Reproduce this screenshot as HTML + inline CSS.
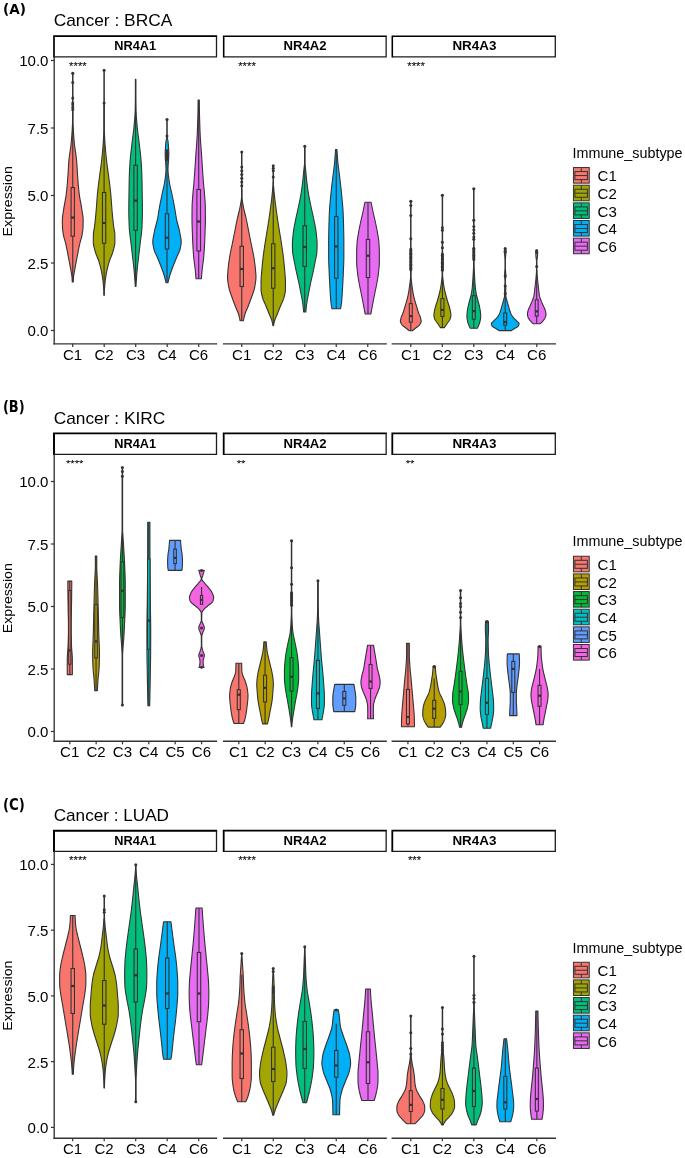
<!DOCTYPE html>
<html lang="en"><head><meta charset="utf-8"><title>NR4A expression by immune subtype</title>
<style>
html,body{margin:0;padding:0;background:#fff}
body{width:685px;height:1158px;overflow:hidden}
svg text{font-family:"Liberation Sans",sans-serif;fill:#000}
svg text.tag{font-family:"DejaVu Sans","Liberation Sans",sans-serif;font-weight:bold;font-size:13.6px}
.title{font-size:16.2px}
.strip{font-weight:bold;font-size:12.9px}
.ax{font-size:14.4px}
.legt{font-size:14.2px}
.ylab{font-size:13.7px}
.star{font-size:10.8px;fill:#000;stroke:#000;stroke-width:0.1px}
</style></head><body>
<svg width="685" height="1158" viewBox="0 0 685 1158" style="display:block">
<rect width="685" height="1158" fill="#fff"/>
<defs><clipPath id="cb"><rect x="0" y="450" width="685" height="13.25"/></clipPath></defs>
<g id="violins">
<path d="M72.95 73.30L72.95 74.30L72.95 75.30L72.95 76.30L72.95 77.30L72.95 78.30L72.95 79.30L72.95 80.30L72.95 81.30L72.95 82.30L72.95 83.30L72.95 84.30L72.95 85.30L72.95 86.30L72.95 87.30L72.95 88.30L72.95 89.30L72.95 90.30L72.95 91.30L72.95 92.30L72.95 93.30L72.95 94.30L72.95 95.30L72.95 96.30L72.95 97.30L72.95 98.30L72.95 99.30L72.95 100.30L72.95 101.30L72.95 102.30L72.95 103.30L72.95 104.30L72.95 105.30L72.95 106.30L72.95 107.30L72.95 108.30L72.95 109.30L72.95 110.30L72.95 111.30L72.95 112.30L72.95 113.30L72.95 114.30L72.95 115.30L72.95 116.30L72.95 117.30L72.95 118.30L72.95 119.30L72.95 120.30L72.95 121.30L72.95 122.30L72.99 123.30L73.04 124.30L73.09 125.30L73.13 126.30L73.18 127.30L73.23 128.30L73.28 129.30L73.34 130.30L73.40 131.30L73.46 132.30L73.53 133.30L73.60 134.30L73.67 135.30L73.75 136.30L73.83 137.30L73.91 138.30L73.99 139.30L74.08 140.30L74.17 141.30L74.26 142.30L74.35 143.30L74.45 144.30L74.56 145.30L74.69 146.30L74.82 147.30L74.96 148.30L75.11 149.30L75.26 150.30L75.41 151.30L75.56 152.30L75.71 153.30L75.86 154.30L76.00 155.30L76.14 156.30L76.26 157.30L76.38 158.30L76.48 159.30L76.58 160.30L76.66 161.30L76.74 162.30L76.81 163.30L76.88 164.30L76.94 165.30L77.00 166.30L77.06 167.30L77.12 168.30L77.18 169.30L77.24 170.30L77.29 171.30L77.35 172.30L77.42 173.30L77.48 174.30L77.55 175.30L77.62 176.30L77.70 177.30L77.77 178.30L77.85 179.30L77.93 180.30L78.01 181.30L78.09 182.30L78.17 183.30L78.25 184.30L78.34 185.30L78.43 186.30L78.52 187.30L78.62 188.30L78.72 189.30L78.82 190.30L78.92 191.30L79.03 192.30L79.15 193.30L79.27 194.30L79.41 195.30L79.56 196.30L79.73 197.30L79.90 198.30L80.07 199.30L80.26 200.30L80.44 201.30L80.63 202.30L80.82 203.30L81.00 204.30L81.19 205.30L81.36 206.30L81.54 207.30L81.70 208.30L81.85 209.30L81.99 210.30L82.14 211.30L82.30 212.30L82.46 213.30L82.62 214.30L82.77 215.30L82.90 216.30L83.01 217.30L83.09 218.30L83.14 219.30L83.15 220.30L83.15 221.30L83.14 222.30L83.12 223.30L83.10 224.30L83.08 225.30L83.06 226.30L83.03 227.30L82.97 228.30L82.88 229.30L82.77 230.30L82.63 231.30L82.49 232.30L82.33 233.30L82.17 234.30L82.00 235.30L81.79 236.30L81.54 237.30L81.27 238.30L80.97 239.30L80.67 240.30L80.38 241.30L80.10 242.30L79.85 243.30L79.62 244.30L79.40 245.30L79.19 246.30L78.98 247.30L78.78 248.30L78.58 249.30L78.38 250.30L78.19 251.30L78.00 252.30L77.81 253.30L77.62 254.30L77.43 255.30L77.24 256.30L77.04 257.30L76.85 258.30L76.65 259.30L76.46 260.30L76.26 261.30L76.07 262.30L75.88 263.30L75.69 264.30L75.50 265.30L75.32 266.30L75.14 267.30L74.96 268.30L74.78 269.30L74.61 270.30L74.43 271.30L74.24 272.30L74.06 273.30L73.89 274.30L73.74 275.30L73.62 276.30L73.52 277.30L73.44 278.30L73.37 279.30L73.31 280.30L73.27 281.30L73.25 282.00L72.25 282.00L72.23 281.30L72.19 280.30L72.13 279.30L72.06 278.30L71.98 277.30L71.88 276.30L71.76 275.30L71.61 274.30L71.44 273.30L71.26 272.30L71.07 271.30L70.89 270.30L70.72 269.30L70.54 268.30L70.36 267.30L70.18 266.30L70.00 265.30L69.81 264.30L69.62 263.30L69.43 262.30L69.24 261.30L69.04 260.30L68.85 259.30L68.65 258.30L68.46 257.30L68.26 256.30L68.07 255.30L67.88 254.30L67.69 253.30L67.50 252.30L67.31 251.30L67.12 250.30L66.92 249.30L66.72 248.30L66.52 247.30L66.31 246.30L66.10 245.30L65.88 244.30L65.65 243.30L65.40 242.30L65.12 241.30L64.83 240.30L64.53 239.30L64.23 238.30L63.96 237.30L63.71 236.30L63.50 235.30L63.33 234.30L63.17 233.30L63.01 232.30L62.87 231.30L62.73 230.30L62.62 229.30L62.53 228.30L62.47 227.30L62.44 226.30L62.42 225.30L62.40 224.30L62.38 223.30L62.36 222.30L62.35 221.30L62.35 220.30L62.36 219.30L62.41 218.30L62.49 217.30L62.60 216.30L62.73 215.30L62.88 214.30L63.04 213.30L63.20 212.30L63.36 211.30L63.51 210.30L63.65 209.30L63.80 208.30L63.96 207.30L64.14 206.30L64.31 205.30L64.50 204.30L64.68 203.30L64.87 202.30L65.06 201.30L65.24 200.30L65.43 199.30L65.60 198.30L65.77 197.30L65.94 196.30L66.09 195.30L66.23 194.30L66.35 193.30L66.47 192.30L66.58 191.30L66.68 190.30L66.78 189.30L66.88 188.30L66.98 187.30L67.07 186.30L67.16 185.30L67.25 184.30L67.33 183.30L67.41 182.30L67.49 181.30L67.57 180.30L67.65 179.30L67.73 178.30L67.80 177.30L67.88 176.30L67.95 175.30L68.02 174.30L68.08 173.30L68.15 172.30L68.21 171.30L68.26 170.30L68.32 169.30L68.38 168.30L68.44 167.30L68.50 166.30L68.56 165.30L68.62 164.30L68.69 163.30L68.76 162.30L68.84 161.30L68.92 160.30L69.02 159.30L69.12 158.30L69.24 157.30L69.36 156.30L69.50 155.30L69.64 154.30L69.79 153.30L69.94 152.30L70.09 151.30L70.24 150.30L70.39 149.30L70.54 148.30L70.68 147.30L70.81 146.30L70.94 145.30L71.05 144.30L71.15 143.30L71.24 142.30L71.33 141.30L71.42 140.30L71.51 139.30L71.59 138.30L71.67 137.30L71.75 136.30L71.83 135.30L71.90 134.30L71.97 133.30L72.04 132.30L72.10 131.30L72.16 130.30L72.22 129.30L72.27 128.30L72.32 127.30L72.37 126.30L72.41 125.30L72.46 124.30L72.51 123.30L72.55 122.30L72.55 121.30L72.55 120.30L72.55 119.30L72.55 118.30L72.55 117.30L72.55 116.30L72.55 115.30L72.55 114.30L72.55 113.30L72.55 112.30L72.55 111.30L72.55 110.30L72.55 109.30L72.55 108.30L72.55 107.30L72.55 106.30L72.55 105.30L72.55 104.30L72.55 103.30L72.55 102.30L72.55 101.30L72.55 100.30L72.55 99.30L72.55 98.30L72.55 97.30L72.55 96.30L72.55 95.30L72.55 94.30L72.55 93.30L72.55 92.30L72.55 91.30L72.55 90.30L72.55 89.30L72.55 88.30L72.55 87.30L72.55 86.30L72.55 85.30L72.55 84.30L72.55 83.30L72.55 82.30L72.55 81.30L72.55 80.30L72.55 79.30L72.55 78.30L72.55 77.30L72.55 76.30L72.55 75.30L72.55 74.30L72.55 73.30Z" fill="#F8766D" stroke="#333333" stroke-width="1.1" stroke-linejoin="round"/>
<path d="M104.30 70.30L104.30 71.30L104.30 72.30L104.30 73.30L104.30 74.30L104.30 75.30L104.30 76.30L104.30 77.30L104.30 78.30L104.30 79.30L104.30 80.30L104.30 81.30L104.30 82.30L104.30 83.30L104.30 84.30L104.30 85.30L104.30 86.30L104.30 87.30L104.30 88.30L104.30 89.30L104.30 90.30L104.30 91.30L104.30 92.30L104.30 93.30L104.30 94.30L104.30 95.30L104.30 96.30L104.30 97.30L104.30 98.30L104.30 99.30L104.30 100.30L104.30 101.30L104.30 102.30L104.30 103.30L104.30 104.30L104.30 105.30L104.30 106.30L104.30 107.30L104.30 108.30L104.30 109.30L104.30 110.30L104.30 111.30L104.30 112.30L104.30 113.30L104.30 114.30L104.30 115.30L104.30 116.30L104.30 117.30L104.30 118.30L104.30 119.30L104.30 120.30L104.30 121.30L104.30 122.30L104.30 123.30L104.30 124.30L104.30 125.30L104.30 126.30L104.30 127.30L104.30 128.30L104.30 129.30L104.30 130.30L104.34 131.30L104.38 132.30L104.43 133.30L104.47 134.30L104.53 135.30L104.58 136.30L104.64 137.30L104.69 138.30L104.75 139.30L104.81 140.30L104.88 141.30L104.94 142.30L105.00 143.30L105.06 144.30L105.13 145.30L105.21 146.30L105.28 147.30L105.36 148.30L105.45 149.30L105.54 150.30L105.63 151.30L105.72 152.30L105.81 153.30L105.91 154.30L106.01 155.30L106.11 156.30L106.22 157.30L106.32 158.30L106.43 159.30L106.53 160.30L106.64 161.30L106.76 162.30L106.88 163.30L107.01 164.30L107.14 165.30L107.28 166.30L107.41 167.30L107.55 168.30L107.69 169.30L107.83 170.30L107.97 171.30L108.11 172.30L108.25 173.30L108.39 174.30L108.52 175.30L108.65 176.30L108.78 177.30L108.90 178.30L109.03 179.30L109.16 180.30L109.29 181.30L109.42 182.30L109.55 183.30L109.68 184.30L109.80 185.30L109.93 186.30L110.05 187.30L110.17 188.30L110.28 189.30L110.39 190.30L110.50 191.30L110.60 192.30L110.70 193.30L110.79 194.30L110.88 195.30L110.96 196.30L111.04 197.30L111.12 198.30L111.19 199.30L111.27 200.30L111.34 201.30L111.41 202.30L111.48 203.30L111.55 204.30L111.62 205.30L111.70 206.30L111.78 207.30L111.86 208.30L111.94 209.30L112.03 210.30L112.12 211.30L112.20 212.30L112.30 213.30L112.39 214.30L112.48 215.30L112.57 216.30L112.67 217.30L112.77 218.30L112.87 219.30L112.97 220.30L113.08 221.30L113.19 222.30L113.30 223.30L113.41 224.30L113.53 225.30L113.65 226.30L113.78 227.30L113.95 228.30L114.14 229.30L114.33 230.30L114.51 231.30L114.66 232.30L114.77 233.30L114.81 234.30L114.83 235.30L114.85 236.30L114.86 237.30L114.88 238.30L114.89 239.30L114.90 240.30L114.90 241.30L114.90 242.30L114.84 243.30L114.73 244.30L114.56 245.30L114.35 246.30L114.11 247.30L113.84 248.30L113.56 249.30L113.28 250.30L112.99 251.30L112.72 252.30L112.41 253.30L112.06 254.30L111.68 255.30L111.28 256.30L110.86 257.30L110.45 258.30L110.05 259.30L109.67 260.30L109.32 261.30L109.01 262.30L108.72 263.30L108.43 264.30L108.16 265.30L107.89 266.30L107.64 267.30L107.39 268.30L107.16 269.30L106.94 270.30L106.73 271.30L106.54 272.30L106.36 273.30L106.18 274.30L106.01 275.30L105.85 276.30L105.70 277.30L105.55 278.30L105.42 279.30L105.29 280.30L105.17 281.30L105.07 282.30L104.97 283.30L104.87 284.30L104.78 285.30L104.68 286.30L104.60 287.30L104.51 288.30L104.43 289.30L104.36 290.30L104.30 291.30L104.30 292.30L104.30 293.30L104.30 294.30L104.30 295.25L103.90 295.25L103.90 294.30L103.90 293.30L103.90 292.30L103.90 291.30L103.84 290.30L103.77 289.30L103.69 288.30L103.60 287.30L103.52 286.30L103.42 285.30L103.33 284.30L103.23 283.30L103.13 282.30L103.03 281.30L102.91 280.30L102.78 279.30L102.65 278.30L102.50 277.30L102.35 276.30L102.19 275.30L102.02 274.30L101.84 273.30L101.66 272.30L101.47 271.30L101.26 270.30L101.04 269.30L100.81 268.30L100.56 267.30L100.31 266.30L100.04 265.30L99.77 264.30L99.48 263.30L99.19 262.30L98.88 261.30L98.53 260.30L98.15 259.30L97.75 258.30L97.34 257.30L96.92 256.30L96.52 255.30L96.14 254.30L95.79 253.30L95.48 252.30L95.21 251.30L94.92 250.30L94.64 249.30L94.36 248.30L94.09 247.30L93.85 246.30L93.64 245.30L93.47 244.30L93.36 243.30L93.30 242.30L93.30 241.30L93.30 240.30L93.31 239.30L93.32 238.30L93.34 237.30L93.35 236.30L93.37 235.30L93.39 234.30L93.43 233.30L93.54 232.30L93.69 231.30L93.87 230.30L94.06 229.30L94.25 228.30L94.42 227.30L94.55 226.30L94.67 225.30L94.79 224.30L94.90 223.30L95.01 222.30L95.12 221.30L95.23 220.30L95.33 219.30L95.43 218.30L95.53 217.30L95.63 216.30L95.72 215.30L95.81 214.30L95.90 213.30L96.00 212.30L96.08 211.30L96.17 210.30L96.26 209.30L96.34 208.30L96.42 207.30L96.50 206.30L96.58 205.30L96.65 204.30L96.72 203.30L96.79 202.30L96.86 201.30L96.93 200.30L97.01 199.30L97.08 198.30L97.16 197.30L97.24 196.30L97.32 195.30L97.41 194.30L97.50 193.30L97.60 192.30L97.70 191.30L97.81 190.30L97.92 189.30L98.03 188.30L98.15 187.30L98.27 186.30L98.40 185.30L98.52 184.30L98.65 183.30L98.78 182.30L98.91 181.30L99.04 180.30L99.17 179.30L99.30 178.30L99.42 177.30L99.55 176.30L99.68 175.30L99.81 174.30L99.95 173.30L100.09 172.30L100.23 171.30L100.37 170.30L100.51 169.30L100.65 168.30L100.79 167.30L100.92 166.30L101.06 165.30L101.19 164.30L101.32 163.30L101.44 162.30L101.56 161.30L101.67 160.30L101.77 159.30L101.88 158.30L101.98 157.30L102.09 156.30L102.19 155.30L102.29 154.30L102.39 153.30L102.48 152.30L102.57 151.30L102.66 150.30L102.75 149.30L102.84 148.30L102.92 147.30L102.99 146.30L103.07 145.30L103.14 144.30L103.20 143.30L103.26 142.30L103.32 141.30L103.39 140.30L103.45 139.30L103.51 138.30L103.56 137.30L103.62 136.30L103.67 135.30L103.73 134.30L103.77 133.30L103.82 132.30L103.86 131.30L103.90 130.30L103.90 129.30L103.90 128.30L103.90 127.30L103.90 126.30L103.90 125.30L103.90 124.30L103.90 123.30L103.90 122.30L103.90 121.30L103.90 120.30L103.90 119.30L103.90 118.30L103.90 117.30L103.90 116.30L103.90 115.30L103.90 114.30L103.90 113.30L103.90 112.30L103.90 111.30L103.90 110.30L103.90 109.30L103.90 108.30L103.90 107.30L103.90 106.30L103.90 105.30L103.90 104.30L103.90 103.30L103.90 102.30L103.90 101.30L103.90 100.30L103.90 99.30L103.90 98.30L103.90 97.30L103.90 96.30L103.90 95.30L103.90 94.30L103.90 93.30L103.90 92.30L103.90 91.30L103.90 90.30L103.90 89.30L103.90 88.30L103.90 87.30L103.90 86.30L103.90 85.30L103.90 84.30L103.90 83.30L103.90 82.30L103.90 81.30L103.90 80.30L103.90 79.30L103.90 78.30L103.90 77.30L103.90 76.30L103.90 75.30L103.90 74.30L103.90 73.30L103.90 72.30L103.90 71.30L103.90 70.30Z" fill="#A3A500" stroke="#333333" stroke-width="1.1" stroke-linejoin="round"/>
<path d="M135.80 79.30L135.80 80.30L135.80 81.30L135.80 82.30L135.80 83.30L135.80 84.30L135.80 85.30L135.80 86.30L135.80 87.30L135.80 88.30L135.80 89.30L135.80 90.30L135.80 91.30L135.80 92.30L135.80 93.30L135.80 94.30L135.80 95.30L135.81 96.30L135.82 97.30L135.83 98.30L135.84 99.30L135.85 100.30L135.86 101.30L135.87 102.30L135.88 103.30L135.90 104.30L135.91 105.30L135.93 106.30L135.95 107.30L135.96 108.30L135.98 109.30L136.01 110.30L136.04 111.30L136.08 112.30L136.12 113.30L136.18 114.30L136.24 115.30L136.30 116.30L136.38 117.30L136.45 118.30L136.54 119.30L136.62 120.30L136.71 121.30L136.80 122.30L136.89 123.30L136.98 124.30L137.07 125.30L137.16 126.30L137.26 127.30L137.35 128.30L137.46 129.30L137.57 130.30L137.69 131.30L137.81 132.30L137.93 133.30L138.06 134.30L138.19 135.30L138.32 136.30L138.45 137.30L138.58 138.30L138.71 139.30L138.84 140.30L138.96 141.30L139.08 142.30L139.20 143.30L139.32 144.30L139.43 145.30L139.55 146.30L139.67 147.30L139.79 148.30L139.91 149.30L140.03 150.30L140.15 151.30L140.26 152.30L140.37 153.30L140.48 154.30L140.59 155.30L140.69 156.30L140.78 157.30L140.87 158.30L140.95 159.30L141.02 160.30L141.09 161.30L141.16 162.30L141.23 163.30L141.30 164.30L141.36 165.30L141.42 166.30L141.48 167.30L141.54 168.30L141.60 169.30L141.65 170.30L141.70 171.30L141.74 172.30L141.78 173.30L141.82 174.30L141.86 175.30L141.89 176.30L141.92 177.30L141.94 178.30L141.96 179.30L141.99 180.30L142.01 181.30L142.03 182.30L142.05 183.30L142.06 184.30L142.08 185.30L142.10 186.30L142.11 187.30L142.13 188.30L142.14 189.30L142.16 190.30L142.17 191.30L142.19 192.30L142.20 193.30L142.21 194.30L142.23 195.30L142.25 196.30L142.26 197.30L142.28 198.30L142.29 199.30L142.31 200.30L142.33 201.30L142.34 202.30L142.35 203.30L142.36 204.30L142.38 205.30L142.38 206.30L142.39 207.30L142.40 208.30L142.40 209.30L142.40 210.30L142.40 211.30L142.39 212.30L142.38 213.30L142.37 214.30L142.35 215.30L142.33 216.30L142.31 217.30L142.28 218.30L142.26 219.30L142.23 220.30L142.20 221.30L142.16 222.30L142.13 223.30L142.09 224.30L142.05 225.30L142.02 226.30L141.97 227.30L141.92 228.30L141.85 229.30L141.76 230.30L141.67 231.30L141.57 232.30L141.46 233.30L141.34 234.30L141.21 235.30L141.09 236.30L140.96 237.30L140.83 238.30L140.69 239.30L140.56 240.30L140.44 241.30L140.32 242.30L140.20 243.30L140.09 244.30L139.97 245.30L139.86 246.30L139.74 247.30L139.62 248.30L139.50 249.30L139.39 250.30L139.27 251.30L139.15 252.30L139.03 253.30L138.91 254.30L138.80 255.30L138.68 256.30L138.57 257.30L138.45 258.30L138.33 259.30L138.21 260.30L138.10 261.30L137.98 262.30L137.86 263.30L137.75 264.30L137.63 265.30L137.52 266.30L137.42 267.30L137.32 268.30L137.22 269.30L137.13 270.30L137.04 271.30L136.95 272.30L136.86 273.30L136.78 274.30L136.70 275.30L136.62 276.30L136.55 277.30L136.47 278.30L136.40 279.30L136.32 280.30L136.25 281.30L136.18 282.30L136.11 283.30L136.04 284.30L135.98 285.30L135.91 286.30L135.90 286.50L135.30 286.50L135.29 286.30L135.22 285.30L135.16 284.30L135.09 283.30L135.02 282.30L134.95 281.30L134.88 280.30L134.80 279.30L134.73 278.30L134.65 277.30L134.58 276.30L134.50 275.30L134.42 274.30L134.34 273.30L134.25 272.30L134.16 271.30L134.07 270.30L133.98 269.30L133.88 268.30L133.78 267.30L133.68 266.30L133.57 265.30L133.45 264.30L133.34 263.30L133.22 262.30L133.10 261.30L132.99 260.30L132.87 259.30L132.75 258.30L132.63 257.30L132.52 256.30L132.40 255.30L132.29 254.30L132.17 253.30L132.05 252.30L131.93 251.30L131.81 250.30L131.70 249.30L131.58 248.30L131.46 247.30L131.34 246.30L131.23 245.30L131.11 244.30L131.00 243.30L130.88 242.30L130.76 241.30L130.64 240.30L130.51 239.30L130.37 238.30L130.24 237.30L130.11 236.30L129.99 235.30L129.86 234.30L129.74 233.30L129.63 232.30L129.53 231.30L129.44 230.30L129.35 229.30L129.28 228.30L129.23 227.30L129.18 226.30L129.15 225.30L129.11 224.30L129.07 223.30L129.04 222.30L129.00 221.30L128.97 220.30L128.94 219.30L128.92 218.30L128.89 217.30L128.87 216.30L128.85 215.30L128.83 214.30L128.82 213.30L128.81 212.30L128.80 211.30L128.80 210.30L128.80 209.30L128.80 208.30L128.81 207.30L128.82 206.30L128.82 205.30L128.84 204.30L128.85 203.30L128.86 202.30L128.87 201.30L128.89 200.30L128.91 199.30L128.92 198.30L128.94 197.30L128.95 196.30L128.97 195.30L128.99 194.30L129.00 193.30L129.01 192.30L129.03 191.30L129.04 190.30L129.06 189.30L129.07 188.30L129.09 187.30L129.10 186.30L129.12 185.30L129.14 184.30L129.15 183.30L129.17 182.30L129.19 181.30L129.21 180.30L129.24 179.30L129.26 178.30L129.28 177.30L129.31 176.30L129.34 175.30L129.38 174.30L129.42 173.30L129.46 172.30L129.50 171.30L129.55 170.30L129.60 169.30L129.66 168.30L129.72 167.30L129.78 166.30L129.84 165.30L129.90 164.30L129.97 163.30L130.04 162.30L130.11 161.30L130.18 160.30L130.25 159.30L130.33 158.30L130.42 157.30L130.51 156.30L130.61 155.30L130.72 154.30L130.83 153.30L130.94 152.30L131.05 151.30L131.17 150.30L131.29 149.30L131.41 148.30L131.53 147.30L131.65 146.30L131.77 145.30L131.88 144.30L132.00 143.30L132.12 142.30L132.24 141.30L132.36 140.30L132.49 139.30L132.62 138.30L132.75 137.30L132.88 136.30L133.01 135.30L133.14 134.30L133.27 133.30L133.39 132.30L133.51 131.30L133.63 130.30L133.74 129.30L133.85 128.30L133.94 127.30L134.04 126.30L134.13 125.30L134.22 124.30L134.31 123.30L134.40 122.30L134.49 121.30L134.58 120.30L134.66 119.30L134.75 118.30L134.82 117.30L134.90 116.30L134.96 115.30L135.02 114.30L135.08 113.30L135.12 112.30L135.16 111.30L135.19 110.30L135.22 109.30L135.24 108.30L135.25 107.30L135.27 106.30L135.29 105.30L135.30 104.30L135.32 103.30L135.33 102.30L135.34 101.30L135.35 100.30L135.36 99.30L135.37 98.30L135.38 97.30L135.39 96.30L135.40 95.30L135.40 94.30L135.40 93.30L135.40 92.30L135.40 91.30L135.40 90.30L135.40 89.30L135.40 88.30L135.40 87.30L135.40 86.30L135.40 85.30L135.40 84.30L135.40 83.30L135.40 82.30L135.40 81.30L135.40 80.30L135.40 79.30Z" fill="#00BF7D" stroke="#333333" stroke-width="1.1" stroke-linejoin="round"/>
<path d="M167.20 119.50L167.20 120.50L167.20 121.50L167.20 122.50L167.20 123.50L167.20 124.50L167.20 125.50L167.20 126.50L167.20 127.50L167.20 128.50L167.20 129.50L167.20 130.50L167.20 131.50L167.20 132.50L167.20 133.50L167.20 134.50L167.20 135.50L167.23 136.50L167.35 137.50L167.52 138.50L167.71 139.50L167.90 140.50L168.05 141.50L168.14 142.50L168.23 143.50L168.31 144.50L168.39 145.50L168.47 146.50L168.54 147.50L168.60 148.50L168.66 149.50L168.71 150.50L168.75 151.50L168.78 152.50L168.79 153.50L168.80 154.50L168.79 155.50L168.76 156.50L168.72 157.50L168.66 158.50L168.59 159.50L168.52 160.50L168.44 161.50L168.36 162.50L168.28 163.50L168.21 164.50L168.14 165.50L168.08 166.50L168.04 167.50L168.01 168.50L168.00 169.50L168.01 170.50L168.05 171.50L168.12 172.50L168.20 173.50L168.30 174.50L168.42 175.50L168.55 176.50L168.69 177.50L168.83 178.50L168.98 179.50L169.13 180.50L169.28 181.50L169.42 182.50L169.59 183.50L169.77 184.50L169.97 185.50L170.18 186.50L170.41 187.50L170.63 188.50L170.87 189.50L171.10 190.50L171.34 191.50L171.57 192.50L171.79 193.50L172.00 194.50L172.21 195.50L172.41 196.50L172.62 197.50L172.83 198.50L173.03 199.50L173.24 200.50L173.44 201.50L173.64 202.50L173.84 203.50L174.03 204.50L174.22 205.50L174.41 206.50L174.59 207.50L174.76 208.50L174.93 209.50L175.09 210.50L175.25 211.50L175.41 212.50L175.56 213.50L175.72 214.50L175.88 215.50L176.05 216.50L176.22 217.50L176.41 218.50L176.60 219.50L176.81 220.50L177.05 221.50L177.30 222.50L177.56 223.50L177.83 224.50L178.10 225.50L178.38 226.50L178.65 227.50L178.91 228.50L179.16 229.50L179.39 230.50L179.60 231.50L179.79 232.50L179.99 233.50L180.19 234.50L180.40 235.50L180.59 236.50L180.77 237.50L180.92 238.50L181.05 239.50L181.14 240.50L181.19 241.50L181.19 242.50L181.13 243.50L181.02 244.50L180.86 245.50L180.67 246.50L180.46 247.50L180.23 248.50L180.00 249.50L179.72 250.50L179.35 251.50L178.92 252.50L178.45 253.50L177.96 254.50L177.47 255.50L177.01 256.50L176.59 257.50L176.18 258.50L175.77 259.50L175.36 260.50L174.95 261.50L174.54 262.50L174.14 263.50L173.74 264.50L173.35 265.50L172.97 266.50L172.59 267.50L172.21 268.50L171.85 269.50L171.49 270.50L171.13 271.50L170.78 272.50L170.43 273.50L170.10 274.50L169.79 275.50L169.49 276.50L169.21 277.50L168.95 278.50L168.71 279.50L168.47 280.50L168.25 281.50L168.05 282.50L168.00 282.75L166.00 282.75L165.95 282.50L165.75 281.50L165.53 280.50L165.29 279.50L165.05 278.50L164.79 277.50L164.51 276.50L164.21 275.50L163.90 274.50L163.57 273.50L163.22 272.50L162.87 271.50L162.51 270.50L162.15 269.50L161.79 268.50L161.41 267.50L161.03 266.50L160.65 265.50L160.26 264.50L159.86 263.50L159.46 262.50L159.05 261.50L158.64 260.50L158.23 259.50L157.82 258.50L157.41 257.50L156.99 256.50L156.53 255.50L156.04 254.50L155.55 253.50L155.08 252.50L154.65 251.50L154.28 250.50L154.00 249.50L153.77 248.50L153.54 247.50L153.33 246.50L153.14 245.50L152.98 244.50L152.87 243.50L152.81 242.50L152.81 241.50L152.86 240.50L152.95 239.50L153.08 238.50L153.23 237.50L153.41 236.50L153.60 235.50L153.81 234.50L154.01 233.50L154.21 232.50L154.40 231.50L154.61 230.50L154.84 229.50L155.09 228.50L155.35 227.50L155.62 226.50L155.90 225.50L156.17 224.50L156.44 223.50L156.70 222.50L156.95 221.50L157.19 220.50L157.40 219.50L157.59 218.50L157.78 217.50L157.95 216.50L158.12 215.50L158.28 214.50L158.44 213.50L158.59 212.50L158.75 211.50L158.91 210.50L159.07 209.50L159.24 208.50L159.41 207.50L159.59 206.50L159.78 205.50L159.97 204.50L160.16 203.50L160.36 202.50L160.56 201.50L160.76 200.50L160.97 199.50L161.17 198.50L161.38 197.50L161.59 196.50L161.79 195.50L162.00 194.50L162.21 193.50L162.43 192.50L162.66 191.50L162.90 190.50L163.13 189.50L163.37 188.50L163.59 187.50L163.82 186.50L164.03 185.50L164.23 184.50L164.41 183.50L164.58 182.50L164.72 181.50L164.87 180.50L165.02 179.50L165.17 178.50L165.31 177.50L165.45 176.50L165.58 175.50L165.70 174.50L165.80 173.50L165.88 172.50L165.95 171.50L165.99 170.50L166.00 169.50L165.99 168.50L165.96 167.50L165.92 166.50L165.86 165.50L165.79 164.50L165.72 163.50L165.64 162.50L165.56 161.50L165.48 160.50L165.41 159.50L165.34 158.50L165.28 157.50L165.24 156.50L165.21 155.50L165.20 154.50L165.21 153.50L165.22 152.50L165.25 151.50L165.29 150.50L165.34 149.50L165.40 148.50L165.46 147.50L165.53 146.50L165.61 145.50L165.69 144.50L165.77 143.50L165.86 142.50L165.95 141.50L166.10 140.50L166.29 139.50L166.48 138.50L166.65 137.50L166.77 136.50L166.80 135.50L166.80 134.50L166.80 133.50L166.80 132.50L166.80 131.50L166.80 130.50L166.80 129.50L166.80 128.50L166.80 127.50L166.80 126.50L166.80 125.50L166.80 124.50L166.80 123.50L166.80 122.50L166.80 121.50L166.80 120.50L166.80 119.50Z" fill="#00B0F6" stroke="#333333" stroke-width="1.1" stroke-linejoin="round"/>
<path d="M199.30 100.00L199.30 101.00L199.30 102.00L199.31 103.00L199.32 104.00L199.33 105.00L199.34 106.00L199.35 107.00L199.36 108.00L199.38 109.00L199.40 110.00L199.42 111.00L199.44 112.00L199.46 113.00L199.48 114.00L199.51 115.00L199.53 116.00L199.56 117.00L199.59 118.00L199.62 119.00L199.65 120.00L199.68 121.00L199.71 122.00L199.74 123.00L199.77 124.00L199.81 125.00L199.84 126.00L199.88 127.00L199.91 128.00L199.94 129.00L199.98 130.00L200.01 131.00L200.05 132.00L200.09 133.00L200.13 134.00L200.18 135.00L200.23 136.00L200.28 137.00L200.34 138.00L200.40 139.00L200.46 140.00L200.53 141.00L200.60 142.00L200.67 143.00L200.74 144.00L200.81 145.00L200.89 146.00L200.96 147.00L201.04 148.00L201.11 149.00L201.19 150.00L201.27 151.00L201.34 152.00L201.42 153.00L201.49 154.00L201.56 155.00L201.63 156.00L201.70 157.00L201.77 158.00L201.83 159.00L201.90 160.00L201.96 161.00L202.03 162.00L202.09 163.00L202.16 164.00L202.22 165.00L202.28 166.00L202.35 167.00L202.41 168.00L202.48 169.00L202.54 170.00L202.61 171.00L202.68 172.00L202.74 173.00L202.81 174.00L202.88 175.00L202.95 176.00L203.02 177.00L203.09 178.00L203.17 179.00L203.24 180.00L203.32 181.00L203.40 182.00L203.48 183.00L203.57 184.00L203.66 185.00L203.76 186.00L203.86 187.00L203.96 188.00L204.06 189.00L204.16 190.00L204.25 191.00L204.35 192.00L204.43 193.00L204.51 194.00L204.59 195.00L204.66 196.00L204.74 197.00L204.82 198.00L204.89 199.00L204.96 200.00L205.03 201.00L205.10 202.00L205.16 203.00L205.21 204.00L205.25 205.00L205.28 206.00L205.30 207.00L205.31 208.00L205.33 209.00L205.34 210.00L205.35 211.00L205.36 212.00L205.37 213.00L205.38 214.00L205.39 215.00L205.39 216.00L205.40 217.00L205.40 218.00L205.40 219.00L205.40 220.00L205.39 221.00L205.38 222.00L205.36 223.00L205.33 224.00L205.30 225.00L205.27 226.00L205.23 227.00L205.20 228.00L205.16 229.00L205.12 230.00L205.08 231.00L205.05 232.00L205.02 233.00L204.98 234.00L204.95 235.00L204.91 236.00L204.88 237.00L204.84 238.00L204.80 239.00L204.76 240.00L204.71 241.00L204.67 242.00L204.62 243.00L204.57 244.00L204.52 245.00L204.47 246.00L204.42 247.00L204.36 248.00L204.30 249.00L204.23 250.00L204.16 251.00L204.10 252.00L204.02 253.00L203.95 254.00L203.87 255.00L203.79 256.00L203.70 257.00L203.61 258.00L203.50 259.00L203.39 260.00L203.26 261.00L203.14 262.00L203.00 263.00L202.87 264.00L202.74 265.00L202.61 266.00L202.48 267.00L202.36 268.00L202.25 269.00L202.15 270.00L202.05 271.00L201.96 272.00L201.87 273.00L201.78 274.00L201.69 275.00L201.61 276.00L201.53 277.00L201.46 278.00L201.40 278.75L196.00 278.75L195.94 278.00L195.87 277.00L195.79 276.00L195.71 275.00L195.62 274.00L195.53 273.00L195.44 272.00L195.35 271.00L195.25 270.00L195.15 269.00L195.04 268.00L194.92 267.00L194.79 266.00L194.66 265.00L194.53 264.00L194.40 263.00L194.26 262.00L194.14 261.00L194.01 260.00L193.90 259.00L193.79 258.00L193.70 257.00L193.61 256.00L193.53 255.00L193.45 254.00L193.38 253.00L193.30 252.00L193.24 251.00L193.17 250.00L193.10 249.00L193.04 248.00L192.98 247.00L192.93 246.00L192.88 245.00L192.83 244.00L192.78 243.00L192.73 242.00L192.69 241.00L192.64 240.00L192.60 239.00L192.56 238.00L192.52 237.00L192.49 236.00L192.45 235.00L192.42 234.00L192.38 233.00L192.35 232.00L192.32 231.00L192.28 230.00L192.24 229.00L192.20 228.00L192.17 227.00L192.13 226.00L192.10 225.00L192.07 224.00L192.04 223.00L192.02 222.00L192.01 221.00L192.00 220.00L192.00 219.00L192.00 218.00L192.00 217.00L192.01 216.00L192.01 215.00L192.02 214.00L192.03 213.00L192.04 212.00L192.05 211.00L192.06 210.00L192.07 209.00L192.09 208.00L192.10 207.00L192.12 206.00L192.15 205.00L192.19 204.00L192.24 203.00L192.30 202.00L192.37 201.00L192.44 200.00L192.51 199.00L192.58 198.00L192.66 197.00L192.74 196.00L192.81 195.00L192.89 194.00L192.97 193.00L193.05 192.00L193.15 191.00L193.24 190.00L193.34 189.00L193.44 188.00L193.54 187.00L193.64 186.00L193.74 185.00L193.83 184.00L193.92 183.00L194.00 182.00L194.08 181.00L194.16 180.00L194.23 179.00L194.31 178.00L194.38 177.00L194.45 176.00L194.52 175.00L194.59 174.00L194.66 173.00L194.72 172.00L194.79 171.00L194.86 170.00L194.92 169.00L194.99 168.00L195.05 167.00L195.12 166.00L195.18 165.00L195.24 164.00L195.31 163.00L195.37 162.00L195.44 161.00L195.50 160.00L195.57 159.00L195.63 158.00L195.70 157.00L195.77 156.00L195.84 155.00L195.91 154.00L195.98 153.00L196.06 152.00L196.13 151.00L196.21 150.00L196.29 149.00L196.36 148.00L196.44 147.00L196.51 146.00L196.59 145.00L196.66 144.00L196.73 143.00L196.80 142.00L196.87 141.00L196.94 140.00L197.00 139.00L197.06 138.00L197.12 137.00L197.17 136.00L197.22 135.00L197.27 134.00L197.31 133.00L197.35 132.00L197.39 131.00L197.42 130.00L197.46 129.00L197.49 128.00L197.52 127.00L197.56 126.00L197.59 125.00L197.63 124.00L197.66 123.00L197.69 122.00L197.72 121.00L197.75 120.00L197.78 119.00L197.81 118.00L197.84 117.00L197.87 116.00L197.89 115.00L197.92 114.00L197.94 113.00L197.96 112.00L197.98 111.00L198.00 110.00L198.02 109.00L198.04 108.00L198.05 107.00L198.06 106.00L198.07 105.00L198.08 104.00L198.09 103.00L198.10 102.00L198.10 101.00L198.10 100.00Z" fill="#E76BF3" stroke="#333333" stroke-width="1.1" stroke-linejoin="round"/>
<path d="M241.95 152.00L241.95 153.00L241.95 154.00L241.95 155.00L241.95 156.00L241.95 157.00L241.95 158.00L241.95 159.00L241.95 160.00L241.95 161.00L241.95 162.00L241.95 163.00L241.95 164.00L241.95 165.00L241.95 166.00L241.95 167.00L241.95 168.00L241.95 169.00L241.95 170.00L241.95 171.00L241.95 172.00L241.95 173.00L241.95 174.00L241.95 175.00L241.95 176.00L241.95 177.00L241.95 178.00L241.95 179.00L241.95 180.00L241.95 181.00L241.95 182.00L241.95 183.00L241.95 184.00L241.95 185.00L241.95 186.00L241.95 187.00L241.95 188.00L241.95 189.00L241.95 190.00L241.95 191.00L241.95 192.00L241.95 193.00L241.95 194.00L241.95 195.00L241.95 196.00L241.95 197.00L242.01 198.00L242.10 199.00L242.22 200.00L242.37 201.00L242.53 202.00L242.70 203.00L242.89 204.00L243.08 205.00L243.27 206.00L243.45 207.00L243.64 208.00L243.85 209.00L244.07 210.00L244.30 211.00L244.54 212.00L244.78 213.00L245.03 214.00L245.28 215.00L245.53 216.00L245.78 217.00L246.01 218.00L246.24 219.00L246.46 220.00L246.67 221.00L246.87 222.00L247.08 223.00L247.28 224.00L247.48 225.00L247.67 226.00L247.87 227.00L248.06 228.00L248.26 229.00L248.45 230.00L248.65 231.00L248.85 232.00L249.05 233.00L249.25 234.00L249.45 235.00L249.65 236.00L249.85 237.00L250.05 238.00L250.25 239.00L250.45 240.00L250.65 241.00L250.85 242.00L251.05 243.00L251.25 244.00L251.45 245.00L251.66 246.00L251.87 247.00L252.08 248.00L252.30 249.00L252.51 250.00L252.72 251.00L252.93 252.00L253.13 253.00L253.33 254.00L253.51 255.00L253.69 256.00L253.85 257.00L254.00 258.00L254.16 259.00L254.31 260.00L254.45 261.00L254.59 262.00L254.73 263.00L254.86 264.00L254.98 265.00L255.10 266.00L255.21 267.00L255.31 268.00L255.41 269.00L255.49 270.00L255.58 271.00L255.67 272.00L255.76 273.00L255.84 274.00L255.90 275.00L255.94 276.00L255.95 277.00L255.93 278.00L255.88 279.00L255.80 280.00L255.69 281.00L255.57 282.00L255.42 283.00L255.26 284.00L255.10 285.00L254.92 286.00L254.75 287.00L254.55 288.00L254.31 289.00L254.03 290.00L253.72 291.00L253.39 292.00L253.04 293.00L252.67 294.00L252.31 295.00L251.95 296.00L251.60 297.00L251.25 298.00L250.90 299.00L250.53 300.00L250.16 301.00L249.78 302.00L249.40 303.00L249.01 304.00L248.63 305.00L248.24 306.00L247.85 307.00L247.45 308.00L247.02 309.00L246.58 310.00L246.15 311.00L245.73 312.00L245.34 313.00L245.00 314.00L244.71 315.00L244.44 316.00L244.19 317.00L243.96 318.00L243.75 319.00L243.57 320.00L243.45 320.75L240.05 320.75L239.93 320.00L239.75 319.00L239.54 318.00L239.31 317.00L239.06 316.00L238.79 315.00L238.50 314.00L238.16 313.00L237.77 312.00L237.35 311.00L236.92 310.00L236.48 309.00L236.05 308.00L235.65 307.00L235.26 306.00L234.87 305.00L234.49 304.00L234.10 303.00L233.72 302.00L233.34 301.00L232.97 300.00L232.60 299.00L232.25 298.00L231.90 297.00L231.55 296.00L231.19 295.00L230.83 294.00L230.46 293.00L230.11 292.00L229.78 291.00L229.47 290.00L229.19 289.00L228.95 288.00L228.75 287.00L228.58 286.00L228.40 285.00L228.24 284.00L228.08 283.00L227.93 282.00L227.81 281.00L227.70 280.00L227.62 279.00L227.57 278.00L227.55 277.00L227.56 276.00L227.60 275.00L227.66 274.00L227.74 273.00L227.83 272.00L227.92 271.00L228.01 270.00L228.09 269.00L228.19 268.00L228.29 267.00L228.40 266.00L228.52 265.00L228.64 264.00L228.77 263.00L228.91 262.00L229.05 261.00L229.19 260.00L229.34 259.00L229.50 258.00L229.65 257.00L229.81 256.00L229.99 255.00L230.17 254.00L230.37 253.00L230.57 252.00L230.78 251.00L230.99 250.00L231.20 249.00L231.42 248.00L231.63 247.00L231.84 246.00L232.05 245.00L232.25 244.00L232.45 243.00L232.65 242.00L232.85 241.00L233.05 240.00L233.25 239.00L233.45 238.00L233.65 237.00L233.85 236.00L234.05 235.00L234.25 234.00L234.45 233.00L234.65 232.00L234.85 231.00L235.05 230.00L235.24 229.00L235.44 228.00L235.63 227.00L235.83 226.00L236.02 225.00L236.22 224.00L236.42 223.00L236.63 222.00L236.83 221.00L237.04 220.00L237.26 219.00L237.49 218.00L237.72 217.00L237.97 216.00L238.22 215.00L238.47 214.00L238.72 213.00L238.96 212.00L239.20 211.00L239.43 210.00L239.65 209.00L239.86 208.00L240.05 207.00L240.23 206.00L240.42 205.00L240.61 204.00L240.80 203.00L240.97 202.00L241.13 201.00L241.28 200.00L241.40 199.00L241.49 198.00L241.55 197.00L241.55 196.00L241.55 195.00L241.55 194.00L241.55 193.00L241.55 192.00L241.55 191.00L241.55 190.00L241.55 189.00L241.55 188.00L241.55 187.00L241.55 186.00L241.55 185.00L241.55 184.00L241.55 183.00L241.55 182.00L241.55 181.00L241.55 180.00L241.55 179.00L241.55 178.00L241.55 177.00L241.55 176.00L241.55 175.00L241.55 174.00L241.55 173.00L241.55 172.00L241.55 171.00L241.55 170.00L241.55 169.00L241.55 168.00L241.55 167.00L241.55 166.00L241.55 165.00L241.55 164.00L241.55 163.00L241.55 162.00L241.55 161.00L241.55 160.00L241.55 159.00L241.55 158.00L241.55 157.00L241.55 156.00L241.55 155.00L241.55 154.00L241.55 153.00L241.55 152.00Z" fill="#F8766D" stroke="#333333" stroke-width="1.1" stroke-linejoin="round"/>
<path d="M273.45 165.75L273.45 166.75L273.45 167.75L273.45 168.75L273.45 169.75L273.45 170.75L273.45 171.75L273.45 172.75L273.45 173.75L273.45 174.75L273.45 175.75L273.45 176.75L273.45 177.75L273.45 178.75L273.45 179.75L273.45 180.75L273.45 181.75L273.45 182.75L273.45 183.75L273.45 184.75L273.53 185.75L273.63 186.75L273.71 187.75L273.80 188.75L273.89 189.75L273.98 190.75L274.07 191.75L274.17 192.75L274.27 193.75L274.37 194.75L274.47 195.75L274.57 196.75L274.68 197.75L274.80 198.75L274.92 199.75L275.04 200.75L275.16 201.75L275.29 202.75L275.42 203.75L275.55 204.75L275.68 205.75L275.82 206.75L275.95 207.75L276.08 208.75L276.22 209.75L276.35 210.75L276.49 211.75L276.63 212.75L276.77 213.75L276.91 214.75L277.05 215.75L277.20 216.75L277.34 217.75L277.49 218.75L277.64 219.75L277.79 220.75L277.94 221.75L278.10 222.75L278.26 223.75L278.42 224.75L278.58 225.75L278.75 226.75L278.91 227.75L279.07 228.75L279.24 229.75L279.40 230.75L279.56 231.75L279.72 232.75L279.88 233.75L280.05 234.75L280.21 235.75L280.37 236.75L280.54 237.75L280.70 238.75L280.86 239.75L281.02 240.75L281.18 241.75L281.33 242.75L281.49 243.75L281.64 244.75L281.79 245.75L281.94 246.75L282.09 247.75L282.23 248.75L282.38 249.75L282.53 250.75L282.67 251.75L282.81 252.75L282.94 253.75L283.07 254.75L283.20 255.75L283.32 256.75L283.44 257.75L283.55 258.75L283.66 259.75L283.77 260.75L283.88 261.75L283.98 262.75L284.08 263.75L284.18 264.75L284.27 265.75L284.36 266.75L284.45 267.75L284.54 268.75L284.62 269.75L284.71 270.75L284.80 271.75L284.89 272.75L284.98 273.75L285.07 274.75L285.15 275.75L285.23 276.75L285.30 277.75L285.36 278.75L285.40 279.75L285.44 280.75L285.45 281.75L285.45 282.75L285.45 283.75L285.45 284.75L285.45 285.75L285.45 286.75L285.45 287.75L285.45 288.75L285.45 289.75L285.39 290.75L285.27 291.75L285.10 292.75L284.90 293.75L284.66 294.75L284.41 295.75L284.16 296.75L283.90 297.75L283.59 298.75L283.23 299.75L282.83 300.75L282.40 301.75L281.96 302.75L281.51 303.75L281.06 304.75L280.62 305.75L280.20 306.75L279.80 307.75L279.40 308.75L279.00 309.75L278.60 310.75L278.20 311.75L277.80 312.75L277.40 313.75L277.00 314.75L276.57 315.75L276.13 316.75L275.70 317.75L275.28 318.75L274.91 319.75L274.60 320.75L274.34 321.75L274.09 322.75L273.88 323.75L273.70 324.75L273.55 325.75L272.95 325.75L272.80 324.75L272.62 323.75L272.41 322.75L272.16 321.75L271.90 320.75L271.59 319.75L271.22 318.75L270.80 317.75L270.37 316.75L269.93 315.75L269.50 314.75L269.10 313.75L268.70 312.75L268.30 311.75L267.90 310.75L267.50 309.75L267.10 308.75L266.70 307.75L266.30 306.75L265.88 305.75L265.44 304.75L264.99 303.75L264.54 302.75L264.10 301.75L263.67 300.75L263.27 299.75L262.91 298.75L262.60 297.75L262.34 296.75L262.09 295.75L261.84 294.75L261.60 293.75L261.40 292.75L261.23 291.75L261.11 290.75L261.05 289.75L261.05 288.75L261.05 287.75L261.05 286.75L261.05 285.75L261.05 284.75L261.05 283.75L261.05 282.75L261.05 281.75L261.06 280.75L261.10 279.75L261.14 278.75L261.20 277.75L261.27 276.75L261.35 275.75L261.43 274.75L261.52 273.75L261.61 272.75L261.70 271.75L261.79 270.75L261.88 269.75L261.96 268.75L262.05 267.75L262.14 266.75L262.23 265.75L262.32 264.75L262.42 263.75L262.52 262.75L262.62 261.75L262.73 260.75L262.84 259.75L262.95 258.75L263.06 257.75L263.18 256.75L263.30 255.75L263.43 254.75L263.56 253.75L263.69 252.75L263.83 251.75L263.97 250.75L264.12 249.75L264.27 248.75L264.41 247.75L264.56 246.75L264.71 245.75L264.86 244.75L265.01 243.75L265.17 242.75L265.32 241.75L265.48 240.75L265.64 239.75L265.80 238.75L265.96 237.75L266.13 236.75L266.29 235.75L266.45 234.75L266.62 233.75L266.78 232.75L266.94 231.75L267.10 230.75L267.26 229.75L267.43 228.75L267.59 227.75L267.75 226.75L267.92 225.75L268.08 224.75L268.24 223.75L268.40 222.75L268.56 221.75L268.71 220.75L268.86 219.75L269.01 218.75L269.16 217.75L269.30 216.75L269.45 215.75L269.59 214.75L269.73 213.75L269.87 212.75L270.01 211.75L270.15 210.75L270.28 209.75L270.42 208.75L270.55 207.75L270.68 206.75L270.82 205.75L270.95 204.75L271.08 203.75L271.21 202.75L271.34 201.75L271.46 200.75L271.58 199.75L271.70 198.75L271.82 197.75L271.93 196.75L272.03 195.75L272.13 194.75L272.23 193.75L272.33 192.75L272.43 191.75L272.52 190.75L272.61 189.75L272.70 188.75L272.79 187.75L272.87 186.75L272.97 185.75L273.05 184.75L273.05 183.75L273.05 182.75L273.05 181.75L273.05 180.75L273.05 179.75L273.05 178.75L273.05 177.75L273.05 176.75L273.05 175.75L273.05 174.75L273.05 173.75L273.05 172.75L273.05 171.75L273.05 170.75L273.05 169.75L273.05 168.75L273.05 167.75L273.05 166.75L273.05 165.75Z" fill="#A3A500" stroke="#333333" stroke-width="1.1" stroke-linejoin="round"/>
<path d="M304.95 146.25L304.95 147.25L304.95 148.25L304.95 149.25L304.95 150.25L304.95 151.25L304.95 152.25L304.95 153.25L304.95 154.25L304.95 155.25L304.95 156.25L304.95 157.25L304.95 158.25L304.95 159.25L304.95 160.25L304.95 161.25L304.95 162.25L304.95 163.25L304.99 164.25L305.10 165.25L305.21 166.25L305.34 167.25L305.46 168.25L305.57 169.25L305.67 170.25L305.77 171.25L305.87 172.25L305.96 173.25L306.06 174.25L306.15 175.25L306.25 176.25L306.34 177.25L306.44 178.25L306.55 179.25L306.65 180.25L306.76 181.25L306.88 182.25L307.00 183.25L307.12 184.25L307.25 185.25L307.38 186.25L307.51 187.25L307.65 188.25L307.79 189.25L307.94 190.25L308.09 191.25L308.24 192.25L308.40 193.25L308.56 194.25L308.73 195.25L308.90 196.25L309.09 197.25L309.28 198.25L309.47 199.25L309.68 200.25L309.88 201.25L310.09 202.25L310.30 203.25L310.52 204.25L310.73 205.25L310.94 206.25L311.15 207.25L311.37 208.25L311.59 209.25L311.81 210.25L312.04 211.25L312.26 212.25L312.49 213.25L312.72 214.25L312.95 215.25L313.17 216.25L313.38 217.25L313.60 218.25L313.80 219.25L314.00 220.25L314.20 221.25L314.41 222.25L314.61 223.25L314.82 224.25L315.01 225.25L315.21 226.25L315.39 227.25L315.57 228.25L315.73 229.25L315.88 230.25L316.01 231.25L316.13 232.25L316.24 233.25L316.35 234.25L316.46 235.25L316.57 236.25L316.68 237.25L316.77 238.25L316.86 239.25L316.94 240.25L317.00 241.25L317.05 242.25L317.08 243.25L317.10 244.25L317.10 245.25L317.08 246.25L317.06 247.25L317.03 248.25L316.99 249.25L316.94 250.25L316.89 251.25L316.84 252.25L316.75 253.25L316.62 254.25L316.47 255.25L316.29 256.25L316.09 257.25L315.88 258.25L315.66 259.25L315.45 260.25L315.25 261.25L315.05 262.25L314.86 263.25L314.67 264.25L314.48 265.25L314.28 266.25L314.08 267.25L313.88 268.25L313.67 269.25L313.47 270.25L313.26 271.25L313.05 272.25L312.83 273.25L312.61 274.25L312.38 275.25L312.15 276.25L311.92 277.25L311.69 278.25L311.46 279.25L311.23 280.25L311.01 281.25L310.80 282.25L310.59 283.25L310.38 284.25L310.17 285.25L309.96 286.25L309.76 287.25L309.56 288.25L309.36 289.25L309.16 290.25L308.97 291.25L308.78 292.25L308.58 293.25L308.40 294.25L308.21 295.25L308.02 296.25L307.83 297.25L307.63 298.25L307.45 299.25L307.26 300.25L307.09 301.25L306.92 302.25L306.77 303.25L306.63 304.25L306.51 305.25L306.39 306.25L306.28 307.25L306.17 308.25L306.07 309.25L305.98 310.25L305.90 311.25L305.85 312.00L303.65 312.00L303.60 311.25L303.52 310.25L303.43 309.25L303.33 308.25L303.22 307.25L303.11 306.25L302.99 305.25L302.87 304.25L302.73 303.25L302.58 302.25L302.41 301.25L302.24 300.25L302.05 299.25L301.87 298.25L301.67 297.25L301.48 296.25L301.29 295.25L301.10 294.25L300.92 293.25L300.72 292.25L300.53 291.25L300.34 290.25L300.14 289.25L299.94 288.25L299.74 287.25L299.54 286.25L299.33 285.25L299.12 284.25L298.91 283.25L298.70 282.25L298.49 281.25L298.27 280.25L298.04 279.25L297.81 278.25L297.58 277.25L297.35 276.25L297.12 275.25L296.89 274.25L296.67 273.25L296.45 272.25L296.24 271.25L296.03 270.25L295.83 269.25L295.62 268.25L295.42 267.25L295.22 266.25L295.02 265.25L294.83 264.25L294.64 263.25L294.45 262.25L294.25 261.25L294.05 260.25L293.84 259.25L293.62 258.25L293.41 257.25L293.21 256.25L293.03 255.25L292.88 254.25L292.75 253.25L292.66 252.25L292.61 251.25L292.56 250.25L292.51 249.25L292.47 248.25L292.44 247.25L292.42 246.25L292.40 245.25L292.40 244.25L292.42 243.25L292.45 242.25L292.50 241.25L292.56 240.25L292.64 239.25L292.73 238.25L292.82 237.25L292.93 236.25L293.04 235.25L293.15 234.25L293.26 233.25L293.37 232.25L293.49 231.25L293.62 230.25L293.77 229.25L293.93 228.25L294.11 227.25L294.29 226.25L294.49 225.25L294.68 224.25L294.89 223.25L295.09 222.25L295.30 221.25L295.50 220.25L295.70 219.25L295.90 218.25L296.12 217.25L296.33 216.25L296.55 215.25L296.78 214.25L297.01 213.25L297.24 212.25L297.46 211.25L297.69 210.25L297.91 209.25L298.13 208.25L298.35 207.25L298.56 206.25L298.77 205.25L298.98 204.25L299.20 203.25L299.41 202.25L299.62 201.25L299.82 200.25L300.03 199.25L300.22 198.25L300.41 197.25L300.60 196.25L300.77 195.25L300.94 194.25L301.10 193.25L301.26 192.25L301.41 191.25L301.56 190.25L301.71 189.25L301.85 188.25L301.99 187.25L302.12 186.25L302.25 185.25L302.38 184.25L302.50 183.25L302.62 182.25L302.74 181.25L302.85 180.25L302.95 179.25L303.06 178.25L303.16 177.25L303.25 176.25L303.35 175.25L303.44 174.25L303.54 173.25L303.63 172.25L303.73 171.25L303.83 170.25L303.93 169.25L304.04 168.25L304.16 167.25L304.29 166.25L304.40 165.25L304.51 164.25L304.55 163.25L304.55 162.25L304.55 161.25L304.55 160.25L304.55 159.25L304.55 158.25L304.55 157.25L304.55 156.25L304.55 155.25L304.55 154.25L304.55 153.25L304.55 152.25L304.55 151.25L304.55 150.25L304.55 149.25L304.55 148.25L304.55 147.25L304.55 146.25Z" fill="#00BF7D" stroke="#333333" stroke-width="1.1" stroke-linejoin="round"/>
<path d="M336.95 149.50L337.00 150.50L337.06 151.50L337.11 152.50L337.18 153.50L337.25 154.50L337.32 155.50L337.39 156.50L337.47 157.50L337.55 158.50L337.63 159.50L337.72 160.50L337.81 161.50L337.90 162.50L338.00 163.50L338.10 164.50L338.22 165.50L338.33 166.50L338.46 167.50L338.59 168.50L338.71 169.50L338.84 170.50L338.97 171.50L339.10 172.50L339.23 173.50L339.35 174.50L339.47 175.50L339.59 176.50L339.72 177.50L339.84 178.50L339.96 179.50L340.09 180.50L340.21 181.50L340.33 182.50L340.45 183.50L340.57 184.50L340.68 185.50L340.80 186.50L340.90 187.50L341.01 188.50L341.12 189.50L341.22 190.50L341.33 191.50L341.43 192.50L341.53 193.50L341.63 194.50L341.73 195.50L341.82 196.50L341.92 197.50L342.01 198.50L342.10 199.50L342.19 200.50L342.28 201.50L342.37 202.50L342.46 203.50L342.55 204.50L342.64 205.50L342.73 206.50L342.81 207.50L342.88 208.50L342.96 209.50L343.02 210.50L343.08 211.50L343.12 212.50L343.17 213.50L343.21 214.50L343.25 215.50L343.29 216.50L343.33 217.50L343.36 218.50L343.40 219.50L343.43 220.50L343.46 221.50L343.49 222.50L343.52 223.50L343.54 224.50L343.57 225.50L343.59 226.50L343.61 227.50L343.63 228.50L343.66 229.50L343.68 230.50L343.70 231.50L343.73 232.50L343.75 233.50L343.77 234.50L343.79 235.50L343.80 236.50L343.82 237.50L343.83 238.50L343.84 239.50L343.85 240.50L343.85 241.50L343.85 242.50L343.85 243.50L343.85 244.50L343.85 245.50L343.85 246.50L343.85 247.50L343.85 248.50L343.85 249.50L343.85 250.50L343.85 251.50L343.85 252.50L343.85 253.50L343.85 254.50L343.85 255.50L343.85 256.50L343.85 257.50L343.84 258.50L343.83 259.50L343.81 260.50L343.78 261.50L343.75 262.50L343.71 263.50L343.68 264.50L343.63 265.50L343.59 266.50L343.55 267.50L343.50 268.50L343.46 269.50L343.41 270.50L343.37 271.50L343.33 272.50L343.29 273.50L343.24 274.50L343.20 275.50L343.15 276.50L343.11 277.50L343.06 278.50L343.01 279.50L342.96 280.50L342.90 281.50L342.85 282.50L342.80 283.50L342.74 284.50L342.69 285.50L342.63 286.50L342.57 287.50L342.52 288.50L342.46 289.50L342.40 290.50L342.35 291.50L342.29 292.50L342.23 293.50L342.17 294.50L342.11 295.50L342.04 296.50L341.97 297.50L341.90 298.50L341.82 299.50L341.74 300.50L341.65 301.50L341.55 302.50L341.43 303.50L341.30 304.50L341.15 305.50L340.98 306.50L340.82 307.50L340.64 308.50L340.60 308.75L331.90 308.75L331.86 308.50L331.68 307.50L331.52 306.50L331.35 305.50L331.20 304.50L331.07 303.50L330.95 302.50L330.85 301.50L330.76 300.50L330.68 299.50L330.60 298.50L330.53 297.50L330.46 296.50L330.39 295.50L330.33 294.50L330.27 293.50L330.21 292.50L330.15 291.50L330.10 290.50L330.04 289.50L329.98 288.50L329.93 287.50L329.87 286.50L329.81 285.50L329.76 284.50L329.70 283.50L329.65 282.50L329.60 281.50L329.54 280.50L329.49 279.50L329.44 278.50L329.39 277.50L329.35 276.50L329.30 275.50L329.26 274.50L329.21 273.50L329.17 272.50L329.13 271.50L329.09 270.50L329.04 269.50L329.00 268.50L328.95 267.50L328.91 266.50L328.87 265.50L328.82 264.50L328.79 263.50L328.75 262.50L328.72 261.50L328.69 260.50L328.67 259.50L328.66 258.50L328.65 257.50L328.65 256.50L328.65 255.50L328.65 254.50L328.65 253.50L328.65 252.50L328.65 251.50L328.65 250.50L328.65 249.50L328.65 248.50L328.65 247.50L328.65 246.50L328.65 245.50L328.65 244.50L328.65 243.50L328.65 242.50L328.65 241.50L328.65 240.50L328.66 239.50L328.67 238.50L328.68 237.50L328.70 236.50L328.71 235.50L328.73 234.50L328.75 233.50L328.77 232.50L328.80 231.50L328.82 230.50L328.84 229.50L328.87 228.50L328.89 227.50L328.91 226.50L328.93 225.50L328.96 224.50L328.98 223.50L329.01 222.50L329.04 221.50L329.07 220.50L329.10 219.50L329.14 218.50L329.17 217.50L329.21 216.50L329.25 215.50L329.29 214.50L329.33 213.50L329.38 212.50L329.42 211.50L329.48 210.50L329.54 209.50L329.62 208.50L329.69 207.50L329.77 206.50L329.86 205.50L329.95 204.50L330.04 203.50L330.13 202.50L330.22 201.50L330.31 200.50L330.40 199.50L330.49 198.50L330.58 197.50L330.68 196.50L330.77 195.50L330.87 194.50L330.97 193.50L331.07 192.50L331.17 191.50L331.28 190.50L331.38 189.50L331.49 188.50L331.60 187.50L331.70 186.50L331.82 185.50L331.93 184.50L332.05 183.50L332.17 182.50L332.29 181.50L332.41 180.50L332.54 179.50L332.66 178.50L332.78 177.50L332.91 176.50L333.03 175.50L333.15 174.50L333.27 173.50L333.40 172.50L333.53 171.50L333.66 170.50L333.79 169.50L333.91 168.50L334.04 167.50L334.17 166.50L334.28 165.50L334.40 164.50L334.50 163.50L334.60 162.50L334.69 161.50L334.78 160.50L334.87 159.50L334.95 158.50L335.03 157.50L335.11 156.50L335.18 155.50L335.25 154.50L335.32 153.50L335.39 152.50L335.44 151.50L335.50 150.50L335.55 149.50Z" fill="#00B0F6" stroke="#333333" stroke-width="1.1" stroke-linejoin="round"/>
<path d="M371.10 202.25L371.30 203.25L371.49 204.25L371.70 205.25L371.90 206.25L372.10 207.25L372.31 208.25L372.52 209.25L372.73 210.25L372.94 211.25L373.15 212.25L373.37 213.25L373.60 214.25L373.83 215.25L374.06 216.25L374.29 217.25L374.52 218.25L374.74 219.25L374.97 220.25L375.19 221.25L375.40 222.25L375.62 223.25L375.83 224.25L376.04 225.25L376.25 226.25L376.45 227.25L376.65 228.25L376.85 229.25L377.04 230.25L377.22 231.25L377.39 232.25L377.57 233.25L377.75 234.25L377.92 235.25L378.10 236.25L378.26 237.25L378.42 238.25L378.56 239.25L378.68 240.25L378.79 241.25L378.87 242.25L378.94 243.25L379.02 244.25L379.09 245.25L379.15 246.25L379.21 247.25L379.26 248.25L379.30 249.25L379.33 250.25L379.35 251.25L379.35 252.25L379.35 253.25L379.35 254.25L379.35 255.25L379.35 256.25L379.35 257.25L379.35 258.25L379.35 259.25L379.35 260.25L379.35 261.25L379.35 262.25L379.33 263.25L379.29 264.25L379.24 265.25L379.16 266.25L379.08 267.25L378.98 268.25L378.88 269.25L378.78 270.25L378.68 271.25L378.57 272.25L378.46 273.25L378.34 274.25L378.20 275.25L378.06 276.25L377.90 277.25L377.74 278.25L377.57 279.25L377.40 280.25L377.23 281.25L377.06 282.25L376.88 283.25L376.69 284.25L376.49 285.25L376.29 286.25L376.08 287.25L375.88 288.25L375.67 289.25L375.46 290.25L375.25 291.25L375.05 292.25L374.85 293.25L374.65 294.25L374.45 295.25L374.24 296.25L374.04 297.25L373.84 298.25L373.64 299.25L373.44 300.25L373.25 301.25L373.05 302.25L372.86 303.25L372.67 304.25L372.48 305.25L372.29 306.25L372.10 307.25L371.91 308.25L371.72 309.25L371.54 310.25L371.35 311.25L371.17 312.25L370.99 313.25L370.85 314.00L365.15 314.00L365.01 313.25L364.83 312.25L364.65 311.25L364.46 310.25L364.28 309.25L364.09 308.25L363.90 307.25L363.71 306.25L363.52 305.25L363.33 304.25L363.14 303.25L362.95 302.25L362.75 301.25L362.56 300.25L362.36 299.25L362.16 298.25L361.96 297.25L361.76 296.25L361.55 295.25L361.35 294.25L361.15 293.25L360.95 292.25L360.75 291.25L360.54 290.25L360.33 289.25L360.12 288.25L359.92 287.25L359.71 286.25L359.51 285.25L359.31 284.25L359.12 283.25L358.94 282.25L358.77 281.25L358.60 280.25L358.43 279.25L358.26 278.25L358.10 277.25L357.94 276.25L357.80 275.25L357.66 274.25L357.54 273.25L357.43 272.25L357.32 271.25L357.22 270.25L357.12 269.25L357.02 268.25L356.92 267.25L356.84 266.25L356.76 265.25L356.71 264.25L356.67 263.25L356.65 262.25L356.65 261.25L356.65 260.25L356.65 259.25L356.65 258.25L356.65 257.25L356.65 256.25L356.65 255.25L356.65 254.25L356.65 253.25L356.65 252.25L356.65 251.25L356.67 250.25L356.70 249.25L356.74 248.25L356.79 247.25L356.85 246.25L356.91 245.25L356.98 244.25L357.06 243.25L357.13 242.25L357.21 241.25L357.32 240.25L357.44 239.25L357.58 238.25L357.74 237.25L357.90 236.25L358.08 235.25L358.25 234.25L358.43 233.25L358.61 232.25L358.78 231.25L358.96 230.25L359.15 229.25L359.35 228.25L359.55 227.25L359.75 226.25L359.96 225.25L360.17 224.25L360.38 223.25L360.60 222.25L360.81 221.25L361.03 220.25L361.26 219.25L361.48 218.25L361.71 217.25L361.94 216.25L362.17 215.25L362.40 214.25L362.63 213.25L362.85 212.25L363.06 211.25L363.27 210.25L363.48 209.25L363.69 208.25L363.90 207.25L364.10 206.25L364.30 205.25L364.51 204.25L364.70 203.25L364.90 202.25Z" fill="#E76BF3" stroke="#333333" stroke-width="1.1" stroke-linejoin="round"/>
<path d="M411.00 201.30L411.00 202.30L411.00 203.30L411.00 204.30L411.00 205.30L411.00 206.30L411.00 207.30L411.00 208.30L411.00 209.30L411.00 210.30L411.00 211.30L411.00 212.30L411.00 213.30L411.00 214.30L411.00 215.30L411.00 216.30L411.00 217.30L411.00 218.30L411.00 219.30L411.00 220.30L411.00 221.30L411.00 222.30L411.00 223.30L411.00 224.30L411.00 225.30L411.00 226.30L411.00 227.30L411.00 228.30L411.00 229.30L411.00 230.30L411.00 231.30L411.00 232.30L411.00 233.30L411.00 234.30L411.00 235.30L411.00 236.30L411.00 237.30L411.00 238.30L411.00 239.30L411.00 240.30L411.00 241.30L411.00 242.30L411.00 243.30L411.00 244.30L411.00 245.30L411.00 246.30L411.00 247.30L411.00 248.30L411.00 249.30L411.00 250.30L411.00 251.30L411.00 252.30L411.00 253.30L411.00 254.30L411.00 255.30L411.00 256.30L411.00 257.30L411.00 258.30L411.00 259.30L411.00 260.30L411.00 261.30L411.00 262.30L411.00 263.30L411.00 264.30L411.00 265.30L411.00 266.30L411.00 267.30L411.00 268.30L411.00 269.30L411.00 270.30L411.00 271.30L411.00 272.30L411.00 273.30L411.00 274.30L411.00 275.30L411.00 276.30L411.00 277.30L411.07 278.30L411.17 279.30L411.27 280.30L411.39 281.30L411.52 282.30L411.66 283.30L411.80 284.30L411.94 285.30L412.08 286.30L412.22 287.30L412.35 288.30L412.49 289.30L412.64 290.30L412.79 291.30L412.96 292.30L413.13 293.30L413.32 294.30L413.52 295.30L413.75 296.30L413.99 297.30L414.24 298.30L414.51 299.30L414.77 300.30L415.05 301.30L415.34 302.30L415.65 303.30L415.96 304.30L416.27 305.30L416.58 306.30L416.88 307.30L417.17 308.30L417.46 309.30L417.75 310.30L418.05 311.30L418.36 312.30L418.71 313.30L419.12 314.30L419.57 315.30L420.01 316.30L420.39 317.30L420.68 318.30L420.93 319.30L421.13 320.30L421.20 321.30L421.00 322.30L420.55 323.30L420.00 324.30L419.19 325.30L418.02 326.30L416.71 327.30L415.46 328.30L414.23 329.30L412.95 330.30L412.30 330.80L409.30 330.80L408.65 330.30L407.37 329.30L406.14 328.30L404.89 327.30L403.58 326.30L402.41 325.30L401.60 324.30L401.05 323.30L400.60 322.30L400.40 321.30L400.47 320.30L400.67 319.30L400.92 318.30L401.21 317.30L401.59 316.30L402.03 315.30L402.48 314.30L402.89 313.30L403.24 312.30L403.55 311.30L403.85 310.30L404.14 309.30L404.43 308.30L404.72 307.30L405.02 306.30L405.33 305.30L405.64 304.30L405.95 303.30L406.26 302.30L406.55 301.30L406.83 300.30L407.09 299.30L407.36 298.30L407.61 297.30L407.85 296.30L408.08 295.30L408.28 294.30L408.47 293.30L408.64 292.30L408.81 291.30L408.96 290.30L409.11 289.30L409.25 288.30L409.38 287.30L409.52 286.30L409.66 285.30L409.80 284.30L409.94 283.30L410.08 282.30L410.21 281.30L410.33 280.30L410.43 279.30L410.53 278.30L410.60 277.30L410.60 276.30L410.60 275.30L410.60 274.30L410.60 273.30L410.60 272.30L410.60 271.30L410.60 270.30L410.60 269.30L410.60 268.30L410.60 267.30L410.60 266.30L410.60 265.30L410.60 264.30L410.60 263.30L410.60 262.30L410.60 261.30L410.60 260.30L410.60 259.30L410.60 258.30L410.60 257.30L410.60 256.30L410.60 255.30L410.60 254.30L410.60 253.30L410.60 252.30L410.60 251.30L410.60 250.30L410.60 249.30L410.60 248.30L410.60 247.30L410.60 246.30L410.60 245.30L410.60 244.30L410.60 243.30L410.60 242.30L410.60 241.30L410.60 240.30L410.60 239.30L410.60 238.30L410.60 237.30L410.60 236.30L410.60 235.30L410.60 234.30L410.60 233.30L410.60 232.30L410.60 231.30L410.60 230.30L410.60 229.30L410.60 228.30L410.60 227.30L410.60 226.30L410.60 225.30L410.60 224.30L410.60 223.30L410.60 222.30L410.60 221.30L410.60 220.30L410.60 219.30L410.60 218.30L410.60 217.30L410.60 216.30L410.60 215.30L410.60 214.30L410.60 213.30L410.60 212.30L410.60 211.30L410.60 210.30L410.60 209.30L410.60 208.30L410.60 207.30L410.60 206.30L410.60 205.30L410.60 204.30L410.60 203.30L410.60 202.30L410.60 201.30Z" fill="#F8766D" stroke="#333333" stroke-width="1.1" stroke-linejoin="round"/>
<path d="M442.60 195.25L442.60 196.25L442.60 197.25L442.60 198.25L442.60 199.25L442.60 200.25L442.60 201.25L442.60 202.25L442.60 203.25L442.60 204.25L442.60 205.25L442.60 206.25L442.60 207.25L442.60 208.25L442.60 209.25L442.60 210.25L442.60 211.25L442.60 212.25L442.60 213.25L442.60 214.25L442.60 215.25L442.60 216.25L442.60 217.25L442.60 218.25L442.60 219.25L442.60 220.25L442.60 221.25L442.60 222.25L442.60 223.25L442.60 224.25L442.60 225.25L442.60 226.25L442.60 227.25L442.60 228.25L442.60 229.25L442.60 230.25L442.60 231.25L442.60 232.25L442.60 233.25L442.60 234.25L442.60 235.25L442.60 236.25L442.60 237.25L442.60 238.25L442.60 239.25L442.60 240.25L442.60 241.25L442.60 242.25L442.60 243.25L442.60 244.25L442.60 245.25L442.60 246.25L442.60 247.25L442.60 248.25L442.60 249.25L442.60 250.25L442.60 251.25L442.60 252.25L442.60 253.25L442.60 254.25L442.60 255.25L442.60 256.25L442.60 257.25L442.60 258.25L442.60 259.25L442.60 260.25L442.60 261.25L442.60 262.25L442.60 263.25L442.60 264.25L442.60 265.25L442.60 266.25L442.60 267.25L442.60 268.25L442.60 269.25L442.60 270.25L442.60 271.25L442.60 272.25L442.60 273.25L442.60 274.25L442.60 275.25L442.66 276.25L442.75 277.25L442.85 278.25L442.96 279.25L443.08 280.25L443.21 281.25L443.33 282.25L443.46 283.25L443.61 284.25L443.76 285.25L443.92 286.25L444.09 287.25L444.26 288.25L444.46 289.25L444.67 290.25L444.89 291.25L445.13 292.25L445.37 293.25L445.61 294.25L445.86 295.25L446.13 296.25L446.40 297.25L446.68 298.25L446.96 299.25L447.26 300.25L447.56 301.25L447.89 302.25L448.22 303.25L448.56 304.25L448.88 305.25L449.18 306.25L449.45 307.25L449.71 308.25L449.97 309.25L450.21 310.25L450.43 311.25L450.60 312.25L450.73 313.25L450.83 314.25L450.90 315.25L450.85 316.25L450.66 317.25L450.36 318.25L450.02 319.25L449.53 320.25L448.83 321.25L448.05 322.25L447.33 323.25L446.64 324.25L445.94 325.25L445.27 326.25L444.62 327.25L444.40 327.60L440.40 327.60L440.18 327.25L439.53 326.25L438.86 325.25L438.16 324.25L437.47 323.25L436.75 322.25L435.97 321.25L435.27 320.25L434.78 319.25L434.44 318.25L434.14 317.25L433.95 316.25L433.90 315.25L433.97 314.25L434.07 313.25L434.20 312.25L434.37 311.25L434.59 310.25L434.83 309.25L435.09 308.25L435.35 307.25L435.62 306.25L435.92 305.25L436.24 304.25L436.58 303.25L436.91 302.25L437.24 301.25L437.54 300.25L437.84 299.25L438.12 298.25L438.40 297.25L438.67 296.25L438.94 295.25L439.19 294.25L439.43 293.25L439.67 292.25L439.91 291.25L440.13 290.25L440.34 289.25L440.54 288.25L440.71 287.25L440.88 286.25L441.04 285.25L441.19 284.25L441.34 283.25L441.47 282.25L441.59 281.25L441.72 280.25L441.84 279.25L441.95 278.25L442.05 277.25L442.14 276.25L442.20 275.25L442.20 274.25L442.20 273.25L442.20 272.25L442.20 271.25L442.20 270.25L442.20 269.25L442.20 268.25L442.20 267.25L442.20 266.25L442.20 265.25L442.20 264.25L442.20 263.25L442.20 262.25L442.20 261.25L442.20 260.25L442.20 259.25L442.20 258.25L442.20 257.25L442.20 256.25L442.20 255.25L442.20 254.25L442.20 253.25L442.20 252.25L442.20 251.25L442.20 250.25L442.20 249.25L442.20 248.25L442.20 247.25L442.20 246.25L442.20 245.25L442.20 244.25L442.20 243.25L442.20 242.25L442.20 241.25L442.20 240.25L442.20 239.25L442.20 238.25L442.20 237.25L442.20 236.25L442.20 235.25L442.20 234.25L442.20 233.25L442.20 232.25L442.20 231.25L442.20 230.25L442.20 229.25L442.20 228.25L442.20 227.25L442.20 226.25L442.20 225.25L442.20 224.25L442.20 223.25L442.20 222.25L442.20 221.25L442.20 220.25L442.20 219.25L442.20 218.25L442.20 217.25L442.20 216.25L442.20 215.25L442.20 214.25L442.20 213.25L442.20 212.25L442.20 211.25L442.20 210.25L442.20 209.25L442.20 208.25L442.20 207.25L442.20 206.25L442.20 205.25L442.20 204.25L442.20 203.25L442.20 202.25L442.20 201.25L442.20 200.25L442.20 199.25L442.20 198.25L442.20 197.25L442.20 196.25L442.20 195.25Z" fill="#A3A500" stroke="#333333" stroke-width="1.1" stroke-linejoin="round"/>
<path d="M474.00 188.75L474.00 189.75L474.00 190.75L474.00 191.75L474.00 192.75L474.00 193.75L474.00 194.75L474.00 195.75L474.00 196.75L474.00 197.75L474.00 198.75L474.00 199.75L474.00 200.75L474.00 201.75L474.00 202.75L474.00 203.75L474.00 204.75L474.00 205.75L474.00 206.75L474.00 207.75L474.00 208.75L474.00 209.75L474.00 210.75L474.00 211.75L474.00 212.75L474.00 213.75L474.00 214.75L474.00 215.75L474.00 216.75L474.00 217.75L474.00 218.75L474.00 219.75L474.00 220.75L474.00 221.75L474.00 222.75L474.00 223.75L474.00 224.75L474.00 225.75L474.00 226.75L474.00 227.75L474.00 228.75L474.00 229.75L474.00 230.75L474.00 231.75L474.00 232.75L474.00 233.75L474.00 234.75L474.00 235.75L474.00 236.75L474.00 237.75L474.00 238.75L474.00 239.75L474.00 240.75L474.00 241.75L474.00 242.75L474.00 243.75L474.00 244.75L474.00 245.75L474.00 246.75L474.00 247.75L474.00 248.75L474.00 249.75L474.00 250.75L474.00 251.75L474.00 252.75L474.00 253.75L474.00 254.75L474.00 255.75L474.00 256.75L474.00 257.75L474.00 258.75L474.00 259.75L474.00 260.75L474.00 261.75L474.00 262.75L474.00 263.75L474.00 264.75L474.00 265.75L474.03 266.75L474.07 267.75L474.12 268.75L474.18 269.75L474.23 270.75L474.29 271.75L474.35 272.75L474.41 273.75L474.47 274.75L474.53 275.75L474.58 276.75L474.64 277.75L474.70 278.75L474.76 279.75L474.83 280.75L474.89 281.75L474.96 282.75L475.04 283.75L475.11 284.75L475.20 285.75L475.29 286.75L475.38 287.75L475.49 288.75L475.62 289.75L475.76 290.75L475.92 291.75L476.09 292.75L476.27 293.75L476.46 294.75L476.68 295.75L476.93 296.75L477.20 297.75L477.47 298.75L477.73 299.75L477.99 300.75L478.25 301.75L478.53 302.75L478.80 303.75L479.06 304.75L479.30 305.75L479.51 306.75L479.71 307.75L479.90 308.75L480.08 309.75L480.24 310.75L480.38 311.75L480.48 312.75L480.56 313.75L480.63 314.75L480.68 315.75L480.70 316.75L480.66 317.75L480.53 318.75L480.35 319.75L480.14 320.75L479.91 321.75L479.64 322.75L479.30 323.75L478.90 324.75L478.50 325.75L478.06 326.75L477.58 327.75L477.30 328.30L470.30 328.30L470.02 327.75L469.54 326.75L469.10 325.75L468.70 324.75L468.30 323.75L467.96 322.75L467.69 321.75L467.46 320.75L467.25 319.75L467.07 318.75L466.94 317.75L466.90 316.75L466.92 315.75L466.97 314.75L467.04 313.75L467.12 312.75L467.22 311.75L467.36 310.75L467.52 309.75L467.70 308.75L467.89 307.75L468.09 306.75L468.30 305.75L468.54 304.75L468.80 303.75L469.07 302.75L469.35 301.75L469.61 300.75L469.87 299.75L470.13 298.75L470.40 297.75L470.67 296.75L470.92 295.75L471.14 294.75L471.33 293.75L471.51 292.75L471.68 291.75L471.84 290.75L471.98 289.75L472.11 288.75L472.22 287.75L472.31 286.75L472.40 285.75L472.49 284.75L472.56 283.75L472.64 282.75L472.71 281.75L472.77 280.75L472.84 279.75L472.90 278.75L472.96 277.75L473.02 276.75L473.07 275.75L473.13 274.75L473.19 273.75L473.25 272.75L473.31 271.75L473.37 270.75L473.42 269.75L473.48 268.75L473.53 267.75L473.57 266.75L473.60 265.75L473.60 264.75L473.60 263.75L473.60 262.75L473.60 261.75L473.60 260.75L473.60 259.75L473.60 258.75L473.60 257.75L473.60 256.75L473.60 255.75L473.60 254.75L473.60 253.75L473.60 252.75L473.60 251.75L473.60 250.75L473.60 249.75L473.60 248.75L473.60 247.75L473.60 246.75L473.60 245.75L473.60 244.75L473.60 243.75L473.60 242.75L473.60 241.75L473.60 240.75L473.60 239.75L473.60 238.75L473.60 237.75L473.60 236.75L473.60 235.75L473.60 234.75L473.60 233.75L473.60 232.75L473.60 231.75L473.60 230.75L473.60 229.75L473.60 228.75L473.60 227.75L473.60 226.75L473.60 225.75L473.60 224.75L473.60 223.75L473.60 222.75L473.60 221.75L473.60 220.75L473.60 219.75L473.60 218.75L473.60 217.75L473.60 216.75L473.60 215.75L473.60 214.75L473.60 213.75L473.60 212.75L473.60 211.75L473.60 210.75L473.60 209.75L473.60 208.75L473.60 207.75L473.60 206.75L473.60 205.75L473.60 204.75L473.60 203.75L473.60 202.75L473.60 201.75L473.60 200.75L473.60 199.75L473.60 198.75L473.60 197.75L473.60 196.75L473.60 195.75L473.60 194.75L473.60 193.75L473.60 192.75L473.60 191.75L473.60 190.75L473.60 189.75L473.60 188.75Z" fill="#00BF7D" stroke="#333333" stroke-width="1.1" stroke-linejoin="round"/>
<path d="M505.60 248.30L505.84 249.30L506.01 250.30L506.10 251.30L506.07 252.30L505.97 253.30L505.84 254.30L505.71 255.30L505.61 256.30L505.56 257.30L505.51 258.30L505.46 259.30L505.42 260.30L505.40 261.30L505.40 262.30L505.40 263.30L505.40 264.30L505.40 265.30L505.40 266.30L505.40 267.30L505.40 268.30L505.46 269.30L505.54 270.30L505.61 271.30L505.67 272.30L505.73 273.30L505.78 274.30L505.80 275.30L505.79 276.30L505.73 277.30L505.64 278.30L505.53 279.30L505.45 280.30L505.40 281.30L505.41 282.30L505.45 283.30L505.50 284.30L505.57 285.30L505.63 286.30L505.68 287.30L505.71 288.30L505.72 289.30L505.73 290.30L505.74 291.30L505.75 292.30L505.76 293.30L505.78 294.30L505.80 295.30L505.88 296.30L506.06 297.30L506.32 298.30L506.60 299.30L506.87 300.30L507.13 301.30L507.40 302.30L507.69 303.30L507.99 304.30L508.28 305.30L508.58 306.30L508.87 307.30L509.14 308.30L509.41 309.30L509.69 310.30L509.99 311.30L510.33 312.30L510.73 313.30L511.21 314.30L511.79 315.30L512.45 316.30L513.19 317.30L514.11 318.30L515.13 319.30L516.12 320.30L517.15 321.30L518.27 322.30L519.02 323.30L519.03 324.30L518.68 325.30L518.13 326.30L516.82 327.30L514.97 328.30L513.38 329.30L511.85 330.30L511.40 330.60L499.00 330.60L498.55 330.30L497.02 329.30L495.43 328.30L493.58 327.30L492.27 326.30L491.72 325.30L491.37 324.30L491.38 323.30L492.13 322.30L493.25 321.30L494.28 320.30L495.27 319.30L496.29 318.30L497.21 317.30L497.95 316.30L498.61 315.30L499.19 314.30L499.67 313.30L500.07 312.30L500.41 311.30L500.71 310.30L500.99 309.30L501.26 308.30L501.53 307.30L501.82 306.30L502.12 305.30L502.41 304.30L502.71 303.30L503.00 302.30L503.27 301.30L503.53 300.30L503.80 299.30L504.08 298.30L504.34 297.30L504.52 296.30L504.60 295.30L504.62 294.30L504.64 293.30L504.65 292.30L504.66 291.30L504.67 290.30L504.68 289.30L504.69 288.30L504.72 287.30L504.77 286.30L504.83 285.30L504.90 284.30L504.95 283.30L504.99 282.30L505.00 281.30L504.95 280.30L504.87 279.30L504.76 278.30L504.67 277.30L504.61 276.30L504.60 275.30L504.62 274.30L504.67 273.30L504.73 272.30L504.79 271.30L504.86 270.30L504.94 269.30L505.00 268.30L505.00 267.30L505.00 266.30L505.00 265.30L505.00 264.30L505.00 263.30L505.00 262.30L505.00 261.30L504.98 260.30L504.94 259.30L504.89 258.30L504.84 257.30L504.79 256.30L504.69 255.30L504.56 254.30L504.43 253.30L504.33 252.30L504.30 251.30L504.39 250.30L504.56 249.30L504.80 248.30Z" fill="#00B0F6" stroke="#333333" stroke-width="1.1" stroke-linejoin="round"/>
<path d="M537.50 250.20L537.52 251.20L537.54 252.20L537.55 253.20L537.55 254.20L537.55 255.20L537.51 256.20L537.40 257.20L537.25 258.20L537.10 259.20L536.97 260.20L536.90 261.20L536.90 262.20L536.90 263.20L536.90 264.20L536.90 265.20L536.90 266.20L536.90 267.20L536.90 268.20L536.90 269.20L536.90 270.20L536.91 271.20L536.95 272.20L537.01 273.20L537.09 274.20L537.17 275.20L537.26 276.20L537.35 277.20L537.43 278.20L537.52 279.20L537.62 280.20L537.73 281.20L537.84 282.20L537.95 283.20L538.07 284.20L538.18 285.20L538.30 286.20L538.42 287.20L538.53 288.20L538.64 289.20L538.74 290.20L538.84 291.20L538.95 292.20L539.07 293.20L539.20 294.20L539.36 295.20L539.57 296.20L539.85 297.20L540.19 298.20L540.55 299.20L540.93 300.20L541.31 301.20L541.73 302.20L542.18 303.20L542.63 304.20L543.07 305.20L543.51 306.20L543.98 307.20L544.45 308.20L544.87 309.20L545.22 310.20L545.48 311.20L545.73 312.20L545.92 313.20L546.00 314.20L545.90 315.20L545.65 316.20L545.31 317.20L544.92 318.20L544.35 319.20L543.61 320.20L542.80 321.20L541.92 322.20L540.93 323.20L540.40 323.70L533.00 323.70L532.47 323.20L531.48 322.20L530.60 321.20L529.79 320.20L529.05 319.20L528.48 318.20L528.09 317.20L527.75 316.20L527.50 315.20L527.40 314.20L527.48 313.20L527.67 312.20L527.92 311.20L528.18 310.20L528.53 309.20L528.95 308.20L529.42 307.20L529.89 306.20L530.33 305.20L530.77 304.20L531.22 303.20L531.67 302.20L532.09 301.20L532.47 300.20L532.85 299.20L533.21 298.20L533.55 297.20L533.83 296.20L534.04 295.20L534.20 294.20L534.33 293.20L534.45 292.20L534.56 291.20L534.66 290.20L534.76 289.20L534.87 288.20L534.98 287.20L535.10 286.20L535.22 285.20L535.33 284.20L535.45 283.20L535.56 282.20L535.67 281.20L535.78 280.20L535.88 279.20L535.97 278.20L536.05 277.20L536.14 276.20L536.23 275.20L536.31 274.20L536.39 273.20L536.45 272.20L536.49 271.20L536.50 270.20L536.50 269.20L536.50 268.20L536.50 267.20L536.50 266.20L536.50 265.20L536.50 264.20L536.50 263.20L536.50 262.20L536.50 261.20L536.43 260.20L536.30 259.20L536.15 258.20L536.00 257.20L535.89 256.20L535.85 255.20L535.85 254.20L535.85 253.20L535.86 252.20L535.88 251.20L535.90 250.20Z" fill="#E76BF3" stroke="#333333" stroke-width="1.1" stroke-linejoin="round"/>
<path d="M71.80 581.10L71.79 582.10L71.78 583.10L71.77 584.10L71.76 585.10L71.75 586.10L71.74 587.10L71.73 588.10L71.72 589.10L71.71 590.10L71.70 591.10L71.69 592.10L71.68 593.10L71.67 594.10L71.66 595.10L71.65 596.10L71.64 597.10L71.62 598.10L71.61 599.10L71.60 600.10L71.59 601.10L71.57 602.10L71.55 603.10L71.54 604.10L71.52 605.10L71.50 606.10L71.48 607.10L71.46 608.10L71.44 609.10L71.42 610.10L71.40 611.10L71.38 612.10L71.36 613.10L71.34 614.10L71.32 615.10L71.30 616.10L71.28 617.10L71.26 618.10L71.24 619.10L71.23 620.10L71.21 621.10L71.20 622.10L71.19 623.10L71.18 624.10L71.17 625.10L71.16 626.10L71.15 627.10L71.15 628.10L71.15 629.10L71.15 630.10L71.16 631.10L71.17 632.10L71.18 633.10L71.20 634.10L71.22 635.10L71.24 636.10L71.26 637.10L71.29 638.10L71.32 639.10L71.35 640.10L71.38 641.10L71.41 642.10L71.44 643.10L71.47 644.10L71.50 645.10L71.54 646.10L71.59 647.10L71.65 648.10L71.72 649.10L71.79 650.10L71.86 651.10L71.94 652.10L72.02 653.10L72.09 654.10L72.15 655.10L72.22 656.10L72.27 657.10L72.31 658.10L72.34 659.10L72.35 660.10L72.35 661.10L72.35 662.10L72.35 663.10L72.35 664.10L72.35 665.10L72.35 666.10L72.35 667.10L72.35 668.10L72.35 669.10L72.35 670.10L72.35 671.10L72.35 672.10L72.35 673.10L72.35 674.10L72.35 674.60L67.25 674.60L67.25 674.10L67.25 673.10L67.25 672.10L67.25 671.10L67.25 670.10L67.25 669.10L67.25 668.10L67.25 667.10L67.25 666.10L67.25 665.10L67.25 664.10L67.25 663.10L67.25 662.10L67.25 661.10L67.25 660.10L67.26 659.10L67.29 658.10L67.33 657.10L67.38 656.10L67.45 655.10L67.51 654.10L67.58 653.10L67.66 652.10L67.74 651.10L67.81 650.10L67.88 649.10L67.95 648.10L68.01 647.10L68.06 646.10L68.10 645.10L68.13 644.10L68.16 643.10L68.19 642.10L68.22 641.10L68.25 640.10L68.28 639.10L68.31 638.10L68.34 637.10L68.36 636.10L68.38 635.10L68.40 634.10L68.42 633.10L68.43 632.10L68.44 631.10L68.45 630.10L68.45 629.10L68.45 628.10L68.45 627.10L68.44 626.10L68.43 625.10L68.42 624.10L68.41 623.10L68.40 622.10L68.39 621.10L68.37 620.10L68.36 619.10L68.34 618.10L68.32 617.10L68.30 616.10L68.28 615.10L68.26 614.10L68.24 613.10L68.22 612.10L68.20 611.10L68.18 610.10L68.16 609.10L68.14 608.10L68.12 607.10L68.10 606.10L68.08 605.10L68.06 604.10L68.05 603.10L68.03 602.10L68.01 601.10L68.00 600.10L67.99 599.10L67.98 598.10L67.96 597.10L67.95 596.10L67.94 595.10L67.93 594.10L67.92 593.10L67.91 592.10L67.90 591.10L67.89 590.10L67.88 589.10L67.87 588.10L67.86 587.10L67.85 586.10L67.84 585.10L67.83 584.10L67.82 583.10L67.81 582.10L67.80 581.10Z" fill="#F8766D" stroke="#333333" stroke-width="1.1" stroke-linejoin="round"/>
<path d="M96.75 556.10L96.75 557.10L96.75 558.10L96.75 559.10L96.75 560.10L96.75 561.10L96.75 562.10L96.75 563.10L96.75 564.10L96.75 565.10L96.76 566.10L96.77 567.10L96.79 568.10L96.81 569.10L96.85 570.10L96.88 571.10L96.93 572.10L96.97 573.10L97.02 574.10L97.07 575.10L97.12 576.10L97.17 577.10L97.23 578.10L97.28 579.10L97.33 580.10L97.38 581.10L97.43 582.10L97.47 583.10L97.51 584.10L97.55 585.10L97.58 586.10L97.61 587.10L97.65 588.10L97.68 589.10L97.71 590.10L97.74 591.10L97.77 592.10L97.80 593.10L97.82 594.10L97.85 595.10L97.88 596.10L97.91 597.10L97.93 598.10L97.96 599.10L97.99 600.10L98.01 601.10L98.04 602.10L98.07 603.10L98.09 604.10L98.12 605.10L98.14 606.10L98.17 607.10L98.20 608.10L98.22 609.10L98.25 610.10L98.27 611.10L98.30 612.10L98.32 613.10L98.35 614.10L98.37 615.10L98.39 616.10L98.42 617.10L98.44 618.10L98.46 619.10L98.48 620.10L98.51 621.10L98.53 622.10L98.55 623.10L98.58 624.10L98.60 625.10L98.62 626.10L98.64 627.10L98.67 628.10L98.69 629.10L98.72 630.10L98.74 631.10L98.77 632.10L98.79 633.10L98.82 634.10L98.84 635.10L98.87 636.10L98.91 637.10L98.94 638.10L98.98 639.10L99.02 640.10L99.06 641.10L99.10 642.10L99.15 643.10L99.19 644.10L99.23 645.10L99.27 646.10L99.31 647.10L99.34 648.10L99.37 649.10L99.40 650.10L99.42 651.10L99.44 652.10L99.45 653.10L99.45 654.10L99.45 655.10L99.44 656.10L99.43 657.10L99.41 658.10L99.39 659.10L99.37 660.10L99.34 661.10L99.31 662.10L99.28 663.10L99.24 664.10L99.21 665.10L99.17 666.10L99.13 667.10L99.08 668.10L99.01 669.10L98.93 670.10L98.84 671.10L98.75 672.10L98.64 673.10L98.54 674.10L98.43 675.10L98.33 676.10L98.24 677.10L98.15 678.10L98.06 679.10L97.99 680.10L97.92 681.10L97.85 682.10L97.79 683.10L97.72 684.10L97.66 685.10L97.60 686.10L97.54 687.10L97.48 688.10L97.43 689.10L97.38 690.10L97.35 690.60L94.75 690.60L94.72 690.10L94.67 689.10L94.62 688.10L94.56 687.10L94.50 686.10L94.44 685.10L94.38 684.10L94.31 683.10L94.25 682.10L94.18 681.10L94.11 680.10L94.04 679.10L93.95 678.10L93.86 677.10L93.77 676.10L93.67 675.10L93.56 674.10L93.46 673.10L93.35 672.10L93.26 671.10L93.17 670.10L93.09 669.10L93.02 668.10L92.97 667.10L92.93 666.10L92.89 665.10L92.86 664.10L92.82 663.10L92.79 662.10L92.76 661.10L92.73 660.10L92.71 659.10L92.69 658.10L92.67 657.10L92.66 656.10L92.65 655.10L92.65 654.10L92.65 653.10L92.66 652.10L92.68 651.10L92.70 650.10L92.73 649.10L92.76 648.10L92.79 647.10L92.83 646.10L92.87 645.10L92.91 644.10L92.95 643.10L93.00 642.10L93.04 641.10L93.08 640.10L93.12 639.10L93.16 638.10L93.19 637.10L93.23 636.10L93.26 635.10L93.28 634.10L93.31 633.10L93.33 632.10L93.36 631.10L93.38 630.10L93.41 629.10L93.43 628.10L93.46 627.10L93.48 626.10L93.50 625.10L93.52 624.10L93.55 623.10L93.57 622.10L93.59 621.10L93.62 620.10L93.64 619.10L93.66 618.10L93.68 617.10L93.71 616.10L93.73 615.10L93.75 614.10L93.78 613.10L93.80 612.10L93.83 611.10L93.85 610.10L93.88 609.10L93.90 608.10L93.93 607.10L93.96 606.10L93.98 605.10L94.01 604.10L94.03 603.10L94.06 602.10L94.09 601.10L94.11 600.10L94.14 599.10L94.17 598.10L94.19 597.10L94.22 596.10L94.25 595.10L94.28 594.10L94.30 593.10L94.33 592.10L94.36 591.10L94.39 590.10L94.42 589.10L94.45 588.10L94.49 587.10L94.52 586.10L94.55 585.10L94.59 584.10L94.63 583.10L94.67 582.10L94.72 581.10L94.77 580.10L94.82 579.10L94.87 578.10L94.93 577.10L94.98 576.10L95.03 575.10L95.08 574.10L95.13 573.10L95.17 572.10L95.22 571.10L95.25 570.10L95.29 569.10L95.31 568.10L95.33 567.10L95.34 566.10L95.35 565.10L95.35 564.10L95.35 563.10L95.35 562.10L95.35 561.10L95.35 560.10L95.35 559.10L95.35 558.10L95.35 557.10L95.35 556.10Z" fill="#B79F00" stroke="#333333" stroke-width="1.1" stroke-linejoin="round"/>
<path d="M122.60 467.60L122.60 468.60L122.60 469.60L122.60 470.60L122.60 471.60L122.60 472.60L122.60 473.60L122.60 474.60L122.60 475.60L122.60 476.60L122.60 477.60L122.60 478.60L122.60 479.60L122.60 480.60L122.60 481.60L122.60 482.60L122.60 483.60L122.60 484.60L122.60 485.60L122.60 486.60L122.60 487.60L122.60 488.60L122.60 489.60L122.60 490.60L122.60 491.60L122.60 492.60L122.60 493.60L122.60 494.60L122.60 495.60L122.60 496.60L122.60 497.60L122.60 498.60L122.60 499.60L122.60 500.60L122.60 501.60L122.60 502.60L122.60 503.60L122.60 504.60L122.60 505.60L122.60 506.60L122.60 507.60L122.60 508.60L122.60 509.60L122.60 510.60L122.60 511.60L122.60 512.60L122.60 513.60L122.60 514.60L122.60 515.60L122.60 516.60L122.60 517.60L122.60 518.60L122.60 519.60L122.60 520.60L122.60 521.60L122.60 522.60L122.60 523.60L122.60 524.60L122.60 525.60L122.60 526.60L122.60 527.60L122.60 528.60L122.60 529.60L122.61 530.60L122.66 531.60L122.72 532.60L122.79 533.60L122.85 534.60L122.92 535.60L122.99 536.60L123.06 537.60L123.13 538.60L123.20 539.60L123.26 540.60L123.32 541.60L123.38 542.60L123.44 543.60L123.50 544.60L123.56 545.60L123.62 546.60L123.68 547.60L123.75 548.60L123.81 549.60L123.87 550.60L123.94 551.60L124.00 552.60L124.06 553.60L124.13 554.60L124.19 555.60L124.24 556.60L124.30 557.60L124.35 558.60L124.40 559.60L124.45 560.60L124.50 561.60L124.54 562.60L124.58 563.60L124.63 564.60L124.67 565.60L124.71 566.60L124.76 567.60L124.80 568.60L124.85 569.60L124.89 570.60L124.93 571.60L124.97 572.60L125.01 573.60L125.04 574.60L125.08 575.60L125.11 576.60L125.14 577.60L125.16 578.60L125.19 579.60L125.21 580.60L125.22 581.60L125.24 582.60L125.25 583.60L125.25 584.60L125.25 585.60L125.25 586.60L125.25 587.60L125.25 588.60L125.25 589.60L125.25 590.60L125.25 591.60L125.25 592.60L125.25 593.60L125.25 594.60L125.25 595.60L125.25 596.60L125.25 597.60L125.25 598.60L125.25 599.60L125.25 600.60L125.25 601.60L125.25 602.60L125.25 603.60L125.25 604.60L125.24 605.60L125.23 606.60L125.21 607.60L125.19 608.60L125.16 609.60L125.13 610.60L125.09 611.60L125.06 612.60L125.02 613.60L124.97 614.60L124.93 615.60L124.88 616.60L124.84 617.60L124.79 618.60L124.74 619.60L124.70 620.60L124.65 621.60L124.61 622.60L124.57 623.60L124.52 624.60L124.48 625.60L124.43 626.60L124.38 627.60L124.33 628.60L124.28 629.60L124.22 630.60L124.17 631.60L124.11 632.60L124.05 633.60L123.99 634.60L123.93 635.60L123.86 636.60L123.79 637.60L123.72 638.60L123.64 639.60L123.55 640.60L123.47 641.60L123.39 642.60L123.31 643.60L123.23 644.60L123.15 645.60L123.08 646.60L123.02 647.60L122.96 648.60L122.90 649.60L122.83 650.60L122.77 651.60L122.71 652.60L122.65 653.60L122.60 654.60L122.60 655.60L122.60 656.60L122.60 657.60L122.60 658.60L122.60 659.60L122.60 660.60L122.60 661.60L122.60 662.60L122.60 663.60L122.60 664.60L122.60 665.60L122.60 666.60L122.60 667.60L122.60 668.60L122.60 669.60L122.60 670.60L122.60 671.60L122.60 672.60L122.60 673.60L122.60 674.60L122.60 675.60L122.60 676.60L122.60 677.60L122.60 678.60L122.60 679.60L122.60 680.60L122.60 681.60L122.60 682.60L122.60 683.60L122.60 684.60L122.60 685.60L122.60 686.60L122.60 687.60L122.60 688.60L122.60 689.60L122.60 690.60L122.60 691.60L122.60 692.60L122.60 693.60L122.60 694.60L122.60 695.60L122.60 696.60L122.60 697.60L122.60 698.60L122.60 699.60L122.60 700.60L122.60 701.60L122.60 702.60L122.60 703.60L122.60 704.60L122.60 704.90L122.20 704.90L122.20 704.60L122.20 703.60L122.20 702.60L122.20 701.60L122.20 700.60L122.20 699.60L122.20 698.60L122.20 697.60L122.20 696.60L122.20 695.60L122.20 694.60L122.20 693.60L122.20 692.60L122.20 691.60L122.20 690.60L122.20 689.60L122.20 688.60L122.20 687.60L122.20 686.60L122.20 685.60L122.20 684.60L122.20 683.60L122.20 682.60L122.20 681.60L122.20 680.60L122.20 679.60L122.20 678.60L122.20 677.60L122.20 676.60L122.20 675.60L122.20 674.60L122.20 673.60L122.20 672.60L122.20 671.60L122.20 670.60L122.20 669.60L122.20 668.60L122.20 667.60L122.20 666.60L122.20 665.60L122.20 664.60L122.20 663.60L122.20 662.60L122.20 661.60L122.20 660.60L122.20 659.60L122.20 658.60L122.20 657.60L122.20 656.60L122.20 655.60L122.20 654.60L122.15 653.60L122.09 652.60L122.03 651.60L121.97 650.60L121.90 649.60L121.84 648.60L121.78 647.60L121.72 646.60L121.65 645.60L121.57 644.60L121.49 643.60L121.41 642.60L121.33 641.60L121.25 640.60L121.16 639.60L121.08 638.60L121.01 637.60L120.94 636.60L120.87 635.60L120.81 634.60L120.75 633.60L120.69 632.60L120.63 631.60L120.58 630.60L120.52 629.60L120.47 628.60L120.42 627.60L120.37 626.60L120.32 625.60L120.28 624.60L120.23 623.60L120.19 622.60L120.15 621.60L120.10 620.60L120.06 619.60L120.01 618.60L119.96 617.60L119.92 616.60L119.87 615.60L119.83 614.60L119.78 613.60L119.74 612.60L119.71 611.60L119.67 610.60L119.64 609.60L119.61 608.60L119.59 607.60L119.57 606.60L119.56 605.60L119.55 604.60L119.55 603.60L119.55 602.60L119.55 601.60L119.55 600.60L119.55 599.60L119.55 598.60L119.55 597.60L119.55 596.60L119.55 595.60L119.55 594.60L119.55 593.60L119.55 592.60L119.55 591.60L119.55 590.60L119.55 589.60L119.55 588.60L119.55 587.60L119.55 586.60L119.55 585.60L119.55 584.60L119.55 583.60L119.56 582.60L119.58 581.60L119.59 580.60L119.61 579.60L119.64 578.60L119.66 577.60L119.69 576.60L119.72 575.60L119.76 574.60L119.79 573.60L119.83 572.60L119.87 571.60L119.91 570.60L119.95 569.60L120.00 568.60L120.04 567.60L120.09 566.60L120.13 565.60L120.17 564.60L120.22 563.60L120.26 562.60L120.30 561.60L120.35 560.60L120.40 559.60L120.45 558.60L120.50 557.60L120.56 556.60L120.61 555.60L120.67 554.60L120.74 553.60L120.80 552.60L120.86 551.60L120.93 550.60L120.99 549.60L121.05 548.60L121.12 547.60L121.18 546.60L121.24 545.60L121.30 544.60L121.36 543.60L121.42 542.60L121.48 541.60L121.54 540.60L121.60 539.60L121.67 538.60L121.74 537.60L121.81 536.60L121.88 535.60L121.95 534.60L122.01 533.60L122.08 532.60L122.14 531.60L122.19 530.60L122.20 529.60L122.20 528.60L122.20 527.60L122.20 526.60L122.20 525.60L122.20 524.60L122.20 523.60L122.20 522.60L122.20 521.60L122.20 520.60L122.20 519.60L122.20 518.60L122.20 517.60L122.20 516.60L122.20 515.60L122.20 514.60L122.20 513.60L122.20 512.60L122.20 511.60L122.20 510.60L122.20 509.60L122.20 508.60L122.20 507.60L122.20 506.60L122.20 505.60L122.20 504.60L122.20 503.60L122.20 502.60L122.20 501.60L122.20 500.60L122.20 499.60L122.20 498.60L122.20 497.60L122.20 496.60L122.20 495.60L122.20 494.60L122.20 493.60L122.20 492.60L122.20 491.60L122.20 490.60L122.20 489.60L122.20 488.60L122.20 487.60L122.20 486.60L122.20 485.60L122.20 484.60L122.20 483.60L122.20 482.60L122.20 481.60L122.20 480.60L122.20 479.60L122.20 478.60L122.20 477.60L122.20 476.60L122.20 475.60L122.20 474.60L122.20 473.60L122.20 472.60L122.20 471.60L122.20 470.60L122.20 469.60L122.20 468.60L122.20 467.60Z" fill="#00BA38" stroke="#333333" stroke-width="1.1" stroke-linejoin="round"/>
<path d="M149.90 522.20L149.90 523.20L149.90 524.20L149.90 525.20L149.90 526.20L149.90 527.20L149.90 528.20L149.90 529.20L149.90 530.20L149.90 531.20L149.91 532.20L149.91 533.20L149.91 534.20L149.91 535.20L149.91 536.20L149.91 537.20L149.91 538.20L149.91 539.20L149.92 540.20L149.92 541.20L149.92 542.20L149.92 543.20L149.92 544.20L149.93 545.20L149.93 546.20L149.93 547.20L149.93 548.20L149.93 549.20L149.94 550.20L149.94 551.20L149.94 552.20L149.94 553.20L149.95 554.20L149.95 555.20L149.95 556.20L149.95 557.20L149.96 558.20L149.96 559.20L149.96 560.20L149.97 561.20L149.97 562.20L149.98 563.20L149.98 564.20L149.99 565.20L149.99 566.20L150.00 567.20L150.01 568.20L150.01 569.20L150.02 570.20L150.03 571.20L150.03 572.20L150.04 573.20L150.05 574.20L150.06 575.20L150.07 576.20L150.08 577.20L150.08 578.20L150.09 579.20L150.10 580.20L150.11 581.20L150.12 582.20L150.13 583.20L150.14 584.20L150.15 585.20L150.16 586.20L150.17 587.20L150.18 588.20L150.19 589.20L150.20 590.20L150.21 591.20L150.22 592.20L150.23 593.20L150.24 594.20L150.25 595.20L150.26 596.20L150.27 597.20L150.28 598.20L150.29 599.20L150.30 600.20L150.31 601.20L150.33 602.20L150.34 603.20L150.35 604.20L150.37 605.20L150.38 606.20L150.40 607.20L150.42 608.20L150.43 609.20L150.45 610.20L150.47 611.20L150.49 612.20L150.51 613.20L150.52 614.20L150.54 615.20L150.56 616.20L150.58 617.20L150.59 618.20L150.61 619.20L150.62 620.20L150.64 621.20L150.65 622.20L150.66 623.20L150.67 624.20L150.68 625.20L150.69 626.20L150.69 627.20L150.70 628.20L150.70 629.20L150.70 630.20L150.70 631.20L150.70 632.20L150.70 633.20L150.70 634.20L150.70 635.20L150.69 636.20L150.69 637.20L150.69 638.20L150.69 639.20L150.68 640.20L150.68 641.20L150.68 642.20L150.68 643.20L150.67 644.20L150.67 645.20L150.66 646.20L150.66 647.20L150.66 648.20L150.65 649.20L150.65 650.20L150.64 651.20L150.64 652.20L150.63 653.20L150.62 654.20L150.61 655.20L150.60 656.20L150.59 657.20L150.58 658.20L150.56 659.20L150.55 660.20L150.54 661.20L150.52 662.20L150.50 663.20L150.49 664.20L150.47 665.20L150.45 666.20L150.43 667.20L150.42 668.20L150.40 669.20L150.38 670.20L150.36 671.20L150.34 672.20L150.32 673.20L150.30 674.20L150.29 675.20L150.27 676.20L150.25 677.20L150.23 678.20L150.21 679.20L150.20 680.20L150.18 681.20L150.16 682.20L150.14 683.20L150.13 684.20L150.11 685.20L150.09 686.20L150.07 687.20L150.05 688.20L150.03 689.20L150.02 690.20L150.00 691.20L149.98 692.20L149.96 693.20L149.94 694.20L149.92 695.20L149.90 696.20L149.88 697.20L149.86 698.20L149.84 699.20L149.82 700.20L149.80 701.20L149.78 702.20L149.75 703.20L149.73 704.20L149.71 705.20L149.70 705.75L147.90 705.75L147.89 705.20L147.87 704.20L147.85 703.20L147.82 702.20L147.80 701.20L147.78 700.20L147.76 699.20L147.74 698.20L147.72 697.20L147.70 696.20L147.68 695.20L147.66 694.20L147.64 693.20L147.62 692.20L147.60 691.20L147.58 690.20L147.57 689.20L147.55 688.20L147.53 687.20L147.51 686.20L147.49 685.20L147.47 684.20L147.46 683.20L147.44 682.20L147.42 681.20L147.40 680.20L147.39 679.20L147.37 678.20L147.35 677.20L147.33 676.20L147.31 675.20L147.30 674.20L147.28 673.20L147.26 672.20L147.24 671.20L147.22 670.20L147.20 669.20L147.18 668.20L147.17 667.20L147.15 666.20L147.13 665.20L147.11 664.20L147.10 663.20L147.08 662.20L147.06 661.20L147.05 660.20L147.04 659.20L147.02 658.20L147.01 657.20L147.00 656.20L146.99 655.20L146.98 654.20L146.97 653.20L146.96 652.20L146.96 651.20L146.95 650.20L146.95 649.20L146.94 648.20L146.94 647.20L146.94 646.20L146.93 645.20L146.93 644.20L146.92 643.20L146.92 642.20L146.92 641.20L146.92 640.20L146.91 639.20L146.91 638.20L146.91 637.20L146.91 636.20L146.90 635.20L146.90 634.20L146.90 633.20L146.90 632.20L146.90 631.20L146.90 630.20L146.90 629.20L146.90 628.20L146.91 627.20L146.91 626.20L146.92 625.20L146.93 624.20L146.94 623.20L146.95 622.20L146.96 621.20L146.98 620.20L146.99 619.20L147.01 618.20L147.02 617.20L147.04 616.20L147.06 615.20L147.08 614.20L147.09 613.20L147.11 612.20L147.13 611.20L147.15 610.20L147.17 609.20L147.18 608.20L147.20 607.20L147.22 606.20L147.23 605.20L147.25 604.20L147.26 603.20L147.27 602.20L147.29 601.20L147.30 600.20L147.31 599.20L147.32 598.20L147.33 597.20L147.34 596.20L147.35 595.20L147.36 594.20L147.37 593.20L147.38 592.20L147.39 591.20L147.40 590.20L147.41 589.20L147.42 588.20L147.43 587.20L147.44 586.20L147.45 585.20L147.46 584.20L147.47 583.20L147.48 582.20L147.49 581.20L147.50 580.20L147.51 579.20L147.52 578.20L147.52 577.20L147.53 576.20L147.54 575.20L147.55 574.20L147.56 573.20L147.57 572.20L147.57 571.20L147.58 570.20L147.59 569.20L147.59 568.20L147.60 567.20L147.61 566.20L147.61 565.20L147.62 564.20L147.62 563.20L147.63 562.20L147.63 561.20L147.64 560.20L147.64 559.20L147.64 558.20L147.65 557.20L147.65 556.20L147.65 555.20L147.65 554.20L147.66 553.20L147.66 552.20L147.66 551.20L147.66 550.20L147.67 549.20L147.67 548.20L147.67 547.20L147.67 546.20L147.67 545.20L147.68 544.20L147.68 543.20L147.68 542.20L147.68 541.20L147.68 540.20L147.69 539.20L147.69 538.20L147.69 537.20L147.69 536.20L147.69 535.20L147.69 534.20L147.69 533.20L147.69 532.20L147.70 531.20L147.70 530.20L147.70 529.20L147.70 528.20L147.70 527.20L147.70 526.20L147.70 525.20L147.70 524.20L147.70 523.20L147.70 522.20Z" fill="#00BFC4" stroke="#333333" stroke-width="1.1" stroke-linejoin="round"/>
<path d="M180.55 540.40L180.60 541.40L180.67 542.40L180.74 543.40L180.82 544.40L180.91 545.40L181.00 546.40L181.10 547.40L181.21 548.40L181.32 549.40L181.47 550.40L181.63 551.40L181.80 552.40L181.95 553.40L182.08 554.40L182.17 555.40L182.25 556.40L182.33 557.40L182.40 558.40L182.45 559.40L182.49 560.40L182.50 561.40L182.49 562.40L182.47 563.40L182.44 564.40L182.40 565.40L182.35 566.40L182.28 567.40L182.16 568.40L182.01 569.40L181.85 570.40L168.25 570.40L168.09 569.40L167.94 568.40L167.82 567.40L167.75 566.40L167.70 565.40L167.66 564.40L167.63 563.40L167.61 562.40L167.60 561.40L167.61 560.40L167.65 559.40L167.70 558.40L167.77 557.40L167.85 556.40L167.93 555.40L168.02 554.40L168.15 553.40L168.30 552.40L168.47 551.40L168.63 550.40L168.78 549.40L168.89 548.40L169.00 547.40L169.10 546.40L169.19 545.40L169.28 544.40L169.36 543.40L169.43 542.40L169.50 541.40L169.55 540.40Z" fill="#619CFF" stroke="#333333" stroke-width="1.1" stroke-linejoin="round"/>
<path d="M204.35 570.20L204.06 571.20L203.77 572.20L203.48 573.20L203.19 574.20L202.89 575.20L202.52 576.20L202.13 577.20L201.84 578.20L201.76 579.20L202.17 580.20L202.95 581.20L203.85 582.20L204.63 583.20L205.46 584.20L206.34 585.20L207.22 586.20L208.07 587.20L208.87 588.20L209.68 589.20L210.49 590.20L211.24 591.20L211.86 592.20L212.32 593.20L212.74 594.20L213.13 595.20L213.43 596.20L213.62 597.20L213.64 598.20L213.48 599.20L213.20 600.20L212.82 601.20L212.27 602.20L211.23 603.20L209.93 604.20L208.66 605.20L207.49 606.20L206.25 607.20L205.10 608.20L204.17 609.20L203.32 610.20L202.54 611.20L201.99 612.20L201.84 613.20L201.82 614.20L201.80 615.20L201.78 616.20L201.77 617.20L201.76 618.20L201.75 619.20L201.75 620.20L201.91 621.20L202.35 622.20L202.76 623.20L203.18 624.20L203.63 625.20L204.03 626.20L204.29 627.20L204.34 628.20L204.15 629.20L203.79 630.20L203.36 631.20L202.93 632.20L202.59 633.20L202.24 634.20L201.90 635.20L201.75 636.20L201.75 637.20L201.75 638.20L201.75 639.20L201.75 640.20L201.75 641.20L201.75 642.20L201.75 643.20L201.75 644.20L201.75 645.20L201.75 646.20L201.85 647.20L202.09 648.20L202.38 649.20L202.67 650.20L202.97 651.20L203.37 652.20L203.79 653.20L204.15 654.20L204.34 655.20L204.29 656.20L204.04 657.20L203.70 658.20L203.37 659.20L203.17 660.20L203.15 661.20L203.15 662.20L203.15 663.20L203.22 664.20L203.39 665.20L203.64 666.20L203.95 667.20L204.05 667.50L199.05 667.50L199.15 667.20L199.46 666.20L199.71 665.20L199.88 664.20L199.95 663.20L199.95 662.20L199.95 661.20L199.93 660.20L199.73 659.20L199.40 658.20L199.06 657.20L198.81 656.20L198.76 655.20L198.95 654.20L199.31 653.20L199.73 652.20L200.13 651.20L200.43 650.20L200.72 649.20L201.01 648.20L201.25 647.20L201.35 646.20L201.35 645.20L201.35 644.20L201.35 643.20L201.35 642.20L201.35 641.20L201.35 640.20L201.35 639.20L201.35 638.20L201.35 637.20L201.35 636.20L201.20 635.20L200.86 634.20L200.51 633.20L200.17 632.20L199.74 631.20L199.31 630.20L198.95 629.20L198.76 628.20L198.81 627.20L199.07 626.20L199.47 625.20L199.92 624.20L200.34 623.20L200.75 622.20L201.19 621.20L201.35 620.20L201.35 619.20L201.34 618.20L201.33 617.20L201.32 616.20L201.30 615.20L201.28 614.20L201.26 613.20L201.11 612.20L200.56 611.20L199.78 610.20L198.93 609.20L198.00 608.20L196.85 607.20L195.61 606.20L194.44 605.20L193.17 604.20L191.87 603.20L190.83 602.20L190.28 601.20L189.90 600.20L189.62 599.20L189.46 598.20L189.48 597.20L189.67 596.20L189.97 595.20L190.36 594.20L190.78 593.20L191.24 592.20L191.86 591.20L192.61 590.20L193.42 589.20L194.23 588.20L195.03 587.20L195.88 586.20L196.76 585.20L197.64 584.20L198.47 583.20L199.25 582.20L200.15 581.20L200.93 580.20L201.34 579.20L201.26 578.20L200.97 577.20L200.58 576.20L200.21 575.20L199.91 574.20L199.62 573.20L199.33 572.20L199.04 571.20L198.75 570.20Z" fill="#F564E3" stroke="#333333" stroke-width="1.1" stroke-linejoin="round"/>
<path d="M241.70 663.30L241.70 664.30L241.71 665.30L241.72 666.30L241.73 667.30L241.74 668.30L241.76 669.30L241.79 670.30L241.83 671.30L241.98 672.30L242.23 673.30L242.53 674.30L242.84 675.30L243.16 676.30L243.55 677.30L243.99 678.30L244.44 679.30L244.87 680.30L245.24 681.30L245.60 682.30L245.95 683.30L246.27 684.30L246.55 685.30L246.79 686.30L247.01 687.30L247.21 688.30L247.38 689.30L247.53 690.30L247.64 691.30L247.76 692.30L247.86 693.30L247.94 694.30L247.99 695.30L248.00 696.30L247.96 697.30L247.91 698.30L247.83 699.30L247.75 700.30L247.67 701.30L247.58 702.30L247.47 703.30L247.36 704.30L247.24 705.30L247.11 706.30L246.99 707.30L246.86 708.30L246.73 709.30L246.59 710.30L246.45 711.30L246.29 712.30L246.13 713.30L245.96 714.30L245.78 715.30L245.59 716.30L245.38 717.30L245.15 718.30L244.89 719.30L244.60 720.30L244.29 721.30L243.94 722.30L243.58 723.30L243.50 723.50L234.10 723.50L234.02 723.30L233.66 722.30L233.31 721.30L233.00 720.30L232.71 719.30L232.45 718.30L232.22 717.30L232.01 716.30L231.82 715.30L231.64 714.30L231.47 713.30L231.31 712.30L231.15 711.30L231.01 710.30L230.87 709.30L230.74 708.30L230.61 707.30L230.49 706.30L230.36 705.30L230.24 704.30L230.13 703.30L230.02 702.30L229.93 701.30L229.85 700.30L229.77 699.30L229.69 698.30L229.64 697.30L229.60 696.30L229.61 695.30L229.66 694.30L229.74 693.30L229.84 692.30L229.96 691.30L230.07 690.30L230.22 689.30L230.39 688.30L230.59 687.30L230.81 686.30L231.05 685.30L231.33 684.30L231.65 683.30L232.00 682.30L232.36 681.30L232.73 680.30L233.16 679.30L233.61 678.30L234.05 677.30L234.44 676.30L234.76 675.30L235.07 674.30L235.37 673.30L235.62 672.30L235.77 671.30L235.81 670.30L235.84 669.30L235.86 668.30L235.87 667.30L235.88 666.30L235.89 665.30L235.90 664.30L235.90 663.30Z" fill="#F8766D" stroke="#333333" stroke-width="1.1" stroke-linejoin="round"/>
<path d="M266.25 641.90L266.29 642.90L266.34 643.90L266.41 644.90L266.50 645.90L266.60 646.90L266.71 647.90L266.83 648.90L266.95 649.90L267.08 650.90L267.23 651.90L267.42 652.90L267.62 653.90L267.85 654.90L268.09 655.90L268.33 656.90L268.56 657.90L268.79 658.90L269.02 659.90L269.26 660.90L269.50 661.90L269.75 662.90L270.00 663.90L270.24 664.90L270.47 665.90L270.71 666.90L270.96 667.90L271.20 668.90L271.44 669.90L271.67 670.90L271.88 671.90L272.08 672.90L272.25 673.90L272.42 674.90L272.59 675.90L272.74 676.90L272.87 677.90L272.99 678.90L273.08 679.90L273.16 680.90L273.24 681.90L273.30 682.90L273.34 683.90L273.35 684.90L273.32 685.90L273.27 686.90L273.19 687.90L273.11 688.90L273.03 689.90L272.95 690.90L272.88 691.90L272.81 692.90L272.74 693.90L272.66 694.90L272.58 695.90L272.50 696.90L272.40 697.90L272.29 698.90L272.17 699.90L272.02 700.90L271.87 701.90L271.70 702.90L271.52 703.90L271.35 704.90L271.17 705.90L270.99 706.90L270.79 707.90L270.59 708.90L270.39 709.90L270.18 710.90L269.97 711.90L269.77 712.90L269.57 713.90L269.39 714.90L269.20 715.90L269.02 716.90L268.83 717.90L268.64 718.90L268.43 719.90L268.20 720.90L267.96 721.90L267.71 722.90L267.45 723.90L262.65 723.90L262.39 722.90L262.14 721.90L261.90 720.90L261.67 719.90L261.46 718.90L261.27 717.90L261.08 716.90L260.90 715.90L260.71 714.90L260.53 713.90L260.33 712.90L260.13 711.90L259.92 710.90L259.71 709.90L259.51 708.90L259.31 707.90L259.11 706.90L258.93 705.90L258.75 704.90L258.58 703.90L258.40 702.90L258.23 701.90L258.08 700.90L257.93 699.90L257.81 698.90L257.70 697.90L257.60 696.90L257.52 695.90L257.44 694.90L257.36 693.90L257.29 692.90L257.22 691.90L257.15 690.90L257.07 689.90L256.99 688.90L256.91 687.90L256.83 686.90L256.78 685.90L256.75 684.90L256.76 683.90L256.80 682.90L256.86 681.90L256.94 680.90L257.02 679.90L257.11 678.90L257.23 677.90L257.36 676.90L257.51 675.90L257.68 674.90L257.85 673.90L258.02 672.90L258.22 671.90L258.43 670.90L258.66 669.90L258.90 668.90L259.14 667.90L259.39 666.90L259.63 665.90L259.86 664.90L260.10 663.90L260.35 662.90L260.60 661.90L260.84 660.90L261.08 659.90L261.31 658.90L261.54 657.90L261.77 656.90L262.01 655.90L262.25 654.90L262.48 653.90L262.68 652.90L262.87 651.90L263.02 650.90L263.15 649.90L263.27 648.90L263.39 647.90L263.50 646.90L263.60 645.90L263.69 644.90L263.76 643.90L263.81 642.90L263.85 641.90Z" fill="#B79F00" stroke="#333333" stroke-width="1.1" stroke-linejoin="round"/>
<path d="M291.75 540.75L291.75 541.75L291.75 542.75L291.75 543.75L291.75 544.75L291.75 545.75L291.75 546.75L291.75 547.75L291.75 548.75L291.75 549.75L291.75 550.75L291.75 551.75L291.75 552.75L291.75 553.75L291.75 554.75L291.75 555.75L291.75 556.75L291.75 557.75L291.75 558.75L291.75 559.75L291.75 560.75L291.75 561.75L291.75 562.75L291.75 563.75L291.75 564.75L291.75 565.75L291.75 566.75L291.75 567.75L291.75 568.75L291.75 569.75L291.75 570.75L291.75 571.75L291.75 572.75L291.75 573.75L291.75 574.75L291.75 575.75L291.75 576.75L291.75 577.75L291.75 578.75L291.75 579.75L291.75 580.75L291.75 581.75L291.75 582.75L291.75 583.75L291.75 584.75L291.75 585.75L291.75 586.75L291.75 587.75L291.75 588.75L291.75 589.75L291.75 590.75L291.75 591.75L291.75 592.75L291.75 593.75L291.75 594.75L291.75 595.75L291.75 596.75L291.75 597.75L291.75 598.75L291.75 599.75L291.75 600.75L291.75 601.75L291.75 602.75L291.75 603.75L291.75 604.75L291.75 605.75L291.75 606.75L291.75 607.75L291.75 608.75L291.75 609.75L291.75 610.75L291.75 611.75L291.75 612.75L291.76 613.75L291.79 614.75L291.83 615.75L291.86 616.75L291.90 617.75L291.95 618.75L291.99 619.75L292.04 620.75L292.08 621.75L292.13 622.75L292.18 623.75L292.24 624.75L292.31 625.75L292.38 626.75L292.47 627.75L292.56 628.75L292.66 629.75L292.76 630.75L292.87 631.75L292.99 632.75L293.13 633.75L293.29 634.75L293.49 635.75L293.71 636.75L293.93 637.75L294.17 638.75L294.40 639.75L294.61 640.75L294.82 641.75L295.03 642.75L295.24 643.75L295.46 644.75L295.67 645.75L295.87 646.75L296.06 647.75L296.25 648.75L296.44 649.75L296.63 650.75L296.81 651.75L296.98 652.75L297.15 653.75L297.30 654.75L297.44 655.75L297.57 656.75L297.70 657.75L297.82 658.75L297.93 659.75L298.03 660.75L298.13 661.75L298.21 662.75L298.28 663.75L298.36 664.75L298.43 665.75L298.50 666.75L298.56 667.75L298.61 668.75L298.64 669.75L298.65 670.75L298.65 671.75L298.65 672.75L298.65 673.75L298.65 674.75L298.65 675.75L298.65 676.75L298.65 677.75L298.65 678.75L298.62 679.75L298.56 680.75L298.48 681.75L298.39 682.75L298.28 683.75L298.17 684.75L298.07 685.75L297.96 686.75L297.83 687.75L297.69 688.75L297.54 689.75L297.38 690.75L297.22 691.75L297.06 692.75L296.89 693.75L296.72 694.75L296.53 695.75L296.34 696.75L296.15 697.75L295.95 698.75L295.76 699.75L295.58 700.75L295.40 701.75L295.22 702.75L295.05 703.75L294.88 704.75L294.71 705.75L294.54 706.75L294.37 707.75L294.21 708.75L294.04 709.75L293.88 710.75L293.72 711.75L293.56 712.75L293.40 713.75L293.24 714.75L293.09 715.75L292.94 716.75L292.78 717.75L292.63 718.75L292.48 719.75L292.34 720.75L292.21 721.75L292.10 722.75L292.00 723.75L291.91 724.75L291.82 725.75L291.75 726.70L291.35 726.70L291.28 725.75L291.19 724.75L291.10 723.75L291.00 722.75L290.89 721.75L290.76 720.75L290.62 719.75L290.47 718.75L290.32 717.75L290.16 716.75L290.01 715.75L289.86 714.75L289.70 713.75L289.54 712.75L289.38 711.75L289.22 710.75L289.06 709.75L288.89 708.75L288.73 707.75L288.56 706.75L288.39 705.75L288.22 704.75L288.05 703.75L287.88 702.75L287.70 701.75L287.52 700.75L287.34 699.75L287.15 698.75L286.95 697.75L286.76 696.75L286.57 695.75L286.38 694.75L286.21 693.75L286.04 692.75L285.88 691.75L285.72 690.75L285.56 689.75L285.41 688.75L285.27 687.75L285.14 686.75L285.03 685.75L284.93 684.75L284.82 683.75L284.71 682.75L284.62 681.75L284.54 680.75L284.48 679.75L284.45 678.75L284.45 677.75L284.45 676.75L284.45 675.75L284.45 674.75L284.45 673.75L284.45 672.75L284.45 671.75L284.45 670.75L284.46 669.75L284.49 668.75L284.54 667.75L284.60 666.75L284.67 665.75L284.74 664.75L284.82 663.75L284.89 662.75L284.97 661.75L285.07 660.75L285.17 659.75L285.28 658.75L285.40 657.75L285.53 656.75L285.66 655.75L285.80 654.75L285.95 653.75L286.12 652.75L286.29 651.75L286.47 650.75L286.66 649.75L286.85 648.75L287.04 647.75L287.23 646.75L287.43 645.75L287.64 644.75L287.86 643.75L288.07 642.75L288.28 641.75L288.49 640.75L288.70 639.75L288.93 638.75L289.17 637.75L289.39 636.75L289.61 635.75L289.81 634.75L289.97 633.75L290.11 632.75L290.23 631.75L290.34 630.75L290.44 629.75L290.54 628.75L290.63 627.75L290.72 626.75L290.79 625.75L290.86 624.75L290.92 623.75L290.97 622.75L291.02 621.75L291.06 620.75L291.11 619.75L291.15 618.75L291.20 617.75L291.24 616.75L291.27 615.75L291.31 614.75L291.34 613.75L291.35 612.75L291.35 611.75L291.35 610.75L291.35 609.75L291.35 608.75L291.35 607.75L291.35 606.75L291.35 605.75L291.35 604.75L291.35 603.75L291.35 602.75L291.35 601.75L291.35 600.75L291.35 599.75L291.35 598.75L291.35 597.75L291.35 596.75L291.35 595.75L291.35 594.75L291.35 593.75L291.35 592.75L291.35 591.75L291.35 590.75L291.35 589.75L291.35 588.75L291.35 587.75L291.35 586.75L291.35 585.75L291.35 584.75L291.35 583.75L291.35 582.75L291.35 581.75L291.35 580.75L291.35 579.75L291.35 578.75L291.35 577.75L291.35 576.75L291.35 575.75L291.35 574.75L291.35 573.75L291.35 572.75L291.35 571.75L291.35 570.75L291.35 569.75L291.35 568.75L291.35 567.75L291.35 566.75L291.35 565.75L291.35 564.75L291.35 563.75L291.35 562.75L291.35 561.75L291.35 560.75L291.35 559.75L291.35 558.75L291.35 557.75L291.35 556.75L291.35 555.75L291.35 554.75L291.35 553.75L291.35 552.75L291.35 551.75L291.35 550.75L291.35 549.75L291.35 548.75L291.35 547.75L291.35 546.75L291.35 545.75L291.35 544.75L291.35 543.75L291.35 542.75L291.35 541.75L291.35 540.75Z" fill="#00BA38" stroke="#333333" stroke-width="1.1" stroke-linejoin="round"/>
<path d="M318.15 580.75L318.15 581.75L318.15 582.75L318.15 583.75L318.15 584.75L318.15 585.75L318.15 586.75L318.15 587.75L318.15 588.75L318.15 589.75L318.15 590.75L318.15 591.75L318.15 592.75L318.15 593.75L318.15 594.75L318.15 595.75L318.15 596.75L318.15 597.75L318.15 598.75L318.15 599.75L318.15 600.75L318.15 601.75L318.15 602.75L318.15 603.75L318.17 604.75L318.19 605.75L318.21 606.75L318.24 607.75L318.26 608.75L318.29 609.75L318.31 610.75L318.34 611.75L318.37 612.75L318.40 613.75L318.43 614.75L318.46 615.75L318.50 616.75L318.54 617.75L318.58 618.75L318.63 619.75L318.68 620.75L318.74 621.75L318.80 622.75L318.87 623.75L318.94 624.75L319.01 625.75L319.08 626.75L319.16 627.75L319.23 628.75L319.31 629.75L319.38 630.75L319.46 631.75L319.54 632.75L319.61 633.75L319.68 634.75L319.75 635.75L319.82 636.75L319.89 637.75L319.96 638.75L320.03 639.75L320.10 640.75L320.18 641.75L320.25 642.75L320.32 643.75L320.39 644.75L320.47 645.75L320.54 646.75L320.62 647.75L320.69 648.75L320.77 649.75L320.84 650.75L320.92 651.75L321.00 652.75L321.07 653.75L321.15 654.75L321.23 655.75L321.31 656.75L321.39 657.75L321.48 658.75L321.56 659.75L321.65 660.75L321.73 661.75L321.83 662.75L321.92 663.75L322.02 664.75L322.12 665.75L322.22 666.75L322.32 667.75L322.42 668.75L322.52 669.75L322.62 670.75L322.71 671.75L322.80 672.75L322.89 673.75L322.98 674.75L323.06 675.75L323.15 676.75L323.23 677.75L323.32 678.75L323.40 679.75L323.48 680.75L323.56 681.75L323.63 682.75L323.70 683.75L323.77 684.75L323.84 685.75L323.91 686.75L323.98 687.75L324.05 688.75L324.13 689.75L324.20 690.75L324.26 691.75L324.31 692.75L324.36 693.75L324.39 694.75L324.40 695.75L324.40 696.75L324.40 697.75L324.40 698.75L324.40 699.75L324.40 700.75L324.40 701.75L324.40 702.75L324.40 703.75L324.36 704.75L324.28 705.75L324.17 706.75L324.04 707.75L323.89 708.75L323.74 709.75L323.59 710.75L323.44 711.75L323.26 712.75L323.08 713.75L322.89 714.75L322.70 715.75L322.51 716.75L322.33 717.75L322.14 718.75L321.96 719.75L321.95 719.80L313.95 719.80L313.94 719.75L313.76 718.75L313.57 717.75L313.39 716.75L313.20 715.75L313.01 714.75L312.82 713.75L312.64 712.75L312.46 711.75L312.31 710.75L312.16 709.75L312.01 708.75L311.86 707.75L311.73 706.75L311.62 705.75L311.54 704.75L311.50 703.75L311.50 702.75L311.50 701.75L311.50 700.75L311.50 699.75L311.50 698.75L311.50 697.75L311.50 696.75L311.50 695.75L311.51 694.75L311.54 693.75L311.59 692.75L311.64 691.75L311.70 690.75L311.77 689.75L311.85 688.75L311.92 687.75L311.99 686.75L312.06 685.75L312.13 684.75L312.20 683.75L312.27 682.75L312.34 681.75L312.42 680.75L312.50 679.75L312.58 678.75L312.67 677.75L312.75 676.75L312.84 675.75L312.92 674.75L313.01 673.75L313.10 672.75L313.19 671.75L313.28 670.75L313.38 669.75L313.48 668.75L313.58 667.75L313.68 666.75L313.78 665.75L313.88 664.75L313.98 663.75L314.07 662.75L314.17 661.75L314.25 660.75L314.34 659.75L314.42 658.75L314.51 657.75L314.59 656.75L314.67 655.75L314.75 654.75L314.83 653.75L314.90 652.75L314.98 651.75L315.06 650.75L315.13 649.75L315.21 648.75L315.28 647.75L315.36 646.75L315.43 645.75L315.51 644.75L315.58 643.75L315.65 642.75L315.72 641.75L315.80 640.75L315.87 639.75L315.94 638.75L316.01 637.75L316.08 636.75L316.15 635.75L316.22 634.75L316.29 633.75L316.36 632.75L316.44 631.75L316.52 630.75L316.59 629.75L316.67 628.75L316.74 627.75L316.82 626.75L316.89 625.75L316.96 624.75L317.03 623.75L317.10 622.75L317.16 621.75L317.22 620.75L317.27 619.75L317.32 618.75L317.36 617.75L317.40 616.75L317.44 615.75L317.47 614.75L317.50 613.75L317.53 612.75L317.56 611.75L317.59 610.75L317.61 609.75L317.64 608.75L317.66 607.75L317.69 606.75L317.71 605.75L317.73 604.75L317.75 603.75L317.75 602.75L317.75 601.75L317.75 600.75L317.75 599.75L317.75 598.75L317.75 597.75L317.75 596.75L317.75 595.75L317.75 594.75L317.75 593.75L317.75 592.75L317.75 591.75L317.75 590.75L317.75 589.75L317.75 588.75L317.75 587.75L317.75 586.75L317.75 585.75L317.75 584.75L317.75 583.75L317.75 582.75L317.75 581.75L317.75 580.75Z" fill="#00BFC4" stroke="#333333" stroke-width="1.1" stroke-linejoin="round"/>
<path d="M353.90 684.40L354.08 685.40L354.26 686.40L354.43 687.40L354.60 688.40L354.77 689.40L354.95 690.40L355.12 691.40L355.28 692.40L355.40 693.40L355.51 694.40L355.62 695.40L355.71 696.40L355.78 697.40L355.80 698.40L355.80 699.40L355.80 700.40L355.80 701.40L355.80 702.40L355.80 703.40L355.77 704.40L355.69 705.40L355.59 706.40L355.48 707.40L355.35 708.40L355.20 709.40L355.03 710.40L354.84 711.40L354.80 711.60L333.80 711.60L333.76 711.40L333.57 710.40L333.40 709.40L333.25 708.40L333.12 707.40L333.01 706.40L332.91 705.40L332.83 704.40L332.80 703.40L332.80 702.40L332.80 701.40L332.80 700.40L332.80 699.40L332.80 698.40L332.82 697.40L332.89 696.40L332.98 695.40L333.09 694.40L333.20 693.40L333.32 692.40L333.48 691.40L333.65 690.40L333.83 689.40L334.00 688.40L334.17 687.40L334.34 686.40L334.52 685.40L334.70 684.40Z" fill="#619CFF" stroke="#333333" stroke-width="1.1" stroke-linejoin="round"/>
<path d="M373.55 645.30L373.71 646.30L373.87 647.30L374.04 648.30L374.20 649.30L374.37 650.30L374.53 651.30L374.70 652.30L374.87 653.30L375.04 654.30L375.21 655.30L375.38 656.30L375.55 657.30L375.73 658.30L375.90 659.30L376.07 660.30L376.23 661.30L376.39 662.30L376.54 663.30L376.68 664.30L376.83 665.30L376.99 666.30L377.16 667.30L377.35 668.30L377.57 669.30L377.82 670.30L378.10 671.30L378.39 672.30L378.67 673.30L378.93 674.30L379.15 675.30L379.34 676.30L379.54 677.30L379.73 678.30L379.90 679.30L380.04 680.30L380.13 681.30L380.15 682.30L380.11 683.30L380.03 684.30L379.92 685.30L379.79 686.30L379.56 687.30L379.24 688.30L378.86 689.30L378.47 690.30L378.10 691.30L377.69 692.30L377.26 693.30L376.82 694.30L376.39 695.30L375.99 696.30L375.59 697.30L375.19 698.30L374.83 699.30L374.51 700.30L374.25 701.30L374.02 702.30L373.80 703.30L373.61 704.30L373.49 705.30L373.44 706.30L373.42 707.30L373.40 708.30L373.38 709.30L373.37 710.30L373.36 711.30L373.35 712.30L373.35 713.30L373.35 714.30L373.36 715.30L373.38 716.30L373.41 717.30L373.43 718.30L373.45 718.80L367.65 718.80L367.67 718.30L367.69 717.30L367.72 716.30L367.74 715.30L367.75 714.30L367.75 713.30L367.75 712.30L367.74 711.30L367.73 710.30L367.72 709.30L367.70 708.30L367.68 707.30L367.66 706.30L367.61 705.30L367.49 704.30L367.30 703.30L367.08 702.30L366.85 701.30L366.59 700.30L366.27 699.30L365.91 698.30L365.51 697.30L365.11 696.30L364.71 695.30L364.28 694.30L363.84 693.30L363.41 692.30L363.00 691.30L362.63 690.30L362.24 689.30L361.86 688.30L361.54 687.30L361.31 686.30L361.18 685.30L361.07 684.30L360.99 683.30L360.95 682.30L360.97 681.30L361.06 680.30L361.20 679.30L361.37 678.30L361.56 677.30L361.76 676.30L361.95 675.30L362.17 674.30L362.43 673.30L362.71 672.30L363.00 671.30L363.28 670.30L363.53 669.30L363.75 668.30L363.94 667.30L364.11 666.30L364.27 665.30L364.42 664.30L364.56 663.30L364.71 662.30L364.87 661.30L365.03 660.30L365.20 659.30L365.37 658.30L365.55 657.30L365.72 656.30L365.89 655.30L366.06 654.30L366.23 653.30L366.40 652.30L366.57 651.30L366.73 650.30L366.90 649.30L367.06 648.30L367.23 647.30L367.39 646.30L367.55 645.30Z" fill="#F564E3" stroke="#333333" stroke-width="1.1" stroke-linejoin="round"/>
<path d="M409.30 643.40L409.30 644.40L409.30 645.40L409.30 646.40L409.30 647.40L409.30 648.40L409.30 649.40L409.30 650.40L409.30 651.40L409.30 652.40L409.30 653.40L409.30 654.40L409.31 655.40L409.32 656.40L409.35 657.40L409.39 658.40L409.44 659.40L409.50 660.40L409.56 661.40L409.63 662.40L409.70 663.40L409.77 664.40L409.84 665.40L409.91 666.40L409.98 667.40L410.05 668.40L410.14 669.40L410.23 670.40L410.32 671.40L410.42 672.40L410.52 673.40L410.63 674.40L410.73 675.40L410.84 676.40L410.94 677.40L411.04 678.40L411.13 679.40L411.22 680.40L411.31 681.40L411.40 682.40L411.49 683.40L411.58 684.40L411.66 685.40L411.75 686.40L411.83 687.40L411.92 688.40L412.01 689.40L412.09 690.40L412.18 691.40L412.27 692.40L412.36 693.40L412.44 694.40L412.53 695.40L412.62 696.40L412.71 697.40L412.80 698.40L412.89 699.40L412.98 700.40L413.07 701.40L413.15 702.40L413.24 703.40L413.32 704.40L413.41 705.40L413.50 706.40L413.58 707.40L413.67 708.40L413.76 709.40L413.84 710.40L413.92 711.40L414.00 712.40L414.07 713.40L414.13 714.40L414.18 715.40L414.24 716.40L414.29 717.40L414.34 718.40L414.37 719.40L414.40 720.40L414.40 721.40L414.40 722.40L414.40 723.40L414.40 724.40L414.40 725.40L414.40 726.40L414.40 726.70L401.50 726.70L401.50 726.40L401.50 725.40L401.50 724.40L401.50 723.40L401.50 722.40L401.50 721.40L401.50 720.40L401.53 719.40L401.56 718.40L401.61 717.40L401.66 716.40L401.72 715.40L401.77 714.40L401.83 713.40L401.90 712.40L401.98 711.40L402.06 710.40L402.14 709.40L402.23 708.40L402.32 707.40L402.40 706.40L402.49 705.40L402.58 704.40L402.66 703.40L402.75 702.40L402.83 701.40L402.92 700.40L403.01 699.40L403.10 698.40L403.19 697.40L403.28 696.40L403.37 695.40L403.46 694.40L403.54 693.40L403.63 692.40L403.72 691.40L403.81 690.40L403.89 689.40L403.98 688.40L404.07 687.40L404.15 686.40L404.24 685.40L404.32 684.40L404.41 683.40L404.50 682.40L404.59 681.40L404.68 680.40L404.77 679.40L404.86 678.40L404.96 677.40L405.06 676.40L405.17 675.40L405.27 674.40L405.38 673.40L405.48 672.40L405.58 671.40L405.67 670.40L405.76 669.40L405.85 668.40L405.92 667.40L405.99 666.40L406.06 665.40L406.13 664.40L406.20 663.40L406.27 662.40L406.34 661.40L406.40 660.40L406.46 659.40L406.51 658.40L406.55 657.40L406.58 656.40L406.59 655.40L406.60 654.40L406.60 653.40L406.60 652.40L406.60 651.40L406.60 650.40L406.60 649.40L406.60 648.40L406.60 647.40L406.60 646.40L406.60 645.40L406.60 644.40L406.60 643.40Z" fill="#F8766D" stroke="#333333" stroke-width="1.1" stroke-linejoin="round"/>
<path d="M435.30 666.40L435.34 667.40L435.39 668.40L435.46 669.40L435.54 670.40L435.62 671.40L435.71 672.40L435.81 673.40L435.93 674.40L436.07 675.40L436.22 676.40L436.39 677.40L436.56 678.40L436.72 679.40L436.87 680.40L437.02 681.40L437.17 682.40L437.32 683.40L437.48 684.40L437.66 685.40L437.85 686.40L438.05 687.40L438.27 688.40L438.51 689.40L438.77 690.40L439.05 691.40L439.37 692.40L439.75 693.40L440.20 694.40L440.70 695.40L441.21 696.40L441.70 697.40L442.15 698.40L442.58 699.40L443.03 700.40L443.47 701.40L443.87 702.40L444.24 703.40L444.53 704.40L444.76 705.40L444.97 706.40L445.16 707.40L445.33 708.40L445.47 709.40L445.57 710.40L445.62 711.40L445.65 712.40L445.68 713.40L445.70 714.40L445.67 715.40L445.52 716.40L445.29 717.40L445.03 718.40L444.72 719.40L444.31 720.40L443.84 721.40L443.31 722.40L442.76 723.40L442.16 724.40L441.48 725.40L440.75 726.40L440.20 727.10L428.20 727.10L427.65 726.40L426.92 725.40L426.24 724.40L425.64 723.40L425.09 722.40L424.56 721.40L424.09 720.40L423.68 719.40L423.37 718.40L423.11 717.40L422.88 716.40L422.73 715.40L422.70 714.40L422.72 713.40L422.75 712.40L422.78 711.40L422.83 710.40L422.93 709.40L423.07 708.40L423.24 707.40L423.43 706.40L423.64 705.40L423.87 704.40L424.16 703.40L424.53 702.40L424.93 701.40L425.37 700.40L425.82 699.40L426.25 698.40L426.70 697.40L427.19 696.40L427.70 695.40L428.20 694.40L428.65 693.40L429.03 692.40L429.35 691.40L429.63 690.40L429.89 689.40L430.13 688.40L430.35 687.40L430.55 686.40L430.74 685.40L430.92 684.40L431.08 683.40L431.23 682.40L431.38 681.40L431.53 680.40L431.68 679.40L431.84 678.40L432.01 677.40L432.18 676.40L432.33 675.40L432.47 674.40L432.59 673.40L432.69 672.40L432.78 671.40L432.86 670.40L432.94 669.40L433.01 668.40L433.06 667.40L433.10 666.40Z" fill="#B79F00" stroke="#333333" stroke-width="1.1" stroke-linejoin="round"/>
<path d="M460.75 590.50L460.75 591.50L460.75 592.50L460.75 593.50L460.75 594.50L460.75 595.50L460.75 596.50L460.75 597.50L460.75 598.50L460.75 599.50L460.75 600.50L460.75 601.50L460.75 602.50L460.75 603.50L460.75 604.50L460.75 605.50L460.75 606.50L460.75 607.50L460.75 608.50L460.75 609.50L460.75 610.50L460.75 611.50L460.75 612.50L460.75 613.50L460.75 614.50L460.75 615.50L460.75 616.50L460.75 617.50L460.75 618.50L460.75 619.50L460.75 620.50L460.75 621.50L460.75 622.50L460.75 623.50L460.76 624.50L460.80 625.50L460.85 626.50L460.90 627.50L460.95 628.50L461.01 629.50L461.07 630.50L461.14 631.50L461.20 632.50L461.26 633.50L461.33 634.50L461.39 635.50L461.45 636.50L461.51 637.50L461.58 638.50L461.65 639.50L461.72 640.50L461.79 641.50L461.87 642.50L461.95 643.50L462.03 644.50L462.11 645.50L462.20 646.50L462.29 647.50L462.38 648.50L462.47 649.50L462.57 650.50L462.67 651.50L462.78 652.50L462.89 653.50L463.00 654.50L463.12 655.50L463.24 656.50L463.36 657.50L463.48 658.50L463.59 659.50L463.71 660.50L463.83 661.50L463.95 662.50L464.08 663.50L464.20 664.50L464.33 665.50L464.45 666.50L464.58 667.50L464.71 668.50L464.84 669.50L464.98 670.50L465.11 671.50L465.24 672.50L465.38 673.50L465.51 674.50L465.65 675.50L465.79 676.50L465.93 677.50L466.08 678.50L466.22 679.50L466.36 680.50L466.51 681.50L466.65 682.50L466.80 683.50L466.95 684.50L467.09 685.50L467.24 686.50L467.41 687.50L467.60 688.50L467.78 689.50L467.96 690.50L468.13 691.50L468.27 692.50L468.38 693.50L468.44 694.50L468.47 695.50L468.50 696.50L468.52 697.50L468.53 698.50L468.54 699.50L468.55 700.50L468.54 701.50L468.45 702.50L468.31 703.50L468.13 704.50L467.92 705.50L467.70 706.50L467.49 707.50L467.24 708.50L466.95 709.50L466.64 710.50L466.31 711.50L465.98 712.50L465.65 713.50L465.31 714.50L464.96 715.50L464.59 716.50L464.23 717.50L463.88 718.50L463.54 719.50L463.23 720.50L462.92 721.50L462.62 722.50L462.35 723.50L462.11 724.50L461.92 725.50L461.76 726.50L461.65 727.30L459.45 727.30L459.34 726.50L459.18 725.50L458.99 724.50L458.75 723.50L458.48 722.50L458.18 721.50L457.87 720.50L457.56 719.50L457.22 718.50L456.87 717.50L456.51 716.50L456.14 715.50L455.79 714.50L455.45 713.50L455.12 712.50L454.79 711.50L454.46 710.50L454.15 709.50L453.86 708.50L453.61 707.50L453.40 706.50L453.18 705.50L452.97 704.50L452.79 703.50L452.65 702.50L452.56 701.50L452.55 700.50L452.56 699.50L452.57 698.50L452.58 697.50L452.60 696.50L452.63 695.50L452.66 694.50L452.72 693.50L452.83 692.50L452.97 691.50L453.14 690.50L453.32 689.50L453.50 688.50L453.69 687.50L453.86 686.50L454.01 685.50L454.15 684.50L454.30 683.50L454.45 682.50L454.59 681.50L454.74 680.50L454.88 679.50L455.02 678.50L455.17 677.50L455.31 676.50L455.45 675.50L455.59 674.50L455.72 673.50L455.86 672.50L455.99 671.50L456.12 670.50L456.26 669.50L456.39 668.50L456.52 667.50L456.65 666.50L456.77 665.50L456.90 664.50L457.02 663.50L457.15 662.50L457.27 661.50L457.39 660.50L457.51 659.50L457.62 658.50L457.74 657.50L457.86 656.50L457.98 655.50L458.10 654.50L458.21 653.50L458.32 652.50L458.43 651.50L458.53 650.50L458.63 649.50L458.72 648.50L458.81 647.50L458.90 646.50L458.99 645.50L459.07 644.50L459.15 643.50L459.23 642.50L459.31 641.50L459.38 640.50L459.45 639.50L459.52 638.50L459.59 637.50L459.65 636.50L459.71 635.50L459.77 634.50L459.84 633.50L459.90 632.50L459.96 631.50L460.03 630.50L460.09 629.50L460.15 628.50L460.20 627.50L460.25 626.50L460.30 625.50L460.34 624.50L460.35 623.50L460.35 622.50L460.35 621.50L460.35 620.50L460.35 619.50L460.35 618.50L460.35 617.50L460.35 616.50L460.35 615.50L460.35 614.50L460.35 613.50L460.35 612.50L460.35 611.50L460.35 610.50L460.35 609.50L460.35 608.50L460.35 607.50L460.35 606.50L460.35 605.50L460.35 604.50L460.35 603.50L460.35 602.50L460.35 601.50L460.35 600.50L460.35 599.50L460.35 598.50L460.35 597.50L460.35 596.50L460.35 595.50L460.35 594.50L460.35 593.50L460.35 592.50L460.35 591.50L460.35 590.50Z" fill="#00BA38" stroke="#333333" stroke-width="1.1" stroke-linejoin="round"/>
<path d="M488.35 621.20L488.40 622.20L488.44 623.20L488.48 624.20L488.50 625.20L488.52 626.20L488.54 627.20L488.55 628.20L488.55 629.20L488.54 630.20L488.52 631.20L488.47 632.20L488.42 633.20L488.36 634.20L488.30 635.20L488.25 636.20L488.20 637.20L488.17 638.20L488.15 639.20L488.15 640.20L488.16 641.20L488.17 642.20L488.18 643.20L488.19 644.20L488.21 645.20L488.23 646.20L488.26 647.20L488.28 648.20L488.31 649.20L488.34 650.20L488.37 651.20L488.40 652.20L488.45 653.20L488.51 654.20L488.57 655.20L488.64 656.20L488.72 657.20L488.79 658.20L488.87 659.20L488.95 660.20L489.03 661.20L489.12 662.20L489.21 663.20L489.30 664.20L489.40 665.20L489.51 666.20L489.61 667.20L489.72 668.20L489.83 669.20L489.94 670.20L490.04 671.20L490.15 672.20L490.26 673.20L490.37 674.20L490.48 675.20L490.60 676.20L490.71 677.20L490.83 678.20L490.95 679.20L491.07 680.20L491.19 681.20L491.31 682.20L491.43 683.20L491.56 684.20L491.69 685.20L491.82 686.20L491.95 687.20L492.08 688.20L492.20 689.20L492.32 690.20L492.43 691.20L492.55 692.20L492.68 693.20L492.80 694.20L492.92 695.20L493.04 696.20L493.15 697.20L493.25 698.20L493.34 699.20L493.41 700.20L493.46 701.20L493.51 702.20L493.56 703.20L493.60 704.20L493.64 705.20L493.67 706.20L493.69 707.20L493.70 708.20L493.69 709.20L493.65 710.20L493.58 711.20L493.49 712.20L493.39 713.20L493.27 714.20L493.15 715.20L493.03 716.20L492.88 717.20L492.70 718.20L492.50 719.20L492.29 720.20L492.08 721.20L491.87 722.20L491.67 723.20L491.47 724.20L491.27 725.20L491.07 726.20L490.86 727.20L490.65 728.20L483.25 728.20L483.04 727.20L482.83 726.20L482.63 725.20L482.43 724.20L482.23 723.20L482.03 722.20L481.82 721.20L481.61 720.20L481.40 719.20L481.20 718.20L481.02 717.20L480.87 716.20L480.75 715.20L480.63 714.20L480.51 713.20L480.41 712.20L480.32 711.20L480.25 710.20L480.21 709.20L480.20 708.20L480.21 707.20L480.23 706.20L480.26 705.20L480.30 704.20L480.34 703.20L480.39 702.20L480.44 701.20L480.49 700.20L480.56 699.20L480.65 698.20L480.75 697.20L480.86 696.20L480.98 695.20L481.10 694.20L481.22 693.20L481.35 692.20L481.47 691.20L481.58 690.20L481.70 689.20L481.82 688.20L481.95 687.20L482.08 686.20L482.21 685.20L482.34 684.20L482.47 683.20L482.59 682.20L482.71 681.20L482.83 680.20L482.95 679.20L483.07 678.20L483.19 677.20L483.30 676.20L483.42 675.20L483.53 674.20L483.64 673.20L483.75 672.20L483.86 671.20L483.96 670.20L484.07 669.20L484.18 668.20L484.29 667.20L484.39 666.20L484.50 665.20L484.60 664.20L484.69 663.20L484.78 662.20L484.87 661.20L484.95 660.20L485.03 659.20L485.11 658.20L485.18 657.20L485.26 656.20L485.33 655.20L485.39 654.20L485.45 653.20L485.50 652.20L485.53 651.20L485.56 650.20L485.59 649.20L485.62 648.20L485.64 647.20L485.67 646.20L485.69 645.20L485.71 644.20L485.72 643.20L485.73 642.20L485.74 641.20L485.75 640.20L485.75 639.20L485.73 638.20L485.70 637.20L485.65 636.20L485.60 635.20L485.54 634.20L485.48 633.20L485.43 632.20L485.38 631.20L485.36 630.20L485.35 629.20L485.35 628.20L485.36 627.20L485.38 626.20L485.40 625.20L485.42 624.20L485.46 623.20L485.50 622.20L485.55 621.20Z" fill="#00BFC4" stroke="#333333" stroke-width="1.1" stroke-linejoin="round"/>
<path d="M519.20 653.90L519.28 654.90L519.35 655.90L519.40 656.90L519.44 657.90L519.47 658.90L519.48 659.90L519.49 660.90L519.50 661.90L519.50 662.90L519.49 663.90L519.46 664.90L519.39 665.90L519.30 666.90L519.20 667.90L519.10 668.90L518.99 669.90L518.89 670.90L518.79 671.90L518.68 672.90L518.56 673.90L518.44 674.90L518.32 675.90L518.19 676.90L518.06 677.90L517.94 678.90L517.80 679.90L517.66 680.90L517.52 681.90L517.38 682.90L517.24 683.90L517.11 684.90L517.00 685.90L516.89 686.90L516.77 687.90L516.66 688.90L516.55 689.90L516.46 690.90L516.39 691.90L516.36 692.90L516.35 693.90L516.35 694.90L516.35 695.90L516.35 696.90L516.35 697.90L516.35 698.90L516.35 699.90L516.35 700.90L516.36 701.90L516.39 702.90L516.44 703.90L516.49 704.90L516.56 705.90L516.62 706.90L516.67 707.90L516.72 708.90L516.76 709.90L516.80 710.90L516.85 711.90L516.89 712.90L516.93 713.90L516.97 714.90L517.00 715.60L509.60 715.60L509.63 714.90L509.67 713.90L509.71 712.90L509.75 711.90L509.80 710.90L509.84 709.90L509.88 708.90L509.93 707.90L509.98 706.90L510.04 705.90L510.11 704.90L510.16 703.90L510.21 702.90L510.24 701.90L510.25 700.90L510.25 699.90L510.25 698.90L510.25 697.90L510.25 696.90L510.25 695.90L510.25 694.90L510.25 693.90L510.24 692.90L510.21 691.90L510.14 690.90L510.05 689.90L509.94 688.90L509.83 687.90L509.71 686.90L509.60 685.90L509.49 684.90L509.36 683.90L509.22 682.90L509.08 681.90L508.94 680.90L508.80 679.90L508.66 678.90L508.54 677.90L508.41 676.90L508.28 675.90L508.16 674.90L508.04 673.90L507.92 672.90L507.81 671.90L507.71 670.90L507.61 669.90L507.50 668.90L507.40 667.90L507.30 666.90L507.21 665.90L507.14 664.90L507.11 663.90L507.10 662.90L507.10 661.90L507.11 660.90L507.12 659.90L507.13 658.90L507.16 657.90L507.20 656.90L507.25 655.90L507.32 654.90L507.40 653.90Z" fill="#619CFF" stroke="#333333" stroke-width="1.1" stroke-linejoin="round"/>
<path d="M541.05 646.30L541.05 647.30L541.06 648.30L541.07 649.30L541.09 650.30L541.11 651.30L541.14 652.30L541.16 653.30L541.19 654.30L541.23 655.30L541.30 656.30L541.38 657.30L541.48 658.30L541.59 659.30L541.70 660.30L541.80 661.30L541.92 662.30L542.03 663.30L542.16 664.30L542.30 665.30L542.44 666.30L542.59 667.30L542.75 668.30L542.92 669.30L543.12 670.30L543.32 671.30L543.54 672.30L543.77 673.30L544.00 674.30L544.23 675.30L544.47 676.30L544.71 677.30L544.96 678.30L545.22 679.30L545.48 680.30L545.73 681.30L545.98 682.30L546.23 683.30L546.47 684.30L546.72 685.30L546.97 686.30L547.20 687.30L547.42 688.30L547.59 689.30L547.73 690.30L547.87 691.30L548.00 692.30L548.09 693.30L548.14 694.30L548.14 695.30L548.09 696.30L548.01 697.30L547.91 698.30L547.79 699.30L547.67 700.30L547.52 701.30L547.33 702.30L547.12 703.30L546.90 704.30L546.69 705.30L546.49 706.30L546.30 707.30L546.10 708.30L545.90 709.30L545.70 710.30L545.50 711.30L545.30 712.30L545.10 713.30L544.89 714.30L544.68 715.30L544.47 716.30L544.27 717.30L544.09 718.30L543.91 719.30L543.74 720.30L543.57 721.30L543.42 722.30L543.26 723.30L543.12 724.30L543.05 724.80L536.05 724.80L535.98 724.30L535.84 723.30L535.68 722.30L535.53 721.30L535.36 720.30L535.19 719.30L535.01 718.30L534.83 717.30L534.63 716.30L534.42 715.30L534.21 714.30L534.00 713.30L533.80 712.30L533.60 711.30L533.40 710.30L533.20 709.30L533.00 708.30L532.80 707.30L532.61 706.30L532.41 705.30L532.20 704.30L531.98 703.30L531.77 702.30L531.58 701.30L531.43 700.30L531.31 699.30L531.19 698.30L531.09 697.30L531.01 696.30L530.96 695.30L530.96 694.30L531.01 693.30L531.10 692.30L531.23 691.30L531.37 690.30L531.51 689.30L531.68 688.30L531.90 687.30L532.13 686.30L532.38 685.30L532.63 684.30L532.87 683.30L533.12 682.30L533.37 681.30L533.62 680.30L533.88 679.30L534.14 678.30L534.39 677.30L534.63 676.30L534.87 675.30L535.10 674.30L535.33 673.30L535.56 672.30L535.78 671.30L535.98 670.30L536.18 669.30L536.35 668.30L536.51 667.30L536.66 666.30L536.80 665.30L536.94 664.30L537.07 663.30L537.18 662.30L537.30 661.30L537.40 660.30L537.51 659.30L537.62 658.30L537.72 657.30L537.80 656.30L537.87 655.30L537.91 654.30L537.94 653.30L537.96 652.30L537.99 651.30L538.01 650.30L538.03 649.30L538.04 648.30L538.05 647.30L538.05 646.30Z" fill="#F564E3" stroke="#333333" stroke-width="1.1" stroke-linejoin="round"/>
<path d="M75.10 915.50L75.11 916.50L75.13 917.50L75.17 918.50L75.22 919.50L75.28 920.50L75.35 921.50L75.43 922.50L75.52 923.50L75.61 924.50L75.70 925.50L75.80 926.50L75.93 927.50L76.09 928.50L76.28 929.50L76.48 930.50L76.70 931.50L76.93 932.50L77.17 933.50L77.41 934.50L77.64 935.50L77.86 936.50L78.09 937.50L78.34 938.50L78.58 939.50L78.84 940.50L79.09 941.50L79.35 942.50L79.61 943.50L79.87 944.50L80.12 945.50L80.38 946.50L80.63 947.50L80.89 948.50L81.14 949.50L81.40 950.50L81.65 951.50L81.91 952.50L82.16 953.50L82.40 954.50L82.63 955.50L82.87 956.50L83.10 957.50L83.34 958.50L83.57 959.50L83.80 960.50L84.03 961.50L84.24 962.50L84.44 963.50L84.62 964.50L84.78 965.50L84.92 966.50L85.06 967.50L85.20 968.50L85.33 969.50L85.46 970.50L85.58 971.50L85.68 972.50L85.76 973.50L85.82 974.50L85.85 975.50L85.85 976.50L85.85 977.50L85.85 978.50L85.85 979.50L85.85 980.50L85.85 981.50L85.85 982.50L85.85 983.50L85.83 984.50L85.79 985.50L85.71 986.50L85.62 987.50L85.51 988.50L85.38 989.50L85.25 990.50L85.11 991.50L84.98 992.50L84.85 993.50L84.72 994.50L84.58 995.50L84.42 996.50L84.26 997.50L84.09 998.50L83.91 999.50L83.73 1000.50L83.55 1001.50L83.37 1002.50L83.19 1003.50L83.01 1004.50L82.83 1005.50L82.67 1006.50L82.50 1007.50L82.33 1008.50L82.17 1009.50L82.00 1010.50L81.83 1011.50L81.67 1012.50L81.50 1013.50L81.33 1014.50L81.17 1015.50L81.00 1016.50L80.83 1017.50L80.67 1018.50L80.50 1019.50L80.33 1020.50L80.17 1021.50L80.00 1022.50L79.83 1023.50L79.66 1024.50L79.49 1025.50L79.32 1026.50L79.16 1027.50L78.99 1028.50L78.82 1029.50L78.65 1030.50L78.48 1031.50L78.32 1032.50L78.15 1033.50L77.99 1034.50L77.83 1035.50L77.67 1036.50L77.51 1037.50L77.35 1038.50L77.19 1039.50L77.03 1040.50L76.87 1041.50L76.71 1042.50L76.55 1043.50L76.40 1044.50L76.24 1045.50L76.09 1046.50L75.94 1047.50L75.80 1048.50L75.66 1049.50L75.52 1050.50L75.38 1051.50L75.25 1052.50L75.11 1053.50L74.98 1054.50L74.85 1055.50L74.72 1056.50L74.59 1057.50L74.47 1058.50L74.35 1059.50L74.24 1060.50L74.14 1061.50L74.04 1062.50L73.95 1063.50L73.87 1064.50L73.79 1065.50L73.71 1066.50L73.64 1067.50L73.57 1068.50L73.50 1069.50L73.44 1070.50L73.38 1071.50L73.33 1072.50L73.28 1073.50L73.25 1074.25L72.25 1074.25L72.22 1073.50L72.17 1072.50L72.12 1071.50L72.06 1070.50L72.00 1069.50L71.93 1068.50L71.86 1067.50L71.79 1066.50L71.71 1065.50L71.63 1064.50L71.55 1063.50L71.46 1062.50L71.36 1061.50L71.26 1060.50L71.15 1059.50L71.03 1058.50L70.91 1057.50L70.78 1056.50L70.65 1055.50L70.52 1054.50L70.39 1053.50L70.25 1052.50L70.12 1051.50L69.98 1050.50L69.84 1049.50L69.70 1048.50L69.56 1047.50L69.41 1046.50L69.26 1045.50L69.10 1044.50L68.95 1043.50L68.79 1042.50L68.63 1041.50L68.47 1040.50L68.31 1039.50L68.15 1038.50L67.99 1037.50L67.83 1036.50L67.67 1035.50L67.51 1034.50L67.35 1033.50L67.18 1032.50L67.02 1031.50L66.85 1030.50L66.68 1029.50L66.51 1028.50L66.34 1027.50L66.18 1026.50L66.01 1025.50L65.84 1024.50L65.67 1023.50L65.50 1022.50L65.33 1021.50L65.17 1020.50L65.00 1019.50L64.83 1018.50L64.67 1017.50L64.50 1016.50L64.33 1015.50L64.17 1014.50L64.00 1013.50L63.83 1012.50L63.67 1011.50L63.50 1010.50L63.33 1009.50L63.17 1008.50L63.00 1007.50L62.83 1006.50L62.67 1005.50L62.49 1004.50L62.31 1003.50L62.13 1002.50L61.95 1001.50L61.77 1000.50L61.59 999.50L61.41 998.50L61.24 997.50L61.08 996.50L60.92 995.50L60.78 994.50L60.65 993.50L60.52 992.50L60.39 991.50L60.25 990.50L60.12 989.50L59.99 988.50L59.88 987.50L59.79 986.50L59.71 985.50L59.67 984.50L59.65 983.50L59.65 982.50L59.65 981.50L59.65 980.50L59.65 979.50L59.65 978.50L59.65 977.50L59.65 976.50L59.65 975.50L59.68 974.50L59.74 973.50L59.82 972.50L59.92 971.50L60.04 970.50L60.17 969.50L60.30 968.50L60.44 967.50L60.58 966.50L60.72 965.50L60.88 964.50L61.06 963.50L61.26 962.50L61.47 961.50L61.70 960.50L61.93 959.50L62.16 958.50L62.40 957.50L62.63 956.50L62.87 955.50L63.10 954.50L63.34 953.50L63.59 952.50L63.85 951.50L64.10 950.50L64.36 949.50L64.61 948.50L64.87 947.50L65.12 946.50L65.38 945.50L65.63 944.50L65.89 943.50L66.15 942.50L66.41 941.50L66.66 940.50L66.92 939.50L67.16 938.50L67.41 937.50L67.64 936.50L67.86 935.50L68.09 934.50L68.33 933.50L68.57 932.50L68.80 931.50L69.02 930.50L69.22 929.50L69.41 928.50L69.57 927.50L69.70 926.50L69.80 925.50L69.89 924.50L69.98 923.50L70.07 922.50L70.15 921.50L70.22 920.50L70.28 919.50L70.33 918.50L70.37 917.50L70.39 916.50L70.40 915.50Z" fill="#F8766D" stroke="#333333" stroke-width="1.1" stroke-linejoin="round"/>
<path d="M104.45 896.00L104.45 897.00L104.45 898.00L104.45 899.00L104.45 900.00L104.45 901.00L104.45 902.00L104.45 903.00L104.45 904.00L104.45 905.00L104.45 906.00L104.45 907.00L104.45 908.00L104.45 909.00L104.45 910.00L104.45 911.00L104.45 912.00L104.45 913.00L104.45 914.00L104.45 915.00L104.45 916.00L104.48 917.00L104.52 918.00L104.58 919.00L104.64 920.00L104.70 921.00L104.78 922.00L104.85 923.00L104.93 924.00L105.02 925.00L105.10 926.00L105.19 927.00L105.29 928.00L105.40 929.00L105.51 930.00L105.63 931.00L105.76 932.00L105.88 933.00L106.01 934.00L106.13 935.00L106.25 936.00L106.37 937.00L106.48 938.00L106.59 939.00L106.70 940.00L106.81 941.00L106.92 942.00L107.04 943.00L107.17 944.00L107.31 945.00L107.45 946.00L107.61 947.00L107.77 948.00L107.95 949.00L108.14 950.00L108.34 951.00L108.54 952.00L108.76 953.00L108.98 954.00L109.21 955.00L109.45 956.00L109.70 957.00L109.98 958.00L110.27 959.00L110.57 960.00L110.89 961.00L111.21 962.00L111.53 963.00L111.84 964.00L112.15 965.00L112.45 966.00L112.75 967.00L113.05 968.00L113.36 969.00L113.67 970.00L113.97 971.00L114.26 972.00L114.54 973.00L114.80 974.00L115.04 975.00L115.25 976.00L115.44 977.00L115.62 978.00L115.79 979.00L115.96 980.00L116.11 981.00L116.25 982.00L116.39 983.00L116.52 984.00L116.64 985.00L116.75 986.00L116.86 987.00L116.95 988.00L117.05 989.00L117.13 990.00L117.22 991.00L117.30 992.00L117.38 993.00L117.45 994.00L117.53 995.00L117.60 996.00L117.68 997.00L117.76 998.00L117.85 999.00L117.93 1000.00L118.02 1001.00L118.09 1002.00L118.16 1003.00L118.21 1004.00L118.24 1005.00L118.25 1006.00L118.25 1007.00L118.25 1008.00L118.25 1009.00L118.25 1010.00L118.25 1011.00L118.25 1012.00L118.25 1013.00L118.24 1014.00L118.20 1015.00L118.13 1016.00L118.02 1017.00L117.89 1018.00L117.74 1019.00L117.57 1020.00L117.39 1021.00L117.21 1022.00L117.04 1023.00L116.86 1024.00L116.67 1025.00L116.45 1026.00L116.22 1027.00L115.97 1028.00L115.70 1029.00L115.43 1030.00L115.16 1031.00L114.87 1032.00L114.59 1033.00L114.31 1034.00L114.01 1035.00L113.70 1036.00L113.38 1037.00L113.05 1038.00L112.72 1039.00L112.39 1040.00L112.05 1041.00L111.73 1042.00L111.41 1043.00L111.09 1044.00L110.78 1045.00L110.46 1046.00L110.14 1047.00L109.82 1048.00L109.51 1049.00L109.20 1050.00L108.91 1051.00L108.63 1052.00L108.37 1053.00L108.13 1054.00L107.90 1055.00L107.67 1056.00L107.45 1057.00L107.24 1058.00L107.03 1059.00L106.84 1060.00L106.66 1061.00L106.48 1062.00L106.32 1063.00L106.18 1064.00L106.03 1065.00L105.90 1066.00L105.76 1067.00L105.64 1068.00L105.52 1069.00L105.41 1070.00L105.30 1071.00L105.21 1072.00L105.13 1073.00L105.07 1074.00L105.00 1075.00L104.94 1076.00L104.87 1077.00L104.81 1078.00L104.75 1079.00L104.70 1080.00L104.65 1081.00L104.60 1082.00L104.56 1083.00L104.53 1084.00L104.50 1085.00L104.47 1086.00L104.46 1087.00L104.45 1088.00L104.05 1088.00L104.04 1087.00L104.03 1086.00L104.00 1085.00L103.97 1084.00L103.94 1083.00L103.90 1082.00L103.85 1081.00L103.80 1080.00L103.75 1079.00L103.69 1078.00L103.63 1077.00L103.56 1076.00L103.50 1075.00L103.43 1074.00L103.37 1073.00L103.29 1072.00L103.20 1071.00L103.09 1070.00L102.98 1069.00L102.86 1068.00L102.74 1067.00L102.60 1066.00L102.47 1065.00L102.32 1064.00L102.18 1063.00L102.02 1062.00L101.84 1061.00L101.66 1060.00L101.47 1059.00L101.26 1058.00L101.05 1057.00L100.83 1056.00L100.60 1055.00L100.37 1054.00L100.13 1053.00L99.87 1052.00L99.59 1051.00L99.30 1050.00L98.99 1049.00L98.68 1048.00L98.36 1047.00L98.04 1046.00L97.72 1045.00L97.41 1044.00L97.09 1043.00L96.77 1042.00L96.45 1041.00L96.11 1040.00L95.78 1039.00L95.45 1038.00L95.12 1037.00L94.80 1036.00L94.49 1035.00L94.19 1034.00L93.91 1033.00L93.63 1032.00L93.34 1031.00L93.07 1030.00L92.80 1029.00L92.53 1028.00L92.28 1027.00L92.05 1026.00L91.83 1025.00L91.64 1024.00L91.46 1023.00L91.29 1022.00L91.11 1021.00L90.93 1020.00L90.76 1019.00L90.61 1018.00L90.48 1017.00L90.37 1016.00L90.30 1015.00L90.26 1014.00L90.25 1013.00L90.25 1012.00L90.25 1011.00L90.25 1010.00L90.25 1009.00L90.25 1008.00L90.25 1007.00L90.25 1006.00L90.26 1005.00L90.29 1004.00L90.34 1003.00L90.41 1002.00L90.48 1001.00L90.57 1000.00L90.65 999.00L90.74 998.00L90.82 997.00L90.90 996.00L90.97 995.00L91.05 994.00L91.12 993.00L91.20 992.00L91.28 991.00L91.37 990.00L91.45 989.00L91.55 988.00L91.64 987.00L91.75 986.00L91.86 985.00L91.98 984.00L92.11 983.00L92.25 982.00L92.39 981.00L92.54 980.00L92.71 979.00L92.88 978.00L93.06 977.00L93.25 976.00L93.46 975.00L93.70 974.00L93.96 973.00L94.24 972.00L94.53 971.00L94.83 970.00L95.14 969.00L95.45 968.00L95.75 967.00L96.05 966.00L96.35 965.00L96.66 964.00L96.97 963.00L97.29 962.00L97.61 961.00L97.93 960.00L98.23 959.00L98.52 958.00L98.80 957.00L99.05 956.00L99.29 955.00L99.52 954.00L99.74 953.00L99.96 952.00L100.16 951.00L100.36 950.00L100.55 949.00L100.73 948.00L100.89 947.00L101.05 946.00L101.19 945.00L101.33 944.00L101.46 943.00L101.58 942.00L101.69 941.00L101.80 940.00L101.91 939.00L102.02 938.00L102.13 937.00L102.25 936.00L102.37 935.00L102.49 934.00L102.62 933.00L102.74 932.00L102.87 931.00L102.99 930.00L103.10 929.00L103.21 928.00L103.31 927.00L103.40 926.00L103.48 925.00L103.57 924.00L103.65 923.00L103.72 922.00L103.80 921.00L103.86 920.00L103.92 919.00L103.98 918.00L104.02 917.00L104.05 916.00L104.05 915.00L104.05 914.00L104.05 913.00L104.05 912.00L104.05 911.00L104.05 910.00L104.05 909.00L104.05 908.00L104.05 907.00L104.05 906.00L104.05 905.00L104.05 904.00L104.05 903.00L104.05 902.00L104.05 901.00L104.05 900.00L104.05 899.00L104.05 898.00L104.05 897.00L104.05 896.00Z" fill="#A3A500" stroke="#333333" stroke-width="1.1" stroke-linejoin="round"/>
<path d="M135.95 864.75L135.95 865.75L135.95 866.75L135.95 867.75L135.95 868.75L136.02 869.75L136.10 870.75L136.18 871.75L136.27 872.75L136.35 873.75L136.44 874.75L136.53 875.75L136.62 876.75L136.71 877.75L136.81 878.75L136.92 879.75L137.02 880.75L137.13 881.75L137.24 882.75L137.34 883.75L137.45 884.75L137.56 885.75L137.67 886.75L137.77 887.75L137.88 888.75L137.98 889.75L138.07 890.75L138.17 891.75L138.27 892.75L138.37 893.75L138.46 894.75L138.56 895.75L138.66 896.75L138.76 897.75L138.86 898.75L138.97 899.75L139.07 900.75L139.18 901.75L139.29 902.75L139.41 903.75L139.52 904.75L139.64 905.75L139.76 906.75L139.88 907.75L140.00 908.75L140.12 909.75L140.25 910.75L140.38 911.75L140.50 912.75L140.63 913.75L140.76 914.75L140.90 915.75L141.04 916.75L141.18 917.75L141.32 918.75L141.46 919.75L141.60 920.75L141.74 921.75L141.89 922.75L142.03 923.75L142.17 924.75L142.31 925.75L142.46 926.75L142.60 927.75L142.74 928.75L142.88 929.75L143.03 930.75L143.17 931.75L143.31 932.75L143.45 933.75L143.59 934.75L143.73 935.75L143.87 936.75L144.00 937.75L144.13 938.75L144.26 939.75L144.39 940.75L144.52 941.75L144.65 942.75L144.78 943.75L144.90 944.75L145.02 945.75L145.14 946.75L145.26 947.75L145.37 948.75L145.48 949.75L145.58 950.75L145.67 951.75L145.77 952.75L145.87 953.75L145.97 954.75L146.06 955.75L146.16 956.75L146.24 957.75L146.33 958.75L146.40 959.75L146.47 960.75L146.53 961.75L146.57 962.75L146.61 963.75L146.64 964.75L146.67 965.75L146.70 966.75L146.73 967.75L146.75 968.75L146.78 969.75L146.80 970.75L146.81 971.75L146.83 972.75L146.84 973.75L146.85 974.75L146.85 975.75L146.85 976.75L146.84 977.75L146.83 978.75L146.81 979.75L146.78 980.75L146.76 981.75L146.72 982.75L146.69 983.75L146.65 984.75L146.61 985.75L146.56 986.75L146.49 987.75L146.39 988.75L146.27 989.75L146.14 990.75L145.99 991.75L145.83 992.75L145.67 993.75L145.49 994.75L145.32 995.75L145.14 996.75L144.97 997.75L144.81 998.75L144.64 999.75L144.45 1000.75L144.26 1001.75L144.06 1002.75L143.86 1003.75L143.65 1004.75L143.44 1005.75L143.24 1006.75L143.04 1007.75L142.85 1008.75L142.66 1009.75L142.49 1010.75L142.33 1011.75L142.17 1012.75L142.02 1013.75L141.86 1014.75L141.72 1015.75L141.57 1016.75L141.43 1017.75L141.29 1018.75L141.15 1019.75L141.02 1020.75L140.88 1021.75L140.75 1022.75L140.63 1023.75L140.50 1024.75L140.38 1025.75L140.26 1026.75L140.14 1027.75L140.03 1028.75L139.91 1029.75L139.80 1030.75L139.70 1031.75L139.59 1032.75L139.48 1033.75L139.38 1034.75L139.28 1035.75L139.18 1036.75L139.07 1037.75L138.97 1038.75L138.87 1039.75L138.77 1040.75L138.68 1041.75L138.57 1042.75L138.47 1043.75L138.37 1044.75L138.27 1045.75L138.18 1046.75L138.08 1047.75L137.98 1048.75L137.89 1049.75L137.79 1050.75L137.70 1051.75L137.61 1052.75L137.53 1053.75L137.45 1054.75L137.37 1055.75L137.29 1056.75L137.22 1057.75L137.15 1058.75L137.08 1059.75L137.01 1060.75L136.95 1061.75L136.89 1062.75L136.82 1063.75L136.76 1064.75L136.71 1065.75L136.65 1066.75L136.59 1067.75L136.54 1068.75L136.48 1069.75L136.42 1070.75L136.37 1071.75L136.31 1072.75L136.25 1073.75L136.20 1074.75L136.15 1075.75L136.10 1076.75L136.06 1077.75L136.02 1078.75L135.98 1079.75L135.96 1080.75L135.95 1081.75L135.95 1082.75L135.95 1083.75L135.95 1084.75L135.95 1085.75L135.95 1086.75L135.95 1087.75L135.95 1088.75L135.95 1089.75L135.95 1090.75L135.95 1091.75L135.95 1092.75L135.95 1093.75L135.95 1094.75L135.95 1095.75L135.95 1096.75L135.95 1097.75L135.95 1098.75L135.95 1099.75L135.95 1100.75L135.95 1101.75L135.55 1101.75L135.55 1100.75L135.55 1099.75L135.55 1098.75L135.55 1097.75L135.55 1096.75L135.55 1095.75L135.55 1094.75L135.55 1093.75L135.55 1092.75L135.55 1091.75L135.55 1090.75L135.55 1089.75L135.55 1088.75L135.55 1087.75L135.55 1086.75L135.55 1085.75L135.55 1084.75L135.55 1083.75L135.55 1082.75L135.55 1081.75L135.54 1080.75L135.52 1079.75L135.48 1078.75L135.44 1077.75L135.40 1076.75L135.35 1075.75L135.30 1074.75L135.25 1073.75L135.19 1072.75L135.13 1071.75L135.08 1070.75L135.02 1069.75L134.96 1068.75L134.91 1067.75L134.85 1066.75L134.79 1065.75L134.74 1064.75L134.68 1063.75L134.61 1062.75L134.55 1061.75L134.49 1060.75L134.42 1059.75L134.35 1058.75L134.28 1057.75L134.21 1056.75L134.13 1055.75L134.05 1054.75L133.97 1053.75L133.89 1052.75L133.80 1051.75L133.71 1050.75L133.61 1049.75L133.52 1048.75L133.42 1047.75L133.32 1046.75L133.23 1045.75L133.13 1044.75L133.03 1043.75L132.93 1042.75L132.82 1041.75L132.73 1040.75L132.63 1039.75L132.53 1038.75L132.43 1037.75L132.32 1036.75L132.22 1035.75L132.12 1034.75L132.02 1033.75L131.91 1032.75L131.80 1031.75L131.70 1030.75L131.59 1029.75L131.47 1028.75L131.36 1027.75L131.24 1026.75L131.12 1025.75L131.00 1024.75L130.87 1023.75L130.75 1022.75L130.62 1021.75L130.48 1020.75L130.35 1019.75L130.21 1018.75L130.07 1017.75L129.93 1016.75L129.78 1015.75L129.64 1014.75L129.48 1013.75L129.33 1012.75L129.17 1011.75L129.01 1010.75L128.84 1009.75L128.65 1008.75L128.46 1007.75L128.26 1006.75L128.06 1005.75L127.85 1004.75L127.64 1003.75L127.44 1002.75L127.24 1001.75L127.05 1000.75L126.86 999.75L126.69 998.75L126.53 997.75L126.36 996.75L126.18 995.75L126.01 994.75L125.83 993.75L125.67 992.75L125.51 991.75L125.36 990.75L125.23 989.75L125.11 988.75L125.01 987.75L124.94 986.75L124.89 985.75L124.85 984.75L124.81 983.75L124.78 982.75L124.74 981.75L124.72 980.75L124.69 979.75L124.67 978.75L124.66 977.75L124.65 976.75L124.65 975.75L124.65 974.75L124.66 973.75L124.67 972.75L124.69 971.75L124.70 970.75L124.72 969.75L124.75 968.75L124.77 967.75L124.80 966.75L124.83 965.75L124.86 964.75L124.89 963.75L124.93 962.75L124.97 961.75L125.03 960.75L125.10 959.75L125.17 958.75L125.26 957.75L125.34 956.75L125.44 955.75L125.53 954.75L125.63 953.75L125.73 952.75L125.83 951.75L125.92 950.75L126.02 949.75L126.13 948.75L126.24 947.75L126.36 946.75L126.48 945.75L126.60 944.75L126.72 943.75L126.85 942.75L126.98 941.75L127.11 940.75L127.24 939.75L127.37 938.75L127.50 937.75L127.63 936.75L127.77 935.75L127.91 934.75L128.05 933.75L128.19 932.75L128.33 931.75L128.47 930.75L128.62 929.75L128.76 928.75L128.90 927.75L129.04 926.75L129.19 925.75L129.33 924.75L129.47 923.75L129.61 922.75L129.76 921.75L129.90 920.75L130.04 919.75L130.18 918.75L130.32 917.75L130.46 916.75L130.60 915.75L130.74 914.75L130.87 913.75L131.00 912.75L131.12 911.75L131.25 910.75L131.38 909.75L131.50 908.75L131.62 907.75L131.74 906.75L131.86 905.75L131.98 904.75L132.09 903.75L132.21 902.75L132.32 901.75L132.43 900.75L132.53 899.75L132.64 898.75L132.74 897.75L132.84 896.75L132.94 895.75L133.04 894.75L133.13 893.75L133.23 892.75L133.33 891.75L133.43 890.75L133.52 889.75L133.62 888.75L133.73 887.75L133.83 886.75L133.94 885.75L134.05 884.75L134.16 883.75L134.26 882.75L134.37 881.75L134.48 880.75L134.58 879.75L134.69 878.75L134.79 877.75L134.88 876.75L134.97 875.75L135.06 874.75L135.15 873.75L135.23 872.75L135.32 871.75L135.40 870.75L135.48 869.75L135.55 868.75L135.55 867.75L135.55 866.75L135.55 865.75L135.55 864.75Z" fill="#00BF7D" stroke="#333333" stroke-width="1.1" stroke-linejoin="round"/>
<path d="M170.95 921.75L171.08 922.75L171.20 923.75L171.33 924.75L171.46 925.75L171.58 926.75L171.71 927.75L171.84 928.75L171.97 929.75L172.09 930.75L172.22 931.75L172.35 932.75L172.48 933.75L172.61 934.75L172.74 935.75L172.87 936.75L173.00 937.75L173.13 938.75L173.27 939.75L173.40 940.75L173.53 941.75L173.66 942.75L173.80 943.75L173.93 944.75L174.07 945.75L174.20 946.75L174.34 947.75L174.49 948.75L174.64 949.75L174.78 950.75L174.93 951.75L175.08 952.75L175.22 953.75L175.36 954.75L175.50 955.75L175.63 956.75L175.76 957.75L175.88 958.75L176.00 959.75L176.11 960.75L176.22 961.75L176.34 962.75L176.44 963.75L176.55 964.75L176.65 965.75L176.75 966.75L176.84 967.75L176.93 968.75L177.01 969.75L177.08 970.75L177.15 971.75L177.22 972.75L177.30 973.75L177.37 974.75L177.44 975.75L177.50 976.75L177.56 977.75L177.62 978.75L177.66 979.75L177.70 980.75L177.73 981.75L177.75 982.75L177.75 983.75L177.75 984.75L177.75 985.75L177.75 986.75L177.75 987.75L177.75 988.75L177.75 989.75L177.75 990.75L177.75 991.75L177.75 992.75L177.75 993.75L177.74 994.75L177.71 995.75L177.66 996.75L177.61 997.75L177.54 998.75L177.47 999.75L177.39 1000.75L177.31 1001.75L177.22 1002.75L177.13 1003.75L177.05 1004.75L176.97 1005.75L176.89 1006.75L176.81 1007.75L176.72 1008.75L176.63 1009.75L176.54 1010.75L176.45 1011.75L176.35 1012.75L176.25 1013.75L176.14 1014.75L176.04 1015.75L175.94 1016.75L175.83 1017.75L175.72 1018.75L175.61 1019.75L175.50 1020.75L175.38 1021.75L175.26 1022.75L175.14 1023.75L175.01 1024.75L174.89 1025.75L174.77 1026.75L174.64 1027.75L174.52 1028.75L174.40 1029.75L174.28 1030.75L174.16 1031.75L174.05 1032.75L173.93 1033.75L173.82 1034.75L173.70 1035.75L173.59 1036.75L173.48 1037.75L173.37 1038.75L173.25 1039.75L173.15 1040.75L173.04 1041.75L172.93 1042.75L172.82 1043.75L172.72 1044.75L172.63 1045.75L172.53 1046.75L172.44 1047.75L172.35 1048.75L172.26 1049.75L172.16 1050.75L172.05 1051.75L171.94 1052.75L171.82 1053.75L171.68 1054.75L171.54 1055.75L171.38 1056.75L171.21 1057.75L171.04 1058.75L170.95 1059.25L163.55 1059.25L163.46 1058.75L163.29 1057.75L163.12 1056.75L162.96 1055.75L162.82 1054.75L162.68 1053.75L162.56 1052.75L162.45 1051.75L162.34 1050.75L162.24 1049.75L162.15 1048.75L162.06 1047.75L161.97 1046.75L161.87 1045.75L161.78 1044.75L161.68 1043.75L161.57 1042.75L161.46 1041.75L161.35 1040.75L161.25 1039.75L161.13 1038.75L161.02 1037.75L160.91 1036.75L160.80 1035.75L160.68 1034.75L160.57 1033.75L160.45 1032.75L160.34 1031.75L160.22 1030.75L160.10 1029.75L159.98 1028.75L159.86 1027.75L159.73 1026.75L159.61 1025.75L159.49 1024.75L159.36 1023.75L159.24 1022.75L159.12 1021.75L159.00 1020.75L158.89 1019.75L158.78 1018.75L158.67 1017.75L158.56 1016.75L158.46 1015.75L158.36 1014.75L158.25 1013.75L158.15 1012.75L158.05 1011.75L157.96 1010.75L157.87 1009.75L157.78 1008.75L157.69 1007.75L157.61 1006.75L157.53 1005.75L157.45 1004.75L157.37 1003.75L157.28 1002.75L157.19 1001.75L157.11 1000.75L157.03 999.75L156.96 998.75L156.89 997.75L156.84 996.75L156.79 995.75L156.76 994.75L156.75 993.75L156.75 992.75L156.75 991.75L156.75 990.75L156.75 989.75L156.75 988.75L156.75 987.75L156.75 986.75L156.75 985.75L156.75 984.75L156.75 983.75L156.75 982.75L156.77 981.75L156.80 980.75L156.84 979.75L156.88 978.75L156.94 977.75L157.00 976.75L157.06 975.75L157.13 974.75L157.20 973.75L157.28 972.75L157.35 971.75L157.42 970.75L157.49 969.75L157.57 968.75L157.66 967.75L157.75 966.75L157.85 965.75L157.95 964.75L158.06 963.75L158.16 962.75L158.28 961.75L158.39 960.75L158.50 959.75L158.62 958.75L158.74 957.75L158.87 956.75L159.00 955.75L159.14 954.75L159.28 953.75L159.42 952.75L159.57 951.75L159.72 950.75L159.86 949.75L160.01 948.75L160.16 947.75L160.30 946.75L160.43 945.75L160.57 944.75L160.70 943.75L160.84 942.75L160.97 941.75L161.10 940.75L161.23 939.75L161.37 938.75L161.50 937.75L161.63 936.75L161.76 935.75L161.89 934.75L162.02 933.75L162.15 932.75L162.28 931.75L162.41 930.75L162.53 929.75L162.66 928.75L162.79 927.75L162.92 926.75L163.04 925.75L163.17 924.75L163.30 923.75L163.42 922.75L163.55 921.75Z" fill="#00B0F6" stroke="#333333" stroke-width="1.1" stroke-linejoin="round"/>
<path d="M202.10 908.00L202.16 909.00L202.23 910.00L202.30 911.00L202.36 912.00L202.43 913.00L202.50 914.00L202.57 915.00L202.64 916.00L202.71 917.00L202.78 918.00L202.85 919.00L202.93 920.00L203.00 921.00L203.07 922.00L203.15 923.00L203.23 924.00L203.31 925.00L203.39 926.00L203.46 927.00L203.55 928.00L203.63 929.00L203.71 930.00L203.79 931.00L203.87 932.00L203.96 933.00L204.04 934.00L204.13 935.00L204.21 936.00L204.30 937.00L204.38 938.00L204.47 939.00L204.56 940.00L204.64 941.00L204.73 942.00L204.82 943.00L204.91 944.00L205.01 945.00L205.10 946.00L205.19 947.00L205.29 948.00L205.39 949.00L205.49 950.00L205.59 951.00L205.69 952.00L205.79 953.00L205.89 954.00L206.00 955.00L206.10 956.00L206.20 957.00L206.30 958.00L206.40 959.00L206.50 960.00L206.60 961.00L206.71 962.00L206.81 963.00L206.92 964.00L207.02 965.00L207.12 966.00L207.22 967.00L207.32 968.00L207.42 969.00L207.51 970.00L207.60 971.00L207.69 972.00L207.78 973.00L207.88 974.00L207.97 975.00L208.07 976.00L208.16 977.00L208.25 978.00L208.33 979.00L208.40 980.00L208.47 981.00L208.53 982.00L208.58 983.00L208.62 984.00L208.66 985.00L208.69 986.00L208.73 987.00L208.76 988.00L208.79 989.00L208.81 990.00L208.83 991.00L208.84 992.00L208.85 993.00L208.85 994.00L208.84 995.00L208.83 996.00L208.81 997.00L208.79 998.00L208.76 999.00L208.73 1000.00L208.69 1001.00L208.66 1002.00L208.62 1003.00L208.58 1004.00L208.53 1005.00L208.47 1006.00L208.41 1007.00L208.34 1008.00L208.26 1009.00L208.17 1010.00L208.08 1011.00L207.99 1012.00L207.89 1013.00L207.79 1014.00L207.70 1015.00L207.60 1016.00L207.50 1017.00L207.39 1018.00L207.28 1019.00L207.16 1020.00L207.04 1021.00L206.92 1022.00L206.79 1023.00L206.66 1024.00L206.54 1025.00L206.41 1026.00L206.28 1027.00L206.16 1028.00L206.04 1029.00L205.92 1030.00L205.80 1031.00L205.68 1032.00L205.56 1033.00L205.44 1034.00L205.32 1035.00L205.20 1036.00L205.08 1037.00L204.96 1038.00L204.84 1039.00L204.72 1040.00L204.60 1041.00L204.48 1042.00L204.36 1043.00L204.24 1044.00L204.12 1045.00L204.00 1046.00L203.88 1047.00L203.76 1048.00L203.64 1049.00L203.52 1050.00L203.40 1051.00L203.28 1052.00L203.16 1053.00L203.04 1054.00L202.92 1055.00L202.79 1056.00L202.67 1057.00L202.55 1058.00L202.42 1059.00L202.30 1060.00L202.17 1061.00L202.05 1062.00L201.92 1063.00L201.79 1064.00L201.70 1064.75L196.30 1064.75L196.21 1064.00L196.08 1063.00L195.95 1062.00L195.83 1061.00L195.70 1060.00L195.58 1059.00L195.45 1058.00L195.33 1057.00L195.21 1056.00L195.08 1055.00L194.96 1054.00L194.84 1053.00L194.72 1052.00L194.60 1051.00L194.48 1050.00L194.36 1049.00L194.24 1048.00L194.12 1047.00L194.00 1046.00L193.88 1045.00L193.76 1044.00L193.64 1043.00L193.52 1042.00L193.40 1041.00L193.28 1040.00L193.16 1039.00L193.04 1038.00L192.92 1037.00L192.80 1036.00L192.68 1035.00L192.56 1034.00L192.44 1033.00L192.32 1032.00L192.20 1031.00L192.08 1030.00L191.96 1029.00L191.84 1028.00L191.72 1027.00L191.59 1026.00L191.46 1025.00L191.34 1024.00L191.21 1023.00L191.08 1022.00L190.96 1021.00L190.84 1020.00L190.72 1019.00L190.61 1018.00L190.50 1017.00L190.40 1016.00L190.30 1015.00L190.21 1014.00L190.11 1013.00L190.01 1012.00L189.92 1011.00L189.83 1010.00L189.74 1009.00L189.66 1008.00L189.59 1007.00L189.53 1006.00L189.47 1005.00L189.42 1004.00L189.38 1003.00L189.34 1002.00L189.31 1001.00L189.27 1000.00L189.24 999.00L189.21 998.00L189.19 997.00L189.17 996.00L189.16 995.00L189.15 994.00L189.15 993.00L189.16 992.00L189.17 991.00L189.19 990.00L189.21 989.00L189.24 988.00L189.27 987.00L189.31 986.00L189.34 985.00L189.38 984.00L189.42 983.00L189.47 982.00L189.53 981.00L189.60 980.00L189.67 979.00L189.75 978.00L189.84 977.00L189.93 976.00L190.03 975.00L190.12 974.00L190.22 973.00L190.31 972.00L190.40 971.00L190.49 970.00L190.58 969.00L190.68 968.00L190.78 967.00L190.88 966.00L190.98 965.00L191.08 964.00L191.19 963.00L191.29 962.00L191.40 961.00L191.50 960.00L191.60 959.00L191.70 958.00L191.80 957.00L191.90 956.00L192.00 955.00L192.11 954.00L192.21 953.00L192.31 952.00L192.41 951.00L192.51 950.00L192.61 949.00L192.71 948.00L192.81 947.00L192.90 946.00L192.99 945.00L193.09 944.00L193.18 943.00L193.27 942.00L193.36 941.00L193.44 940.00L193.53 939.00L193.62 938.00L193.70 937.00L193.79 936.00L193.87 935.00L193.96 934.00L194.04 933.00L194.13 932.00L194.21 931.00L194.29 930.00L194.37 929.00L194.45 928.00L194.54 927.00L194.61 926.00L194.69 925.00L194.77 924.00L194.85 923.00L194.93 922.00L195.00 921.00L195.07 920.00L195.15 919.00L195.22 918.00L195.29 917.00L195.36 916.00L195.43 915.00L195.50 914.00L195.57 913.00L195.64 912.00L195.70 911.00L195.77 910.00L195.84 909.00L195.90 908.00Z" fill="#E76BF3" stroke="#333333" stroke-width="1.1" stroke-linejoin="round"/>
<path d="M241.95 953.50L241.95 954.50L241.97 955.50L242.03 956.50L242.09 957.50L242.15 958.50L242.21 959.50L242.27 960.50L242.33 961.50L242.39 962.50L242.45 963.50L242.51 964.50L242.58 965.50L242.65 966.50L242.71 967.50L242.78 968.50L242.85 969.50L242.92 970.50L242.99 971.50L243.05 972.50L243.11 973.50L243.17 974.50L243.22 975.50L243.27 976.50L243.32 977.50L243.36 978.50L243.40 979.50L243.43 980.50L243.47 981.50L243.50 982.50L243.54 983.50L243.57 984.50L243.61 985.50L243.65 986.50L243.70 987.50L243.75 988.50L243.81 989.50L243.87 990.50L243.93 991.50L244.00 992.50L244.07 993.50L244.15 994.50L244.23 995.50L244.32 996.50L244.41 997.50L244.50 998.50L244.60 999.50L244.70 1000.50L244.80 1001.50L244.92 1002.50L245.05 1003.50L245.19 1004.50L245.33 1005.50L245.49 1006.50L245.65 1007.50L245.81 1008.50L245.97 1009.50L246.13 1010.50L246.29 1011.50L246.45 1012.50L246.60 1013.50L246.75 1014.50L246.90 1015.50L247.05 1016.50L247.21 1017.50L247.36 1018.50L247.51 1019.50L247.66 1020.50L247.81 1021.50L247.96 1022.50L248.10 1023.50L248.25 1024.50L248.38 1025.50L248.52 1026.50L248.65 1027.50L248.78 1028.50L248.91 1029.50L249.04 1030.50L249.16 1031.50L249.29 1032.50L249.41 1033.50L249.53 1034.50L249.64 1035.50L249.75 1036.50L249.85 1037.50L249.95 1038.50L250.05 1039.50L250.14 1040.50L250.24 1041.50L250.33 1042.50L250.42 1043.50L250.51 1044.50L250.59 1045.50L250.67 1046.50L250.74 1047.50L250.81 1048.50L250.87 1049.50L250.93 1050.50L250.97 1051.50L251.02 1052.50L251.06 1053.50L251.11 1054.50L251.15 1055.50L251.19 1056.50L251.23 1057.50L251.26 1058.50L251.29 1059.50L251.32 1060.50L251.33 1061.50L251.35 1062.50L251.35 1063.50L251.35 1064.50L251.35 1065.50L251.35 1066.50L251.35 1067.50L251.35 1068.50L251.35 1069.50L251.35 1070.50L251.35 1071.50L251.35 1072.50L251.35 1073.50L251.35 1074.50L251.35 1075.50L251.35 1076.50L251.32 1077.50L251.27 1078.50L251.20 1079.50L251.11 1080.50L251.01 1081.50L250.90 1082.50L250.77 1083.50L250.65 1084.50L250.52 1085.50L250.38 1086.50L250.22 1087.50L250.04 1088.50L249.83 1089.50L249.59 1090.50L249.35 1091.50L249.08 1092.50L248.81 1093.50L248.52 1094.50L248.22 1095.50L247.89 1096.50L247.53 1097.50L247.15 1098.50L246.74 1099.50L246.31 1100.50L245.86 1101.50L245.75 1101.75L237.75 1101.75L237.64 1101.50L237.19 1100.50L236.76 1099.50L236.35 1098.50L235.97 1097.50L235.61 1096.50L235.28 1095.50L234.98 1094.50L234.69 1093.50L234.42 1092.50L234.15 1091.50L233.91 1090.50L233.67 1089.50L233.46 1088.50L233.28 1087.50L233.12 1086.50L232.98 1085.50L232.85 1084.50L232.73 1083.50L232.60 1082.50L232.49 1081.50L232.39 1080.50L232.30 1079.50L232.23 1078.50L232.18 1077.50L232.15 1076.50L232.15 1075.50L232.15 1074.50L232.15 1073.50L232.15 1072.50L232.15 1071.50L232.15 1070.50L232.15 1069.50L232.15 1068.50L232.15 1067.50L232.15 1066.50L232.15 1065.50L232.15 1064.50L232.15 1063.50L232.15 1062.50L232.17 1061.50L232.18 1060.50L232.21 1059.50L232.24 1058.50L232.27 1057.50L232.31 1056.50L232.35 1055.50L232.39 1054.50L232.44 1053.50L232.48 1052.50L232.53 1051.50L232.57 1050.50L232.63 1049.50L232.69 1048.50L232.76 1047.50L232.83 1046.50L232.91 1045.50L232.99 1044.50L233.08 1043.50L233.17 1042.50L233.26 1041.50L233.36 1040.50L233.45 1039.50L233.55 1038.50L233.65 1037.50L233.75 1036.50L233.86 1035.50L233.97 1034.50L234.09 1033.50L234.21 1032.50L234.34 1031.50L234.46 1030.50L234.59 1029.50L234.72 1028.50L234.85 1027.50L234.98 1026.50L235.12 1025.50L235.25 1024.50L235.40 1023.50L235.54 1022.50L235.69 1021.50L235.84 1020.50L235.99 1019.50L236.14 1018.50L236.29 1017.50L236.45 1016.50L236.60 1015.50L236.75 1014.50L236.90 1013.50L237.05 1012.50L237.21 1011.50L237.37 1010.50L237.53 1009.50L237.69 1008.50L237.85 1007.50L238.01 1006.50L238.17 1005.50L238.31 1004.50L238.45 1003.50L238.58 1002.50L238.70 1001.50L238.80 1000.50L238.90 999.50L239.00 998.50L239.09 997.50L239.18 996.50L239.27 995.50L239.35 994.50L239.43 993.50L239.50 992.50L239.57 991.50L239.63 990.50L239.69 989.50L239.75 988.50L239.80 987.50L239.85 986.50L239.89 985.50L239.93 984.50L239.96 983.50L240.00 982.50L240.03 981.50L240.07 980.50L240.10 979.50L240.14 978.50L240.18 977.50L240.23 976.50L240.28 975.50L240.33 974.50L240.39 973.50L240.45 972.50L240.51 971.50L240.58 970.50L240.65 969.50L240.72 968.50L240.79 967.50L240.85 966.50L240.92 965.50L240.99 964.50L241.05 963.50L241.11 962.50L241.17 961.50L241.23 960.50L241.29 959.50L241.35 958.50L241.41 957.50L241.47 956.50L241.53 955.50L241.55 954.50L241.55 953.50Z" fill="#F8766D" stroke="#333333" stroke-width="1.1" stroke-linejoin="round"/>
<path d="M273.45 968.50L273.45 969.50L273.45 970.50L273.45 971.50L273.52 972.50L273.58 973.50L273.64 974.50L273.69 975.50L273.74 976.50L273.80 977.50L273.84 978.50L273.89 979.50L273.93 980.50L273.97 981.50L274.01 982.50L274.04 983.50L274.07 984.50L274.10 985.50L274.13 986.50L274.16 987.50L274.19 988.50L274.21 989.50L274.24 990.50L274.26 991.50L274.28 992.50L274.30 993.50L274.32 994.50L274.33 995.50L274.35 996.50L274.37 997.50L274.39 998.50L274.41 999.50L274.44 1000.50L274.47 1001.50L274.50 1002.50L274.55 1003.50L274.59 1004.50L274.65 1005.50L274.71 1006.50L274.77 1007.50L274.84 1008.50L274.92 1009.50L275.00 1010.50L275.08 1011.50L275.16 1012.50L275.25 1013.50L275.35 1014.50L275.45 1015.50L275.57 1016.50L275.70 1017.50L275.84 1018.50L275.99 1019.50L276.15 1020.50L276.31 1021.50L276.48 1022.50L276.65 1023.50L276.83 1024.50L277.01 1025.50L277.19 1026.50L277.39 1027.50L277.61 1028.50L277.83 1029.50L278.07 1030.50L278.31 1031.50L278.56 1032.50L278.81 1033.50L279.07 1034.50L279.33 1035.50L279.59 1036.50L279.85 1037.50L280.10 1038.50L280.35 1039.50L280.61 1040.50L280.88 1041.50L281.15 1042.50L281.42 1043.50L281.69 1044.50L281.96 1045.50L282.22 1046.50L282.49 1047.50L282.74 1048.50L282.99 1049.50L283.23 1050.50L283.47 1051.50L283.70 1052.50L283.94 1053.50L284.17 1054.50L284.41 1055.50L284.64 1056.50L284.86 1057.50L285.07 1058.50L285.28 1059.50L285.47 1060.50L285.65 1061.50L285.81 1062.50L285.95 1063.50L286.09 1064.50L286.22 1065.50L286.36 1066.50L286.49 1067.50L286.62 1068.50L286.73 1069.50L286.82 1070.50L286.89 1071.50L286.93 1072.50L286.95 1073.50L286.94 1074.50L286.91 1075.50L286.85 1076.50L286.78 1077.50L286.70 1078.50L286.61 1079.50L286.50 1080.50L286.38 1081.50L286.19 1082.50L285.92 1083.50L285.60 1084.50L285.24 1085.50L284.86 1086.50L284.47 1087.50L284.10 1088.50L283.73 1089.50L283.33 1090.50L282.91 1091.50L282.48 1092.50L282.04 1093.50L281.60 1094.50L281.16 1095.50L280.74 1096.50L280.31 1097.50L279.88 1098.50L279.45 1099.50L279.02 1100.50L278.59 1101.50L278.17 1102.50L277.75 1103.50L277.33 1104.50L276.91 1105.50L276.49 1106.50L276.08 1107.50L275.70 1108.50L275.34 1109.50L275.00 1110.50L274.69 1111.50L274.38 1112.50L274.10 1113.50L273.84 1114.50L273.65 1115.25L272.85 1115.25L272.66 1114.50L272.40 1113.50L272.12 1112.50L271.81 1111.50L271.50 1110.50L271.16 1109.50L270.80 1108.50L270.42 1107.50L270.01 1106.50L269.59 1105.50L269.17 1104.50L268.75 1103.50L268.33 1102.50L267.91 1101.50L267.48 1100.50L267.05 1099.50L266.62 1098.50L266.19 1097.50L265.76 1096.50L265.34 1095.50L264.90 1094.50L264.46 1093.50L264.02 1092.50L263.59 1091.50L263.17 1090.50L262.77 1089.50L262.40 1088.50L262.03 1087.50L261.64 1086.50L261.26 1085.50L260.90 1084.50L260.58 1083.50L260.31 1082.50L260.12 1081.50L260.00 1080.50L259.89 1079.50L259.80 1078.50L259.72 1077.50L259.65 1076.50L259.59 1075.50L259.56 1074.50L259.55 1073.50L259.57 1072.50L259.61 1071.50L259.68 1070.50L259.77 1069.50L259.88 1068.50L260.01 1067.50L260.14 1066.50L260.28 1065.50L260.41 1064.50L260.55 1063.50L260.69 1062.50L260.85 1061.50L261.03 1060.50L261.22 1059.50L261.43 1058.50L261.64 1057.50L261.86 1056.50L262.09 1055.50L262.33 1054.50L262.56 1053.50L262.80 1052.50L263.03 1051.50L263.27 1050.50L263.51 1049.50L263.76 1048.50L264.01 1047.50L264.28 1046.50L264.54 1045.50L264.81 1044.50L265.08 1043.50L265.35 1042.50L265.62 1041.50L265.89 1040.50L266.15 1039.50L266.40 1038.50L266.65 1037.50L266.91 1036.50L267.17 1035.50L267.43 1034.50L267.69 1033.50L267.94 1032.50L268.19 1031.50L268.43 1030.50L268.67 1029.50L268.89 1028.50L269.11 1027.50L269.31 1026.50L269.49 1025.50L269.67 1024.50L269.85 1023.50L270.02 1022.50L270.19 1021.50L270.35 1020.50L270.51 1019.50L270.66 1018.50L270.80 1017.50L270.93 1016.50L271.05 1015.50L271.15 1014.50L271.25 1013.50L271.34 1012.50L271.42 1011.50L271.50 1010.50L271.58 1009.50L271.66 1008.50L271.73 1007.50L271.79 1006.50L271.85 1005.50L271.91 1004.50L271.95 1003.50L272.00 1002.50L272.03 1001.50L272.06 1000.50L272.09 999.50L272.11 998.50L272.13 997.50L272.15 996.50L272.17 995.50L272.18 994.50L272.20 993.50L272.22 992.50L272.24 991.50L272.26 990.50L272.29 989.50L272.31 988.50L272.34 987.50L272.37 986.50L272.40 985.50L272.43 984.50L272.46 983.50L272.49 982.50L272.53 981.50L272.57 980.50L272.61 979.50L272.66 978.50L272.70 977.50L272.76 976.50L272.81 975.50L272.86 974.50L272.92 973.50L272.98 972.50L273.05 971.50L273.05 970.50L273.05 969.50L273.05 968.50Z" fill="#A3A500" stroke="#333333" stroke-width="1.1" stroke-linejoin="round"/>
<path d="M304.95 946.75L304.95 947.75L304.95 948.75L304.95 949.75L304.95 950.75L304.96 951.75L305.00 952.75L305.05 953.75L305.09 954.75L305.13 955.75L305.17 956.75L305.21 957.75L305.25 958.75L305.30 959.75L305.34 960.75L305.38 961.75L305.42 962.75L305.46 963.75L305.50 964.75L305.54 965.75L305.57 966.75L305.61 967.75L305.64 968.75L305.68 969.75L305.72 970.75L305.76 971.75L305.80 972.75L305.84 973.75L305.89 974.75L305.94 975.75L305.99 976.75L306.05 977.75L306.11 978.75L306.18 979.75L306.25 980.75L306.33 981.75L306.41 982.75L306.49 983.75L306.58 984.75L306.67 985.75L306.77 986.75L306.87 987.75L306.98 988.75L307.10 989.75L307.23 990.75L307.38 991.75L307.53 992.75L307.70 993.75L307.87 994.75L308.04 995.75L308.22 996.75L308.40 997.75L308.57 998.75L308.74 999.75L308.91 1000.75L309.07 1001.75L309.23 1002.75L309.40 1003.75L309.57 1004.75L309.74 1005.75L309.90 1006.75L310.07 1007.75L310.23 1008.75L310.39 1009.75L310.55 1010.75L310.70 1011.75L310.85 1012.75L310.98 1013.75L311.12 1014.75L311.25 1015.75L311.39 1016.75L311.51 1017.75L311.64 1018.75L311.76 1019.75L311.88 1020.75L312.00 1021.75L312.11 1022.75L312.22 1023.75L312.33 1024.75L312.43 1025.75L312.52 1026.75L312.62 1027.75L312.71 1028.75L312.81 1029.75L312.90 1030.75L312.99 1031.75L313.07 1032.75L313.15 1033.75L313.23 1034.75L313.29 1035.75L313.36 1036.75L313.41 1037.75L313.46 1038.75L313.51 1039.75L313.55 1040.75L313.60 1041.75L313.64 1042.75L313.68 1043.75L313.72 1044.75L313.76 1045.75L313.79 1046.75L313.81 1047.75L313.83 1048.75L313.84 1049.75L313.85 1050.75L313.85 1051.75L313.84 1052.75L313.83 1053.75L313.82 1054.75L313.81 1055.75L313.79 1056.75L313.77 1057.75L313.74 1058.75L313.72 1059.75L313.69 1060.75L313.66 1061.75L313.62 1062.75L313.59 1063.75L313.55 1064.75L313.49 1065.75L313.41 1066.75L313.33 1067.75L313.23 1068.75L313.12 1069.75L313.01 1070.75L312.89 1071.75L312.77 1072.75L312.64 1073.75L312.51 1074.75L312.38 1075.75L312.25 1076.75L312.11 1077.75L311.96 1078.75L311.79 1079.75L311.62 1080.75L311.44 1081.75L311.26 1082.75L311.07 1083.75L310.87 1084.75L310.67 1085.75L310.46 1086.75L310.26 1087.75L310.05 1088.75L309.83 1089.75L309.60 1090.75L309.36 1091.75L309.11 1092.75L308.86 1093.75L308.60 1094.75L308.34 1095.75L308.08 1096.75L307.82 1097.75L307.55 1098.75L307.28 1099.75L307.01 1100.75L306.73 1101.75L306.45 1102.75L303.05 1102.75L302.77 1101.75L302.49 1100.75L302.22 1099.75L301.95 1098.75L301.68 1097.75L301.42 1096.75L301.16 1095.75L300.90 1094.75L300.64 1093.75L300.39 1092.75L300.14 1091.75L299.90 1090.75L299.67 1089.75L299.45 1088.75L299.24 1087.75L299.04 1086.75L298.83 1085.75L298.63 1084.75L298.43 1083.75L298.24 1082.75L298.06 1081.75L297.88 1080.75L297.71 1079.75L297.54 1078.75L297.39 1077.75L297.25 1076.75L297.12 1075.75L296.99 1074.75L296.86 1073.75L296.73 1072.75L296.61 1071.75L296.49 1070.75L296.38 1069.75L296.27 1068.75L296.17 1067.75L296.09 1066.75L296.01 1065.75L295.95 1064.75L295.91 1063.75L295.88 1062.75L295.84 1061.75L295.81 1060.75L295.78 1059.75L295.76 1058.75L295.73 1057.75L295.71 1056.75L295.69 1055.75L295.68 1054.75L295.67 1053.75L295.66 1052.75L295.65 1051.75L295.65 1050.75L295.66 1049.75L295.67 1048.75L295.69 1047.75L295.71 1046.75L295.74 1045.75L295.78 1044.75L295.82 1043.75L295.86 1042.75L295.90 1041.75L295.95 1040.75L295.99 1039.75L296.04 1038.75L296.09 1037.75L296.14 1036.75L296.21 1035.75L296.27 1034.75L296.35 1033.75L296.43 1032.75L296.51 1031.75L296.60 1030.75L296.69 1029.75L296.79 1028.75L296.88 1027.75L296.98 1026.75L297.07 1025.75L297.17 1024.75L297.28 1023.75L297.39 1022.75L297.50 1021.75L297.62 1020.75L297.74 1019.75L297.86 1018.75L297.99 1017.75L298.11 1016.75L298.25 1015.75L298.38 1014.75L298.52 1013.75L298.65 1012.75L298.80 1011.75L298.95 1010.75L299.11 1009.75L299.27 1008.75L299.43 1007.75L299.60 1006.75L299.76 1005.75L299.93 1004.75L300.10 1003.75L300.27 1002.75L300.43 1001.75L300.59 1000.75L300.76 999.75L300.93 998.75L301.10 997.75L301.28 996.75L301.46 995.75L301.63 994.75L301.80 993.75L301.97 992.75L302.12 991.75L302.27 990.75L302.40 989.75L302.52 988.75L302.63 987.75L302.73 986.75L302.83 985.75L302.92 984.75L303.01 983.75L303.09 982.75L303.17 981.75L303.25 980.75L303.32 979.75L303.39 978.75L303.45 977.75L303.51 976.75L303.56 975.75L303.61 974.75L303.66 973.75L303.70 972.75L303.74 971.75L303.78 970.75L303.82 969.75L303.86 968.75L303.89 967.75L303.93 966.75L303.96 965.75L304.00 964.75L304.04 963.75L304.08 962.75L304.12 961.75L304.16 960.75L304.20 959.75L304.25 958.75L304.29 957.75L304.33 956.75L304.37 955.75L304.41 954.75L304.45 953.75L304.50 952.75L304.54 951.75L304.55 950.75L304.55 949.75L304.55 948.75L304.55 947.75L304.55 946.75Z" fill="#00BF7D" stroke="#333333" stroke-width="1.1" stroke-linejoin="round"/>
<path d="M338.35 1009.75L338.51 1010.75L338.66 1011.75L338.81 1012.75L338.95 1013.75L339.09 1014.75L339.22 1015.75L339.34 1016.75L339.45 1017.75L339.55 1018.75L339.64 1019.75L339.73 1020.75L339.83 1021.75L339.93 1022.75L340.04 1023.75L340.17 1024.75L340.31 1025.75L340.48 1026.75L340.70 1027.75L340.96 1028.75L341.25 1029.75L341.56 1030.75L341.89 1031.75L342.24 1032.75L342.58 1033.75L342.93 1034.75L343.27 1035.75L343.60 1036.75L343.95 1037.75L344.31 1038.75L344.69 1039.75L345.06 1040.75L345.44 1041.75L345.81 1042.75L346.18 1043.75L346.53 1044.75L346.87 1045.75L347.20 1046.75L347.53 1047.75L347.87 1048.75L348.21 1049.75L348.54 1050.75L348.85 1051.75L349.14 1052.75L349.41 1053.75L349.63 1054.75L349.81 1055.75L349.96 1056.75L350.10 1057.75L350.24 1058.75L350.36 1059.75L350.46 1060.75L350.54 1061.75L350.59 1062.75L350.60 1063.75L350.55 1064.75L350.44 1065.75L350.28 1066.75L350.09 1067.75L349.87 1068.75L349.64 1069.75L349.41 1070.75L349.16 1071.75L348.87 1072.75L348.53 1073.75L348.16 1074.75L347.76 1075.75L347.35 1076.75L346.92 1077.75L346.50 1078.75L346.09 1079.75L345.69 1080.75L345.31 1081.75L344.91 1082.75L344.50 1083.75L344.09 1084.75L343.67 1085.75L343.27 1086.75L342.89 1087.75L342.53 1088.75L342.20 1089.75L341.91 1090.75L341.66 1091.75L341.41 1092.75L341.16 1093.75L340.92 1094.75L340.70 1095.75L340.49 1096.75L340.31 1097.75L340.16 1098.75L340.04 1099.75L339.96 1100.75L339.92 1101.75L339.87 1102.75L339.83 1103.75L339.79 1104.75L339.76 1105.75L339.73 1106.75L339.70 1107.75L339.67 1108.75L339.65 1109.75L339.63 1110.75L339.62 1111.75L339.61 1112.75L339.60 1113.75L339.60 1114.75L332.90 1114.75L332.90 1113.75L332.89 1112.75L332.88 1111.75L332.87 1110.75L332.85 1109.75L332.83 1108.75L332.80 1107.75L332.77 1106.75L332.74 1105.75L332.71 1104.75L332.67 1103.75L332.63 1102.75L332.58 1101.75L332.54 1100.75L332.46 1099.75L332.34 1098.75L332.19 1097.75L332.01 1096.75L331.80 1095.75L331.58 1094.75L331.34 1093.75L331.09 1092.75L330.84 1091.75L330.59 1090.75L330.30 1089.75L329.97 1088.75L329.61 1087.75L329.23 1086.75L328.83 1085.75L328.41 1084.75L328.00 1083.75L327.59 1082.75L327.19 1081.75L326.81 1080.75L326.41 1079.75L326.00 1078.75L325.58 1077.75L325.15 1076.75L324.74 1075.75L324.34 1074.75L323.97 1073.75L323.63 1072.75L323.34 1071.75L323.09 1070.75L322.86 1069.75L322.63 1068.75L322.41 1067.75L322.22 1066.75L322.06 1065.75L321.95 1064.75L321.90 1063.75L321.91 1062.75L321.96 1061.75L322.04 1060.75L322.14 1059.75L322.26 1058.75L322.40 1057.75L322.54 1056.75L322.69 1055.75L322.87 1054.75L323.09 1053.75L323.36 1052.75L323.65 1051.75L323.96 1050.75L324.29 1049.75L324.63 1048.75L324.97 1047.75L325.30 1046.75L325.63 1045.75L325.97 1044.75L326.32 1043.75L326.69 1042.75L327.06 1041.75L327.44 1040.75L327.81 1039.75L328.19 1038.75L328.55 1037.75L328.90 1036.75L329.23 1035.75L329.57 1034.75L329.92 1033.75L330.26 1032.75L330.61 1031.75L330.94 1030.75L331.25 1029.75L331.54 1028.75L331.80 1027.75L332.02 1026.75L332.19 1025.75L332.33 1024.75L332.46 1023.75L332.57 1022.75L332.67 1021.75L332.77 1020.75L332.86 1019.75L332.95 1018.75L333.05 1017.75L333.16 1016.75L333.28 1015.75L333.41 1014.75L333.55 1013.75L333.69 1012.75L333.84 1011.75L333.99 1010.75L334.15 1009.75Z" fill="#00B0F6" stroke="#333333" stroke-width="1.1" stroke-linejoin="round"/>
<path d="M370.35 989.00L370.40 990.00L370.45 991.00L370.50 992.00L370.55 993.00L370.61 994.00L370.68 995.00L370.74 996.00L370.81 997.00L370.88 998.00L370.95 999.00L371.02 1000.00L371.10 1001.00L371.18 1002.00L371.27 1003.00L371.36 1004.00L371.46 1005.00L371.56 1006.00L371.67 1007.00L371.78 1008.00L371.88 1009.00L371.99 1010.00L372.10 1011.00L372.20 1012.00L372.30 1013.00L372.40 1014.00L372.49 1015.00L372.59 1016.00L372.68 1017.00L372.77 1018.00L372.86 1019.00L372.95 1020.00L373.04 1021.00L373.13 1022.00L373.22 1023.00L373.31 1024.00L373.41 1025.00L373.50 1026.00L373.59 1027.00L373.69 1028.00L373.78 1029.00L373.88 1030.00L373.97 1031.00L374.07 1032.00L374.16 1033.00L374.26 1034.00L374.36 1035.00L374.45 1036.00L374.55 1037.00L374.65 1038.00L374.75 1039.00L374.85 1040.00L374.96 1041.00L375.06 1042.00L375.16 1043.00L375.27 1044.00L375.38 1045.00L375.48 1046.00L375.59 1047.00L375.69 1048.00L375.80 1049.00L375.90 1050.00L376.00 1051.00L376.10 1052.00L376.20 1053.00L376.30 1054.00L376.40 1055.00L376.50 1056.00L376.60 1057.00L376.69 1058.00L376.79 1059.00L376.88 1060.00L376.98 1061.00L377.07 1062.00L377.16 1063.00L377.25 1064.00L377.34 1065.00L377.45 1066.00L377.55 1067.00L377.66 1068.00L377.76 1069.00L377.84 1070.00L377.92 1071.00L377.97 1072.00L378.00 1073.00L378.00 1074.00L378.00 1075.00L378.00 1076.00L378.00 1077.00L378.00 1078.00L378.00 1079.00L378.00 1080.00L378.00 1081.00L377.98 1082.00L377.92 1083.00L377.82 1084.00L377.70 1085.00L377.57 1086.00L377.42 1087.00L377.27 1088.00L377.12 1089.00L376.95 1090.00L376.74 1091.00L376.51 1092.00L376.27 1093.00L376.02 1094.00L375.76 1095.00L375.50 1096.00L375.23 1097.00L374.95 1098.00L374.66 1099.00L374.36 1100.00L374.20 1100.50L361.80 1100.50L361.64 1100.00L361.34 1099.00L361.05 1098.00L360.77 1097.00L360.50 1096.00L360.24 1095.00L359.98 1094.00L359.73 1093.00L359.49 1092.00L359.26 1091.00L359.05 1090.00L358.88 1089.00L358.73 1088.00L358.58 1087.00L358.43 1086.00L358.30 1085.00L358.18 1084.00L358.08 1083.00L358.02 1082.00L358.00 1081.00L358.00 1080.00L358.00 1079.00L358.00 1078.00L358.00 1077.00L358.00 1076.00L358.00 1075.00L358.00 1074.00L358.00 1073.00L358.03 1072.00L358.08 1071.00L358.16 1070.00L358.24 1069.00L358.34 1068.00L358.45 1067.00L358.55 1066.00L358.66 1065.00L358.75 1064.00L358.84 1063.00L358.93 1062.00L359.02 1061.00L359.12 1060.00L359.21 1059.00L359.31 1058.00L359.40 1057.00L359.50 1056.00L359.60 1055.00L359.70 1054.00L359.80 1053.00L359.90 1052.00L360.00 1051.00L360.10 1050.00L360.20 1049.00L360.31 1048.00L360.41 1047.00L360.52 1046.00L360.62 1045.00L360.73 1044.00L360.84 1043.00L360.94 1042.00L361.04 1041.00L361.15 1040.00L361.25 1039.00L361.35 1038.00L361.45 1037.00L361.55 1036.00L361.64 1035.00L361.74 1034.00L361.84 1033.00L361.93 1032.00L362.03 1031.00L362.12 1030.00L362.22 1029.00L362.31 1028.00L362.41 1027.00L362.50 1026.00L362.59 1025.00L362.69 1024.00L362.78 1023.00L362.87 1022.00L362.96 1021.00L363.05 1020.00L363.14 1019.00L363.23 1018.00L363.32 1017.00L363.41 1016.00L363.51 1015.00L363.60 1014.00L363.70 1013.00L363.80 1012.00L363.90 1011.00L364.01 1010.00L364.12 1009.00L364.22 1008.00L364.33 1007.00L364.44 1006.00L364.54 1005.00L364.64 1004.00L364.73 1003.00L364.82 1002.00L364.90 1001.00L364.98 1000.00L365.05 999.00L365.12 998.00L365.19 997.00L365.26 996.00L365.32 995.00L365.39 994.00L365.45 993.00L365.50 992.00L365.55 991.00L365.60 990.00L365.65 989.00Z" fill="#E76BF3" stroke="#333333" stroke-width="1.1" stroke-linejoin="round"/>
<path d="M411.00 1016.10L411.00 1017.10L411.00 1018.10L411.00 1019.10L411.00 1020.10L411.00 1021.10L411.00 1022.10L411.00 1023.10L411.00 1024.10L411.00 1025.10L411.00 1026.10L411.00 1027.10L411.00 1028.10L411.00 1029.10L411.00 1030.10L411.00 1031.10L411.00 1032.10L411.00 1033.10L411.00 1034.10L411.00 1035.10L411.00 1036.10L411.00 1037.10L411.00 1038.10L411.00 1039.10L411.00 1040.10L411.00 1041.10L411.00 1042.10L411.00 1043.10L411.00 1044.10L411.00 1045.10L411.00 1046.10L411.00 1047.10L411.00 1048.10L411.00 1049.10L411.00 1050.10L411.00 1051.10L411.01 1052.10L411.05 1053.10L411.10 1054.10L411.17 1055.10L411.25 1056.10L411.34 1057.10L411.43 1058.10L411.54 1059.10L411.67 1060.10L411.81 1061.10L411.97 1062.10L412.13 1063.10L412.30 1064.10L412.48 1065.10L412.67 1066.10L412.88 1067.10L413.09 1068.10L413.29 1069.10L413.47 1070.10L413.63 1071.10L413.79 1072.10L413.95 1073.10L414.09 1074.10L414.23 1075.10L414.35 1076.10L414.45 1077.10L414.53 1078.10L414.60 1079.10L414.66 1080.10L414.73 1081.10L414.82 1082.10L414.92 1083.10L415.06 1084.10L415.23 1085.10L415.42 1086.10L415.64 1087.10L415.89 1088.10L416.17 1089.10L416.51 1090.10L416.94 1091.10L417.45 1092.10L418.00 1093.10L418.57 1094.10L419.13 1095.10L419.70 1096.10L420.34 1097.10L421.00 1098.10L421.67 1099.10L422.29 1100.10L422.83 1101.10L423.27 1102.10L423.71 1103.10L424.12 1104.10L424.46 1105.10L424.66 1106.10L424.70 1107.10L424.70 1108.10L424.70 1109.10L424.70 1110.10L424.65 1111.10L424.39 1112.10L423.97 1113.10L423.50 1114.10L422.95 1115.10L422.21 1116.10L421.34 1117.10L420.41 1118.10L419.48 1119.10L418.57 1120.10L417.63 1121.10L416.64 1122.10L415.63 1123.10L415.00 1123.70L406.60 1123.70L405.97 1123.10L404.96 1122.10L403.97 1121.10L403.03 1120.10L402.12 1119.10L401.19 1118.10L400.26 1117.10L399.39 1116.10L398.65 1115.10L398.10 1114.10L397.63 1113.10L397.21 1112.10L396.95 1111.10L396.90 1110.10L396.90 1109.10L396.90 1108.10L396.90 1107.10L396.94 1106.10L397.14 1105.10L397.48 1104.10L397.89 1103.10L398.33 1102.10L398.77 1101.10L399.31 1100.10L399.93 1099.10L400.60 1098.10L401.26 1097.10L401.90 1096.10L402.47 1095.10L403.03 1094.10L403.60 1093.10L404.15 1092.10L404.66 1091.10L405.09 1090.10L405.43 1089.10L405.71 1088.10L405.96 1087.10L406.18 1086.10L406.37 1085.10L406.54 1084.10L406.68 1083.10L406.78 1082.10L406.87 1081.10L406.94 1080.10L407.00 1079.10L407.07 1078.10L407.15 1077.10L407.25 1076.10L407.37 1075.10L407.51 1074.10L407.65 1073.10L407.81 1072.10L407.97 1071.10L408.13 1070.10L408.31 1069.10L408.51 1068.10L408.72 1067.10L408.93 1066.10L409.12 1065.10L409.30 1064.10L409.47 1063.10L409.63 1062.10L409.79 1061.10L409.93 1060.10L410.06 1059.10L410.17 1058.10L410.26 1057.10L410.35 1056.10L410.43 1055.10L410.50 1054.10L410.55 1053.10L410.59 1052.10L410.60 1051.10L410.60 1050.10L410.60 1049.10L410.60 1048.10L410.60 1047.10L410.60 1046.10L410.60 1045.10L410.60 1044.10L410.60 1043.10L410.60 1042.10L410.60 1041.10L410.60 1040.10L410.60 1039.10L410.60 1038.10L410.60 1037.10L410.60 1036.10L410.60 1035.10L410.60 1034.10L410.60 1033.10L410.60 1032.10L410.60 1031.10L410.60 1030.10L410.60 1029.10L410.60 1028.10L410.60 1027.10L410.60 1026.10L410.60 1025.10L410.60 1024.10L410.60 1023.10L410.60 1022.10L410.60 1021.10L410.60 1020.10L410.60 1019.10L410.60 1018.10L410.60 1017.10L410.60 1016.10Z" fill="#F8766D" stroke="#333333" stroke-width="1.1" stroke-linejoin="round"/>
<path d="M442.65 1007.60L442.65 1008.60L442.65 1009.60L442.65 1010.60L442.65 1011.60L442.65 1012.60L442.65 1013.60L442.65 1014.60L442.65 1015.60L442.65 1016.60L442.65 1017.60L442.65 1018.60L442.65 1019.60L442.65 1020.60L442.65 1021.60L442.65 1022.60L442.65 1023.60L442.65 1024.60L442.65 1025.60L442.65 1026.60L442.65 1027.60L442.65 1028.60L442.65 1029.60L442.65 1030.60L442.65 1031.60L442.65 1032.60L442.65 1033.60L442.65 1034.60L442.65 1035.60L442.65 1036.60L442.65 1037.60L442.65 1038.60L442.66 1039.60L442.68 1040.60L442.71 1041.60L442.75 1042.60L442.79 1043.60L442.84 1044.60L442.89 1045.60L442.94 1046.60L443.00 1047.60L443.06 1048.60L443.13 1049.60L443.19 1050.60L443.26 1051.60L443.34 1052.60L443.43 1053.60L443.54 1054.60L443.64 1055.60L443.75 1056.60L443.83 1057.60L443.91 1058.60L443.98 1059.60L444.04 1060.60L444.10 1061.60L444.16 1062.60L444.22 1063.60L444.28 1064.60L444.34 1065.60L444.40 1066.60L444.46 1067.60L444.52 1068.60L444.59 1069.60L444.68 1070.60L444.78 1071.60L444.89 1072.60L445.02 1073.60L445.17 1074.60L445.33 1075.60L445.50 1076.60L445.70 1077.60L445.94 1078.60L446.20 1079.60L446.50 1080.60L446.81 1081.60L447.15 1082.60L447.51 1083.60L447.93 1084.60L448.40 1085.60L448.89 1086.60L449.38 1087.60L449.87 1088.60L450.34 1089.60L450.82 1090.60L451.32 1091.60L451.81 1092.60L452.27 1093.60L452.67 1094.60L453.01 1095.60L453.33 1096.60L453.64 1097.60L453.92 1098.60L454.16 1099.60L454.34 1100.60L454.44 1101.60L454.49 1102.60L454.54 1103.60L454.57 1104.60L454.59 1105.60L454.60 1106.60L454.53 1107.60L454.29 1108.60L453.95 1109.60L453.53 1110.60L453.09 1111.60L452.58 1112.60L451.89 1113.60L451.10 1114.60L450.25 1115.60L449.41 1116.60L448.56 1117.60L447.62 1118.60L446.66 1119.60L445.75 1120.60L444.98 1121.60L444.36 1122.60L443.82 1123.60L443.37 1124.60L443.25 1124.90L441.65 1124.90L441.53 1124.60L441.08 1123.60L440.54 1122.60L439.92 1121.60L439.15 1120.60L438.24 1119.60L437.28 1118.60L436.34 1117.60L435.49 1116.60L434.65 1115.60L433.80 1114.60L433.01 1113.60L432.32 1112.60L431.81 1111.60L431.37 1110.60L430.95 1109.60L430.61 1108.60L430.37 1107.60L430.30 1106.60L430.31 1105.60L430.33 1104.60L430.36 1103.60L430.41 1102.60L430.46 1101.60L430.56 1100.60L430.74 1099.60L430.98 1098.60L431.26 1097.60L431.57 1096.60L431.89 1095.60L432.23 1094.60L432.63 1093.60L433.09 1092.60L433.58 1091.60L434.08 1090.60L434.56 1089.60L435.03 1088.60L435.52 1087.60L436.01 1086.60L436.50 1085.60L436.97 1084.60L437.39 1083.60L437.75 1082.60L438.09 1081.60L438.40 1080.60L438.70 1079.60L438.96 1078.60L439.20 1077.60L439.40 1076.60L439.57 1075.60L439.73 1074.60L439.88 1073.60L440.01 1072.60L440.12 1071.60L440.22 1070.60L440.31 1069.60L440.38 1068.60L440.44 1067.60L440.50 1066.60L440.56 1065.60L440.62 1064.60L440.68 1063.60L440.74 1062.60L440.80 1061.60L440.86 1060.60L440.92 1059.60L440.99 1058.60L441.07 1057.60L441.15 1056.60L441.26 1055.60L441.36 1054.60L441.47 1053.60L441.56 1052.60L441.64 1051.60L441.71 1050.60L441.77 1049.60L441.84 1048.60L441.90 1047.60L441.96 1046.60L442.01 1045.60L442.06 1044.60L442.11 1043.60L442.15 1042.60L442.19 1041.60L442.22 1040.60L442.24 1039.60L442.25 1038.60L442.25 1037.60L442.25 1036.60L442.25 1035.60L442.25 1034.60L442.25 1033.60L442.25 1032.60L442.25 1031.60L442.25 1030.60L442.25 1029.60L442.25 1028.60L442.25 1027.60L442.25 1026.60L442.25 1025.60L442.25 1024.60L442.25 1023.60L442.25 1022.60L442.25 1021.60L442.25 1020.60L442.25 1019.60L442.25 1018.60L442.25 1017.60L442.25 1016.60L442.25 1015.60L442.25 1014.60L442.25 1013.60L442.25 1012.60L442.25 1011.60L442.25 1010.60L442.25 1009.60L442.25 1008.60L442.25 1007.60Z" fill="#A3A500" stroke="#333333" stroke-width="1.1" stroke-linejoin="round"/>
<path d="M474.15 956.25L474.15 957.25L474.15 958.25L474.15 959.25L474.15 960.25L474.15 961.25L474.15 962.25L474.15 963.25L474.15 964.25L474.15 965.25L474.15 966.25L474.15 967.25L474.15 968.25L474.15 969.25L474.15 970.25L474.15 971.25L474.15 972.25L474.15 973.25L474.15 974.25L474.15 975.25L474.15 976.25L474.15 977.25L474.15 978.25L474.15 979.25L474.15 980.25L474.15 981.25L474.15 982.25L474.15 983.25L474.15 984.25L474.15 985.25L474.15 986.25L474.15 987.25L474.15 988.25L474.15 989.25L474.15 990.25L474.15 991.25L474.15 992.25L474.15 993.25L474.15 994.25L474.15 995.25L474.15 996.25L474.15 997.25L474.15 998.25L474.15 999.25L474.15 1000.25L474.15 1001.25L474.15 1002.25L474.15 1003.25L474.15 1004.25L474.15 1005.25L474.15 1006.25L474.17 1007.25L474.21 1008.25L474.25 1009.25L474.30 1010.25L474.35 1011.25L474.40 1012.25L474.45 1013.25L474.50 1014.25L474.55 1015.25L474.59 1016.25L474.64 1017.25L474.68 1018.25L474.71 1019.25L474.75 1020.25L474.79 1021.25L474.83 1022.25L474.87 1023.25L474.91 1024.25L474.95 1025.25L474.99 1026.25L475.02 1027.25L475.06 1028.25L475.10 1029.25L475.15 1030.25L475.19 1031.25L475.23 1032.25L475.27 1033.25L475.32 1034.25L475.36 1035.25L475.40 1036.25L475.44 1037.25L475.48 1038.25L475.52 1039.25L475.57 1040.25L475.61 1041.25L475.67 1042.25L475.72 1043.25L475.79 1044.25L475.85 1045.25L475.94 1046.25L476.04 1047.25L476.16 1048.25L476.29 1049.25L476.43 1050.25L476.57 1051.25L476.72 1052.25L476.87 1053.25L477.01 1054.25L477.14 1055.25L477.27 1056.25L477.40 1057.25L477.54 1058.25L477.67 1059.25L477.80 1060.25L477.93 1061.25L478.06 1062.25L478.19 1063.25L478.32 1064.25L478.44 1065.25L478.57 1066.25L478.69 1067.25L478.81 1068.25L478.93 1069.25L479.05 1070.25L479.17 1071.25L479.28 1072.25L479.40 1073.25L479.52 1074.25L479.64 1075.25L479.77 1076.25L479.89 1077.25L480.02 1078.25L480.15 1079.25L480.28 1080.25L480.40 1081.25L480.53 1082.25L480.65 1083.25L480.77 1084.25L480.88 1085.25L481.00 1086.25L481.11 1087.25L481.22 1088.25L481.34 1089.25L481.44 1090.25L481.55 1091.25L481.65 1092.25L481.74 1093.25L481.82 1094.25L481.89 1095.25L481.95 1096.25L482.02 1097.25L482.08 1098.25L482.14 1099.25L482.19 1100.25L482.22 1101.25L482.24 1102.25L482.25 1103.25L482.21 1104.25L482.12 1105.25L482.00 1106.25L481.86 1107.25L481.70 1108.25L481.54 1109.25L481.36 1110.25L481.13 1111.25L480.86 1112.25L480.57 1113.25L480.26 1114.25L479.93 1115.25L479.58 1116.25L479.17 1117.25L478.72 1118.25L478.27 1119.25L477.85 1120.25L477.46 1121.25L477.09 1122.25L476.72 1123.25L476.37 1124.25L476.15 1124.90L471.75 1124.90L471.53 1124.25L471.18 1123.25L470.81 1122.25L470.44 1121.25L470.05 1120.25L469.63 1119.25L469.18 1118.25L468.73 1117.25L468.32 1116.25L467.97 1115.25L467.64 1114.25L467.33 1113.25L467.04 1112.25L466.77 1111.25L466.54 1110.25L466.36 1109.25L466.20 1108.25L466.04 1107.25L465.90 1106.25L465.78 1105.25L465.69 1104.25L465.65 1103.25L465.66 1102.25L465.68 1101.25L465.71 1100.25L465.76 1099.25L465.82 1098.25L465.88 1097.25L465.95 1096.25L466.01 1095.25L466.08 1094.25L466.16 1093.25L466.25 1092.25L466.35 1091.25L466.46 1090.25L466.56 1089.25L466.68 1088.25L466.79 1087.25L466.90 1086.25L467.02 1085.25L467.13 1084.25L467.25 1083.25L467.37 1082.25L467.50 1081.25L467.62 1080.25L467.75 1079.25L467.88 1078.25L468.01 1077.25L468.13 1076.25L468.26 1075.25L468.38 1074.25L468.50 1073.25L468.62 1072.25L468.73 1071.25L468.85 1070.25L468.97 1069.25L469.09 1068.25L469.21 1067.25L469.33 1066.25L469.46 1065.25L469.58 1064.25L469.71 1063.25L469.84 1062.25L469.97 1061.25L470.10 1060.25L470.23 1059.25L470.36 1058.25L470.50 1057.25L470.63 1056.25L470.76 1055.25L470.89 1054.25L471.03 1053.25L471.18 1052.25L471.33 1051.25L471.47 1050.25L471.61 1049.25L471.74 1048.25L471.86 1047.25L471.96 1046.25L472.05 1045.25L472.11 1044.25L472.18 1043.25L472.23 1042.25L472.29 1041.25L472.33 1040.25L472.38 1039.25L472.42 1038.25L472.46 1037.25L472.50 1036.25L472.54 1035.25L472.58 1034.25L472.63 1033.25L472.67 1032.25L472.71 1031.25L472.75 1030.25L472.80 1029.25L472.84 1028.25L472.88 1027.25L472.91 1026.25L472.95 1025.25L472.99 1024.25L473.03 1023.25L473.07 1022.25L473.11 1021.25L473.15 1020.25L473.19 1019.25L473.22 1018.25L473.26 1017.25L473.31 1016.25L473.35 1015.25L473.40 1014.25L473.45 1013.25L473.50 1012.25L473.55 1011.25L473.60 1010.25L473.65 1009.25L473.69 1008.25L473.73 1007.25L473.75 1006.25L473.75 1005.25L473.75 1004.25L473.75 1003.25L473.75 1002.25L473.75 1001.25L473.75 1000.25L473.75 999.25L473.75 998.25L473.75 997.25L473.75 996.25L473.75 995.25L473.75 994.25L473.75 993.25L473.75 992.25L473.75 991.25L473.75 990.25L473.75 989.25L473.75 988.25L473.75 987.25L473.75 986.25L473.75 985.25L473.75 984.25L473.75 983.25L473.75 982.25L473.75 981.25L473.75 980.25L473.75 979.25L473.75 978.25L473.75 977.25L473.75 976.25L473.75 975.25L473.75 974.25L473.75 973.25L473.75 972.25L473.75 971.25L473.75 970.25L473.75 969.25L473.75 968.25L473.75 967.25L473.75 966.25L473.75 965.25L473.75 964.25L473.75 963.25L473.75 962.25L473.75 961.25L473.75 960.25L473.75 959.25L473.75 958.25L473.75 957.25L473.75 956.25Z" fill="#00BF7D" stroke="#333333" stroke-width="1.1" stroke-linejoin="round"/>
<path d="M506.60 1038.70L506.72 1039.70L506.84 1040.70L506.96 1041.70L507.07 1042.70L507.18 1043.70L507.29 1044.70L507.40 1045.70L507.50 1046.70L507.60 1047.70L507.70 1048.70L507.79 1049.70L507.88 1050.70L507.97 1051.70L508.06 1052.70L508.14 1053.70L508.23 1054.70L508.32 1055.70L508.40 1056.70L508.49 1057.70L508.58 1058.70L508.67 1059.70L508.75 1060.70L508.84 1061.70L508.92 1062.70L509.01 1063.70L509.10 1064.70L509.19 1065.70L509.29 1066.70L509.39 1067.70L509.50 1068.70L509.62 1069.70L509.74 1070.70L509.87 1071.70L510.00 1072.70L510.14 1073.70L510.27 1074.70L510.41 1075.70L510.54 1076.70L510.67 1077.70L510.80 1078.70L510.93 1079.70L511.07 1080.70L511.20 1081.70L511.33 1082.70L511.46 1083.70L511.59 1084.70L511.72 1085.70L511.85 1086.70L511.98 1087.70L512.10 1088.70L512.22 1089.70L512.34 1090.70L512.46 1091.70L512.58 1092.70L512.70 1093.70L512.82 1094.70L512.94 1095.70L513.06 1096.70L513.20 1097.70L513.33 1098.70L513.45 1099.70L513.54 1100.70L513.60 1101.70L513.63 1102.70L513.66 1103.70L513.68 1104.70L513.69 1105.70L513.70 1106.70L513.67 1107.70L513.59 1108.70L513.47 1109.70L513.34 1110.70L513.20 1111.70L513.05 1112.70L512.87 1113.70L512.67 1114.70L512.46 1115.70L512.22 1116.70L511.97 1117.70L511.70 1118.70L511.40 1119.70L511.08 1120.70L510.74 1121.70L510.70 1121.80L499.90 1121.80L499.86 1121.70L499.52 1120.70L499.20 1119.70L498.90 1118.70L498.63 1117.70L498.38 1116.70L498.14 1115.70L497.93 1114.70L497.73 1113.70L497.55 1112.70L497.40 1111.70L497.26 1110.70L497.13 1109.70L497.01 1108.70L496.93 1107.70L496.90 1106.70L496.91 1105.70L496.92 1104.70L496.94 1103.70L496.97 1102.70L497.00 1101.70L497.06 1100.70L497.15 1099.70L497.27 1098.70L497.40 1097.70L497.54 1096.70L497.66 1095.70L497.78 1094.70L497.90 1093.70L498.02 1092.70L498.14 1091.70L498.26 1090.70L498.38 1089.70L498.50 1088.70L498.62 1087.70L498.75 1086.70L498.88 1085.70L499.01 1084.70L499.14 1083.70L499.27 1082.70L499.40 1081.70L499.53 1080.70L499.67 1079.70L499.80 1078.70L499.93 1077.70L500.06 1076.70L500.19 1075.70L500.33 1074.70L500.46 1073.70L500.60 1072.70L500.73 1071.70L500.86 1070.70L500.98 1069.70L501.10 1068.70L501.21 1067.70L501.31 1066.70L501.41 1065.70L501.50 1064.70L501.59 1063.70L501.68 1062.70L501.76 1061.70L501.85 1060.70L501.93 1059.70L502.02 1058.70L502.11 1057.70L502.20 1056.70L502.28 1055.70L502.37 1054.70L502.46 1053.70L502.54 1052.70L502.63 1051.70L502.72 1050.70L502.81 1049.70L502.90 1048.70L503.00 1047.70L503.10 1046.70L503.20 1045.70L503.31 1044.70L503.42 1043.70L503.53 1042.70L503.64 1041.70L503.76 1040.70L503.88 1039.70L504.00 1038.70Z" fill="#00B0F6" stroke="#333333" stroke-width="1.1" stroke-linejoin="round"/>
<path d="M537.95 1011.10L537.96 1012.10L537.98 1013.10L537.99 1014.10L538.01 1015.10L538.03 1016.10L538.05 1017.10L538.06 1018.10L538.08 1019.10L538.11 1020.10L538.13 1021.10L538.15 1022.10L538.17 1023.10L538.19 1024.10L538.22 1025.10L538.24 1026.10L538.27 1027.10L538.29 1028.10L538.32 1029.10L538.35 1030.10L538.38 1031.10L538.41 1032.10L538.44 1033.10L538.48 1034.10L538.51 1035.10L538.55 1036.10L538.58 1037.10L538.62 1038.10L538.66 1039.10L538.70 1040.10L538.74 1041.10L538.78 1042.10L538.82 1043.10L538.87 1044.10L538.92 1045.10L538.96 1046.10L539.01 1047.10L539.06 1048.10L539.12 1049.10L539.17 1050.10L539.23 1051.10L539.28 1052.10L539.35 1053.10L539.41 1054.10L539.48 1055.10L539.55 1056.10L539.62 1057.10L539.69 1058.10L539.77 1059.10L539.84 1060.10L539.92 1061.10L540.00 1062.10L540.07 1063.10L540.15 1064.10L540.23 1065.10L540.30 1066.10L540.38 1067.10L540.45 1068.10L540.53 1069.10L540.61 1070.10L540.69 1071.10L540.77 1072.10L540.85 1073.10L540.93 1074.10L541.02 1075.10L541.11 1076.10L541.20 1077.10L541.29 1078.10L541.39 1079.10L541.49 1080.10L541.60 1081.10L541.71 1082.10L541.82 1083.10L541.93 1084.10L542.03 1085.10L542.14 1086.10L542.24 1087.10L542.34 1088.10L542.44 1089.10L542.54 1090.10L542.64 1091.10L542.74 1092.10L542.84 1093.10L542.94 1094.10L543.04 1095.10L543.12 1096.10L543.19 1097.10L543.25 1098.10L543.30 1099.10L543.33 1100.10L543.36 1101.10L543.38 1102.10L543.41 1103.10L543.43 1104.10L543.44 1105.10L543.45 1106.10L543.45 1107.10L543.41 1108.10L543.35 1109.10L543.26 1110.10L543.15 1111.10L543.05 1112.10L542.94 1113.10L542.83 1114.10L542.70 1115.10L542.56 1116.10L542.41 1117.10L542.25 1118.10L542.08 1119.10L542.05 1119.30L531.65 1119.30L531.62 1119.10L531.45 1118.10L531.29 1117.10L531.14 1116.10L531.00 1115.10L530.87 1114.10L530.76 1113.10L530.65 1112.10L530.55 1111.10L530.44 1110.10L530.35 1109.10L530.29 1108.10L530.25 1107.10L530.25 1106.10L530.26 1105.10L530.27 1104.10L530.29 1103.10L530.32 1102.10L530.34 1101.10L530.37 1100.10L530.40 1099.10L530.45 1098.10L530.51 1097.10L530.58 1096.10L530.66 1095.10L530.76 1094.10L530.86 1093.10L530.96 1092.10L531.06 1091.10L531.16 1090.10L531.26 1089.10L531.36 1088.10L531.46 1087.10L531.56 1086.10L531.67 1085.10L531.77 1084.10L531.88 1083.10L531.99 1082.10L532.10 1081.10L532.21 1080.10L532.31 1079.10L532.41 1078.10L532.50 1077.10L532.59 1076.10L532.68 1075.10L532.77 1074.10L532.85 1073.10L532.93 1072.10L533.01 1071.10L533.09 1070.10L533.17 1069.10L533.25 1068.10L533.32 1067.10L533.40 1066.10L533.47 1065.10L533.55 1064.10L533.63 1063.10L533.70 1062.10L533.78 1061.10L533.86 1060.10L533.93 1059.10L534.01 1058.10L534.08 1057.10L534.15 1056.10L534.22 1055.10L534.29 1054.10L534.35 1053.10L534.42 1052.10L534.47 1051.10L534.53 1050.10L534.58 1049.10L534.64 1048.10L534.69 1047.10L534.74 1046.10L534.78 1045.10L534.83 1044.10L534.88 1043.10L534.92 1042.10L534.96 1041.10L535.00 1040.10L535.04 1039.10L535.08 1038.10L535.12 1037.10L535.15 1036.10L535.19 1035.10L535.22 1034.10L535.26 1033.10L535.29 1032.10L535.32 1031.10L535.35 1030.10L535.38 1029.10L535.41 1028.10L535.43 1027.10L535.46 1026.10L535.48 1025.10L535.51 1024.10L535.53 1023.10L535.55 1022.10L535.57 1021.10L535.59 1020.10L535.62 1019.10L535.64 1018.10L535.65 1017.10L535.67 1016.10L535.69 1015.10L535.71 1014.10L535.72 1013.10L535.74 1012.10L535.75 1011.10Z" fill="#E76BF3" stroke="#333333" stroke-width="1.1" stroke-linejoin="round"/>
<path d="M72.75 112.50V187.60M72.75 236.20V282.00" stroke="#333333" stroke-width="1.1" fill="none"/><rect x="71.10" y="187.60" width="3.30" height="48.60" fill="#F8766D" stroke="#333333" stroke-width="1.1"/><path d="M71.10 217.60h3.30" stroke="#333333" stroke-width="2.2" fill="none"/><circle cx="72.75" cy="73.30" r="1.6" fill="#333333"/><circle cx="72.75" cy="82.50" r="1.5" fill="#333333"/><circle cx="72.75" cy="98.00" r="1.5" fill="#333333"/><circle cx="72.75" cy="103.00" r="1.5" fill="#333333"/><circle cx="72.75" cy="105.00" r="1.5" fill="#333333"/><circle cx="72.75" cy="107.50" r="1.5" fill="#333333"/><circle cx="72.75" cy="109.70" r="1.5" fill="#333333"/>
<path d="M104.10 103.00V192.50M104.10 243.30V295.25" stroke="#333333" stroke-width="1.1" fill="none"/><rect x="102.45" y="192.50" width="3.30" height="50.80" fill="#A3A500" stroke="#333333" stroke-width="1.1"/><path d="M102.45 223.00h3.30" stroke="#333333" stroke-width="2.2" fill="none"/><circle cx="104.10" cy="70.30" r="1.5" fill="#333333"/><circle cx="104.10" cy="103.00" r="1.5" fill="#333333"/>
<path d="M135.60 79.30V165.30M135.60 230.30V286.50" stroke="#333333" stroke-width="1.1" fill="none"/><rect x="133.90" y="165.30" width="3.40" height="65.00" fill="#00BF7D" stroke="#333333" stroke-width="1.1"/><path d="M133.90 200.60h3.40" stroke="#333333" stroke-width="2.2" fill="none"/>
<path d="M167.00 149.50V213.75M167.00 249.00V282.75" stroke="#333333" stroke-width="1.1" fill="none"/><rect x="165.30" y="213.75" width="3.40" height="35.25" fill="#00B0F6" stroke="#333333" stroke-width="1.1"/><path d="M165.30 237.75h3.40" stroke="#333333" stroke-width="2.2" fill="none"/><circle cx="167.00" cy="119.50" r="1.6" fill="#333333"/><circle cx="167.00" cy="136.00" r="1.5" fill="#333333"/><circle cx="167.00" cy="150.75" r="1.5" fill="#333333"/><circle cx="167.00" cy="152.00" r="1.5" fill="#333333"/><circle cx="167.00" cy="153.25" r="1.5" fill="#333333"/><circle cx="167.00" cy="154.50" r="1.5" fill="#333333"/><circle cx="167.00" cy="155.75" r="1.5" fill="#333333"/><circle cx="167.00" cy="157.00" r="1.5" fill="#333333"/><circle cx="167.00" cy="158.25" r="1.5" fill="#333333"/><circle cx="167.00" cy="159.50" r="1.5" fill="#333333"/>
<path d="M198.70 100.00V189.50M198.70 251.00V278.75" stroke="#333333" stroke-width="1.1" fill="none"/><rect x="196.90" y="189.50" width="3.60" height="61.50" fill="#E76BF3" stroke="#333333" stroke-width="1.1"/><path d="M196.90 221.50h3.60" stroke="#333333" stroke-width="2.2" fill="none"/>
<path d="M241.75 189.50V246.25M241.75 286.50V320.75" stroke="#333333" stroke-width="1.1" fill="none"/><rect x="240.05" y="246.25" width="3.40" height="40.25" fill="#F8766D" stroke="#333333" stroke-width="1.1"/><path d="M240.05 269.00h3.40" stroke="#333333" stroke-width="2.2" fill="none"/><circle cx="241.75" cy="152.00" r="1.5" fill="#333333"/><circle cx="241.75" cy="167.00" r="1.5" fill="#333333"/><circle cx="241.75" cy="170.75" r="1.5" fill="#333333"/><circle cx="241.75" cy="174.50" r="1.5" fill="#333333"/><circle cx="241.75" cy="178.25" r="1.5" fill="#333333"/><circle cx="241.75" cy="182.00" r="1.5" fill="#333333"/><circle cx="241.75" cy="185.75" r="1.5" fill="#333333"/>
<path d="M273.25 182.00V243.75M273.25 288.25V325.75" stroke="#333333" stroke-width="1.1" fill="none"/><rect x="271.60" y="243.75" width="3.30" height="44.50" fill="#A3A500" stroke="#333333" stroke-width="1.1"/><path d="M271.60 268.25h3.30" stroke="#333333" stroke-width="2.2" fill="none"/><circle cx="273.25" cy="165.75" r="1.5" fill="#333333"/><circle cx="273.25" cy="168.25" r="1.5" fill="#333333"/><circle cx="273.25" cy="170.75" r="1.5" fill="#333333"/><circle cx="273.25" cy="177.00" r="1.5" fill="#333333"/>
<path d="M304.75 146.25V225.75M304.75 266.50V312.00" stroke="#333333" stroke-width="1.1" fill="none"/><rect x="303.05" y="225.75" width="3.40" height="40.75" fill="#00BF7D" stroke="#333333" stroke-width="1.1"/><path d="M303.05 247.00h3.40" stroke="#333333" stroke-width="2.2" fill="none"/><circle cx="304.75" cy="146.25" r="1.5" fill="#333333"/>
<path d="M336.25 149.50V216.50M336.25 278.25V308.75" stroke="#333333" stroke-width="1.1" fill="none"/><rect x="334.55" y="216.50" width="3.40" height="61.75" fill="#00B0F6" stroke="#333333" stroke-width="1.1"/><path d="M334.55 246.50h3.40" stroke="#333333" stroke-width="2.2" fill="none"/>
<path d="M368.00 202.25V239.50M368.00 277.50V314.00" stroke="#333333" stroke-width="1.1" fill="none"/><rect x="366.30" y="239.50" width="3.40" height="38.00" fill="#E76BF3" stroke="#333333" stroke-width="1.1"/><path d="M366.30 255.75h3.40" stroke="#333333" stroke-width="2.2" fill="none"/>
<path d="M410.80 249.00V303.60M410.80 322.20V330.80" stroke="#333333" stroke-width="1.1" fill="none"/><rect x="409.35" y="303.60" width="2.90" height="18.60" fill="#F8766D" stroke="#333333" stroke-width="1.1"/><path d="M409.35 316.10h2.90" stroke="#333333" stroke-width="2.2" fill="none"/><circle cx="410.80" cy="201.30" r="1.6" fill="#333333"/><circle cx="410.80" cy="205.60" r="1.5" fill="#333333"/><circle cx="410.80" cy="215.40" r="1.5" fill="#333333"/><circle cx="410.80" cy="238.70" r="1.5" fill="#333333"/><circle cx="410.80" cy="249.00" r="1.5" fill="#333333"/><circle cx="410.80" cy="250.38" r="1.5" fill="#333333"/><circle cx="410.80" cy="251.76" r="1.5" fill="#333333"/><circle cx="410.80" cy="253.14" r="1.5" fill="#333333"/><circle cx="410.80" cy="254.52" r="1.5" fill="#333333"/><circle cx="410.80" cy="255.90" r="1.5" fill="#333333"/><circle cx="410.80" cy="257.28" r="1.5" fill="#333333"/><circle cx="410.80" cy="258.66" r="1.5" fill="#333333"/><circle cx="410.80" cy="260.04" r="1.5" fill="#333333"/><circle cx="410.80" cy="261.42" r="1.5" fill="#333333"/><circle cx="410.80" cy="262.80" r="1.5" fill="#333333"/><circle cx="410.80" cy="264.18" r="1.5" fill="#333333"/><circle cx="410.80" cy="265.56" r="1.5" fill="#333333"/><circle cx="410.80" cy="266.94" r="1.5" fill="#333333"/><circle cx="410.80" cy="268.32" r="1.5" fill="#333333"/><circle cx="410.80" cy="269.70" r="1.5" fill="#333333"/>
<path d="M442.40 254.00V298.60M442.40 316.40V327.60" stroke="#333333" stroke-width="1.1" fill="none"/><rect x="440.85" y="298.60" width="3.10" height="17.80" fill="#A3A500" stroke="#333333" stroke-width="1.1"/><path d="M440.85 309.90h3.10" stroke="#333333" stroke-width="2.2" fill="none"/><circle cx="442.40" cy="195.25" r="1.6" fill="#333333"/><circle cx="442.40" cy="227.80" r="1.5" fill="#333333"/><circle cx="442.40" cy="230.30" r="1.5" fill="#333333"/><circle cx="442.40" cy="242.20" r="1.5" fill="#333333"/><circle cx="442.40" cy="247.80" r="1.5" fill="#333333"/><circle cx="442.40" cy="254.00" r="1.5" fill="#333333"/><circle cx="442.40" cy="255.36" r="1.5" fill="#333333"/><circle cx="442.40" cy="256.72" r="1.5" fill="#333333"/><circle cx="442.40" cy="258.07" r="1.5" fill="#333333"/><circle cx="442.40" cy="259.43" r="1.5" fill="#333333"/><circle cx="442.40" cy="260.79" r="1.5" fill="#333333"/><circle cx="442.40" cy="262.15" r="1.5" fill="#333333"/><circle cx="442.40" cy="263.51" r="1.5" fill="#333333"/><circle cx="442.40" cy="264.87" r="1.5" fill="#333333"/><circle cx="442.40" cy="266.23" r="1.5" fill="#333333"/><circle cx="442.40" cy="267.58" r="1.5" fill="#333333"/><circle cx="442.40" cy="268.94" r="1.5" fill="#333333"/><circle cx="442.40" cy="270.30" r="1.5" fill="#333333"/>
<path d="M473.80 248.00V295.70M473.80 319.30V328.30" stroke="#333333" stroke-width="1.1" fill="none"/><rect x="472.35" y="295.70" width="2.90" height="23.60" fill="#00BF7D" stroke="#333333" stroke-width="1.1"/><path d="M472.35 311.10h2.90" stroke="#333333" stroke-width="2.2" fill="none"/><circle cx="473.80" cy="188.75" r="1.6" fill="#333333"/><circle cx="473.80" cy="220.30" r="1.5" fill="#333333"/><circle cx="473.80" cy="226.50" r="1.5" fill="#333333"/><circle cx="473.80" cy="229.90" r="1.5" fill="#333333"/><circle cx="473.80" cy="233.30" r="1.5" fill="#333333"/><circle cx="473.80" cy="237.10" r="1.5" fill="#333333"/><circle cx="473.80" cy="239.20" r="1.5" fill="#333333"/><circle cx="473.80" cy="248.30" r="1.5" fill="#333333"/><circle cx="473.80" cy="249.70" r="1.5" fill="#333333"/><circle cx="473.80" cy="251.10" r="1.5" fill="#333333"/><circle cx="473.80" cy="252.50" r="1.5" fill="#333333"/><circle cx="473.80" cy="253.90" r="1.5" fill="#333333"/><circle cx="473.80" cy="255.30" r="1.5" fill="#333333"/><circle cx="473.80" cy="256.70" r="1.5" fill="#333333"/><circle cx="473.80" cy="258.10" r="1.5" fill="#333333"/><circle cx="473.80" cy="259.50" r="1.5" fill="#333333"/>
<path d="M505.20 295.00V313.00M505.20 325.20V330.60" stroke="#333333" stroke-width="1.1" fill="none"/><rect x="503.75" y="313.00" width="2.90" height="12.20" fill="#00B0F6" stroke="#333333" stroke-width="1.1"/><path d="M503.75 322.00h2.90" stroke="#333333" stroke-width="2.2" fill="none"/><circle cx="505.20" cy="248.60" r="1.5" fill="#333333"/><circle cx="505.20" cy="251.80" r="1.5" fill="#333333"/><circle cx="505.20" cy="275.90" r="1.5" fill="#333333"/><circle cx="505.20" cy="286.10" r="1.5" fill="#333333"/><circle cx="505.20" cy="293.60" r="1.5" fill="#333333"/>
<path d="M536.70 270.00V299.80M536.70 316.10V323.70" stroke="#333333" stroke-width="1.1" fill="none"/><rect x="535.25" y="299.80" width="2.90" height="16.30" fill="#E76BF3" stroke="#333333" stroke-width="1.1"/><path d="M535.25 311.40h2.90" stroke="#333333" stroke-width="2.2" fill="none"/><circle cx="536.70" cy="250.60" r="1.4" fill="#333333"/><circle cx="536.70" cy="252.40" r="1.5" fill="#333333"/><circle cx="536.70" cy="266.50" r="1.5" fill="#333333"/>
<path d="M69.80 581.10V590.50M69.80 664.20V674.60" stroke="#333333" stroke-width="1.1" fill="none"/><rect x="68.70" y="590.50" width="2.20" height="73.70" fill="#F8766D" stroke="#333333" stroke-width="1.1"/><path d="M68.70 650.40h2.20" stroke="#333333" stroke-width="2.2" fill="none"/>
<path d="M96.05 556.10V604.60M96.05 657.90V690.60" stroke="#333333" stroke-width="1.1" fill="none"/><rect x="94.80" y="604.60" width="2.50" height="53.30" fill="#B79F00" stroke="#333333" stroke-width="1.1"/><path d="M94.80 641.40h2.50" stroke="#333333" stroke-width="2.2" fill="none"/>
<path d="M122.40 476.30V561.70M122.40 617.50V704.90" stroke="#333333" stroke-width="1.1" fill="none"/><rect x="121.00" y="561.70" width="2.80" height="55.80" fill="#00BA38" stroke="#333333" stroke-width="1.1"/><path d="M121.00 590.80h2.80" stroke="#333333" stroke-width="2.2" fill="none"/><circle cx="122.40" cy="467.60" r="1.5" fill="#333333"/><circle cx="122.40" cy="471.40" r="1.5" fill="#333333"/><circle cx="122.40" cy="476.30" r="1.5" fill="#333333"/><circle cx="122.40" cy="704.90" r="1.5" fill="#333333"/>
<path d="M148.80 522.20V558.90M148.80 649.30V705.75" stroke="#333333" stroke-width="1.1" fill="none"/><rect x="147.55" y="558.90" width="2.50" height="90.40" fill="#00BFC4" stroke="#333333" stroke-width="1.1"/><path d="M147.55 620.60h2.50" stroke="#333333" stroke-width="2.2" fill="none"/>
<path d="M175.05 540.40V549.10M175.05 563.60V570.40" stroke="#333333" stroke-width="1.1" fill="none"/><rect x="173.75" y="549.10" width="2.60" height="14.50" fill="#619CFF" stroke="#333333" stroke-width="1.1"/><path d="M173.75 557.90h2.60" stroke="#333333" stroke-width="2.2" fill="none"/>
<path d="M201.55 587.10V595.50M201.55 604.30V604.30" stroke="#333333" stroke-width="1.1" fill="none"/><rect x="200.45" y="595.50" width="2.20" height="8.80" fill="#F564E3" stroke="#333333" stroke-width="1.1"/><path d="M200.45 599.90h2.20" stroke="#333333" stroke-width="2.2" fill="none"/><circle cx="201.55" cy="570.40" r="1.5" fill="#333333"/><circle cx="201.55" cy="627.90" r="1.5" fill="#333333"/><circle cx="201.55" cy="655.50" r="1.5" fill="#333333"/><circle cx="201.55" cy="667.30" r="1.5" fill="#333333"/>
<path d="M238.80 663.30V689.70M238.80 709.70V723.50" stroke="#333333" stroke-width="1.1" fill="none"/><rect x="237.30" y="689.70" width="3.00" height="20.00" fill="#F8766D" stroke="#333333" stroke-width="1.1"/><path d="M237.30 694.70h3.00" stroke="#333333" stroke-width="2.2" fill="none"/>
<path d="M265.05 641.90V675.20M265.05 702.00V723.90" stroke="#333333" stroke-width="1.1" fill="none"/><rect x="263.55" y="675.20" width="3.00" height="26.80" fill="#B79F00" stroke="#333333" stroke-width="1.1"/><path d="M263.55 687.80h3.00" stroke="#333333" stroke-width="2.2" fill="none"/>
<path d="M291.55 605.00V657.60M291.55 691.20V726.70" stroke="#333333" stroke-width="1.1" fill="none"/><rect x="290.05" y="657.60" width="3.00" height="33.60" fill="#00BA38" stroke="#333333" stroke-width="1.1"/><path d="M290.05 676.80h3.00" stroke="#333333" stroke-width="2.2" fill="none"/><circle cx="291.55" cy="540.75" r="1.6" fill="#333333"/><circle cx="291.55" cy="567.75" r="1.5" fill="#333333"/><circle cx="291.55" cy="584.25" r="1.5" fill="#333333"/><circle cx="291.55" cy="592.75" r="1.5" fill="#333333"/><circle cx="291.55" cy="594.31" r="1.5" fill="#333333"/><circle cx="291.55" cy="595.88" r="1.5" fill="#333333"/><circle cx="291.55" cy="597.44" r="1.5" fill="#333333"/><circle cx="291.55" cy="599.00" r="1.5" fill="#333333"/><circle cx="291.55" cy="600.56" r="1.5" fill="#333333"/><circle cx="291.55" cy="602.12" r="1.5" fill="#333333"/><circle cx="291.55" cy="603.69" r="1.5" fill="#333333"/><circle cx="291.55" cy="605.25" r="1.5" fill="#333333"/>
<path d="M317.95 580.75V660.40M317.95 708.50V719.80" stroke="#333333" stroke-width="1.1" fill="none"/><rect x="316.45" y="660.40" width="3.00" height="48.10" fill="#00BFC4" stroke="#333333" stroke-width="1.1"/><path d="M316.45 693.40h3.00" stroke="#333333" stroke-width="2.2" fill="none"/><circle cx="317.95" cy="580.75" r="1.5" fill="#333333"/>
<path d="M344.30 684.40V691.50M344.30 705.30V711.60" stroke="#333333" stroke-width="1.1" fill="none"/><rect x="342.80" y="691.50" width="3.00" height="13.80" fill="#619CFF" stroke="#333333" stroke-width="1.1"/><path d="M342.80 698.40h3.00" stroke="#333333" stroke-width="2.2" fill="none"/>
<path d="M370.55 645.30V664.50M370.55 688.40V718.80" stroke="#333333" stroke-width="1.1" fill="none"/><rect x="369.05" y="664.50" width="3.00" height="23.90" fill="#F564E3" stroke="#333333" stroke-width="1.1"/><path d="M369.05 681.50h3.00" stroke="#333333" stroke-width="2.2" fill="none"/>
<path d="M407.95 643.40V689.40M407.95 723.90V726.70" stroke="#333333" stroke-width="1.1" fill="none"/><rect x="406.45" y="689.40" width="3.00" height="34.50" fill="#F8766D" stroke="#333333" stroke-width="1.1"/><path d="M406.45 717.00h3.00" stroke="#333333" stroke-width="2.2" fill="none"/>
<path d="M434.20 678.40V700.30M434.20 718.30V727.10" stroke="#333333" stroke-width="1.1" fill="none"/><rect x="432.70" y="700.30" width="3.00" height="18.00" fill="#B79F00" stroke="#333333" stroke-width="1.1"/><path d="M432.70 708.70h3.00" stroke="#333333" stroke-width="2.2" fill="none"/><circle cx="434.20" cy="666.60" r="1.6" fill="#333333"/>
<path d="M460.55 617.75V671.40M460.55 704.50V727.30" stroke="#333333" stroke-width="1.1" fill="none"/><rect x="459.05" y="671.40" width="3.00" height="33.10" fill="#00BA38" stroke="#333333" stroke-width="1.1"/><path d="M459.05 691.50h3.00" stroke="#333333" stroke-width="2.2" fill="none"/><circle cx="460.55" cy="590.50" r="1.5" fill="#333333"/><circle cx="460.55" cy="597.75" r="1.5" fill="#333333"/><circle cx="460.55" cy="603.50" r="1.5" fill="#333333"/><circle cx="460.55" cy="606.50" r="1.5" fill="#333333"/><circle cx="460.55" cy="612.25" r="1.5" fill="#333333"/><circle cx="460.55" cy="617.50" r="1.5" fill="#333333"/>
<path d="M486.95 621.20V678.40M486.95 714.50V728.20" stroke="#333333" stroke-width="1.1" fill="none"/><rect x="485.45" y="678.40" width="3.00" height="36.10" fill="#00BFC4" stroke="#333333" stroke-width="1.1"/><path d="M485.45 702.80h3.00" stroke="#333333" stroke-width="2.2" fill="none"/><circle cx="486.95" cy="621.60" r="1.5" fill="#333333"/>
<path d="M513.30 653.90V661.40M513.30 692.40V715.60" stroke="#333333" stroke-width="1.1" fill="none"/><rect x="511.80" y="661.40" width="3.00" height="31.00" fill="#619CFF" stroke="#333333" stroke-width="1.1"/><path d="M511.80 668.90h3.00" stroke="#333333" stroke-width="2.2" fill="none"/>
<path d="M539.55 668.90V685.30M539.55 706.20V724.80" stroke="#333333" stroke-width="1.1" fill="none"/><rect x="538.05" y="685.30" width="3.00" height="20.90" fill="#F564E3" stroke="#333333" stroke-width="1.1"/><path d="M538.05 695.70h3.00" stroke="#333333" stroke-width="2.2" fill="none"/><circle cx="539.55" cy="646.60" r="1.6" fill="#333333"/>
<path d="M72.75 915.50V968.50M72.75 1013.50V1074.25" stroke="#333333" stroke-width="1.1" fill="none"/><rect x="71.05" y="968.50" width="3.40" height="45.00" fill="#F8766D" stroke="#333333" stroke-width="1.1"/><path d="M71.05 986.00h3.40" stroke="#333333" stroke-width="2.2" fill="none"/>
<path d="M104.25 918.50V980.50M104.25 1024.25V1088.00" stroke="#333333" stroke-width="1.1" fill="none"/><rect x="102.55" y="980.50" width="3.40" height="43.75" fill="#A3A500" stroke="#333333" stroke-width="1.1"/><path d="M102.55 1005.50h3.40" stroke="#333333" stroke-width="2.2" fill="none"/><circle cx="104.25" cy="896.00" r="1.5" fill="#333333"/><circle cx="104.25" cy="909.75" r="1.5" fill="#333333"/><circle cx="104.25" cy="912.25" r="1.5" fill="#333333"/>
<path d="M135.75 864.75V949.00M135.75 1002.00V1101.75" stroke="#333333" stroke-width="1.1" fill="none"/><rect x="134.05" y="949.00" width="3.40" height="53.00" fill="#00BF7D" stroke="#333333" stroke-width="1.1"/><path d="M134.05 975.25h3.40" stroke="#333333" stroke-width="2.2" fill="none"/><circle cx="135.75" cy="864.75" r="1.5" fill="#333333"/><circle cx="135.75" cy="1101.75" r="1.5" fill="#333333"/>
<path d="M167.25 921.75V958.00M167.25 1008.50V1059.25" stroke="#333333" stroke-width="1.1" fill="none"/><rect x="165.55" y="958.00" width="3.40" height="50.50" fill="#00B0F6" stroke="#333333" stroke-width="1.1"/><path d="M165.55 993.50h3.40" stroke="#333333" stroke-width="2.2" fill="none"/>
<path d="M199.00 908.00V952.50M199.00 1021.75V1064.75" stroke="#333333" stroke-width="1.1" fill="none"/><rect x="197.30" y="952.50" width="3.40" height="69.25" fill="#E76BF3" stroke="#333333" stroke-width="1.1"/><path d="M197.30 993.50h3.40" stroke="#333333" stroke-width="2.2" fill="none"/>
<path d="M241.75 974.75V1029.75M241.75 1078.50V1101.75" stroke="#333333" stroke-width="1.1" fill="none"/><rect x="240.05" y="1029.75" width="3.40" height="48.75" fill="#F8766D" stroke="#333333" stroke-width="1.1"/><path d="M240.05 1053.50h3.40" stroke="#333333" stroke-width="2.2" fill="none"/><circle cx="241.75" cy="953.50" r="1.5" fill="#333333"/>
<path d="M273.25 992.00V1047.25M273.25 1081.50V1115.25" stroke="#333333" stroke-width="1.1" fill="none"/><rect x="271.55" y="1047.25" width="3.40" height="34.25" fill="#A3A500" stroke="#333333" stroke-width="1.1"/><path d="M271.55 1069.00h3.40" stroke="#333333" stroke-width="2.2" fill="none"/><circle cx="273.25" cy="968.50" r="1.5" fill="#333333"/><circle cx="273.25" cy="971.50" r="1.5" fill="#333333"/><circle cx="273.25" cy="987.00" r="1.5" fill="#333333"/><circle cx="273.25" cy="989.50" r="1.5" fill="#333333"/><circle cx="273.25" cy="992.00" r="1.5" fill="#333333"/>
<path d="M304.75 946.75V1021.50M304.75 1068.50V1102.75" stroke="#333333" stroke-width="1.1" fill="none"/><rect x="303.05" y="1021.50" width="3.40" height="47.00" fill="#00BF7D" stroke="#333333" stroke-width="1.1"/><path d="M303.05 1049.00h3.40" stroke="#333333" stroke-width="2.2" fill="none"/><circle cx="304.75" cy="946.75" r="1.5" fill="#333333"/>
<path d="M336.25 1023.50V1050.50M336.25 1077.25V1114.75" stroke="#333333" stroke-width="1.1" fill="none"/><rect x="334.55" y="1050.50" width="3.40" height="26.75" fill="#00B0F6" stroke="#333333" stroke-width="1.1"/><path d="M334.55 1065.50h3.40" stroke="#333333" stroke-width="2.2" fill="none"/><circle cx="336.25" cy="1010.00" r="1.5" fill="#333333"/>
<path d="M368.00 989.00V1031.75M368.00 1083.50V1100.50" stroke="#333333" stroke-width="1.1" fill="none"/><rect x="366.30" y="1031.75" width="3.40" height="51.75" fill="#E76BF3" stroke="#333333" stroke-width="1.1"/><path d="M366.30 1062.25h3.40" stroke="#333333" stroke-width="2.2" fill="none"/>
<path d="M410.80 1057.00V1090.70M410.80 1111.50V1123.70" stroke="#333333" stroke-width="1.1" fill="none"/><rect x="409.30" y="1090.70" width="3.00" height="20.80" fill="#F8766D" stroke="#333333" stroke-width="1.1"/><path d="M409.30 1104.90h3.00" stroke="#333333" stroke-width="2.2" fill="none"/><circle cx="410.80" cy="1016.10" r="1.5" fill="#333333"/><circle cx="410.80" cy="1032.70" r="1.5" fill="#333333"/><circle cx="410.80" cy="1048.40" r="1.5" fill="#333333"/><circle cx="410.80" cy="1054.00" r="1.5" fill="#333333"/>
<path d="M442.45 1050.00V1088.50M442.45 1109.00V1124.90" stroke="#333333" stroke-width="1.1" fill="none"/><rect x="440.90" y="1088.50" width="3.10" height="20.50" fill="#A3A500" stroke="#333333" stroke-width="1.1"/><path d="M440.90 1099.80h3.10" stroke="#333333" stroke-width="2.2" fill="none"/><circle cx="442.45" cy="1007.60" r="1.5" fill="#333333"/><circle cx="442.45" cy="1029.10" r="1.5" fill="#333333"/><circle cx="442.45" cy="1033.90" r="1.5" fill="#333333"/><circle cx="442.45" cy="1042.70" r="1.5" fill="#333333"/><circle cx="442.45" cy="1045.20" r="1.5" fill="#333333"/><circle cx="442.45" cy="1047.70" r="1.5" fill="#333333"/><circle cx="442.45" cy="1050.20" r="1.5" fill="#333333"/>
<path d="M473.95 1002.25V1068.10M473.95 1106.50V1124.90" stroke="#333333" stroke-width="1.1" fill="none"/><rect x="472.45" y="1068.10" width="3.00" height="38.40" fill="#00BF7D" stroke="#333333" stroke-width="1.1"/><path d="M472.45 1091.00h3.00" stroke="#333333" stroke-width="2.2" fill="none"/><circle cx="473.95" cy="956.25" r="1.5" fill="#333333"/><circle cx="473.95" cy="995.25" r="1.5" fill="#333333"/><circle cx="473.95" cy="998.50" r="1.5" fill="#333333"/><circle cx="473.95" cy="1002.25" r="1.5" fill="#333333"/>
<path d="M505.30 1038.70V1076.40M505.30 1109.00V1121.80" stroke="#333333" stroke-width="1.1" fill="none"/><rect x="503.80" y="1076.40" width="3.00" height="32.60" fill="#00B0F6" stroke="#333333" stroke-width="1.1"/><path d="M503.80 1102.30h3.00" stroke="#333333" stroke-width="2.2" fill="none"/>
<path d="M536.85 1011.10V1068.10M536.85 1111.10V1119.30" stroke="#333333" stroke-width="1.1" fill="none"/><rect x="535.35" y="1068.10" width="3.00" height="43.00" fill="#E76BF3" stroke="#333333" stroke-width="1.1"/><path d="M535.35 1099.00h3.00" stroke="#333333" stroke-width="2.2" fill="none"/>
</g>
<g class="panel">
<text x="3.0" y="14.4" class="tag">(A)</text>
<text x="53.70" y="26.00" class="title" textLength="118.60" lengthAdjust="spacingAndGlyphs">Cancer : BRCA</text>
<rect x="54.10" y="36.15" width="162.40" height="20.75" fill="#fff"/>
<path d="M54.00 57.55V36.15H217.15" fill="none" stroke="#000" stroke-width="1.7"/>
<path d="M216.50 36.15V56.9H54.10" fill="none" stroke="#1c1c1c" stroke-width="1.3"/>
<text x="135.25" y="50.45" class="strip" text-anchor="middle" textLength="41.87" lengthAdjust="spacingAndGlyphs">NR4A1</text>
<path d="M53.40 343.8H217.20" stroke="#333333" stroke-width="1.35" fill="none"/>
<path d="M72.70 343.8v3.1" stroke="#333333" stroke-width="1.2" fill="none"/>
<text x="72.60" y="359.90" class="ax" text-anchor="middle" textLength="19.24" lengthAdjust="spacingAndGlyphs">C1</text>
<path d="M104.20 343.8v3.1" stroke="#333333" stroke-width="1.2" fill="none"/>
<text x="104.10" y="359.90" class="ax" text-anchor="middle" textLength="19.24" lengthAdjust="spacingAndGlyphs">C2</text>
<path d="M135.70 343.8v3.1" stroke="#333333" stroke-width="1.2" fill="none"/>
<text x="135.60" y="359.90" class="ax" text-anchor="middle" textLength="19.24" lengthAdjust="spacingAndGlyphs">C3</text>
<path d="M167.20 343.8v3.1" stroke="#333333" stroke-width="1.2" fill="none"/>
<text x="167.10" y="359.90" class="ax" text-anchor="middle" textLength="19.24" lengthAdjust="spacingAndGlyphs">C4</text>
<path d="M198.70 343.8v3.1" stroke="#333333" stroke-width="1.2" fill="none"/>
<text x="198.60" y="359.90" class="ax" text-anchor="middle" textLength="19.24" lengthAdjust="spacingAndGlyphs">C6</text>
<text x="77.90" y="69.60" class="star" text-anchor="middle" textLength="17.57" lengthAdjust="spacingAndGlyphs">****</text>
<rect x="223.70" y="36.15" width="162.45" height="20.75" fill="#fff"/>
<path d="M223.70 57.55V36.15H386.80" fill="none" stroke="#000" stroke-width="1.55"/>
<path d="M386.15 36.15V56.9H223.70" fill="none" stroke="#1c1c1c" stroke-width="1.3"/>
<text x="305.02" y="50.45" class="strip" text-anchor="middle" textLength="43.14" lengthAdjust="spacingAndGlyphs">NR4A2</text>
<path d="M223.00 343.8H386.85" stroke="#333333" stroke-width="1.35" fill="none"/>
<path d="M241.75 343.8v3.1" stroke="#333333" stroke-width="1.2" fill="none"/>
<text x="241.65" y="359.90" class="ax" text-anchor="middle" textLength="19.24" lengthAdjust="spacingAndGlyphs">C1</text>
<path d="M273.25 343.8v3.1" stroke="#333333" stroke-width="1.2" fill="none"/>
<text x="273.15" y="359.90" class="ax" text-anchor="middle" textLength="19.24" lengthAdjust="spacingAndGlyphs">C2</text>
<path d="M304.75 343.8v3.1" stroke="#333333" stroke-width="1.2" fill="none"/>
<text x="304.65" y="359.90" class="ax" text-anchor="middle" textLength="19.24" lengthAdjust="spacingAndGlyphs">C3</text>
<path d="M336.25 343.8v3.1" stroke="#333333" stroke-width="1.2" fill="none"/>
<text x="336.15" y="359.90" class="ax" text-anchor="middle" textLength="19.24" lengthAdjust="spacingAndGlyphs">C4</text>
<path d="M367.75 343.8v3.1" stroke="#333333" stroke-width="1.2" fill="none"/>
<text x="367.65" y="359.90" class="ax" text-anchor="middle" textLength="19.24" lengthAdjust="spacingAndGlyphs">C6</text>
<text x="247.00" y="69.60" class="star" text-anchor="middle" textLength="17.57" lengthAdjust="spacingAndGlyphs">****</text>
<rect x="392.30" y="36.15" width="163.00" height="20.75" fill="#fff"/>
<path d="M392.30 57.55V36.15H555.95" fill="none" stroke="#000" stroke-width="1.55"/>
<path d="M555.30 36.15V56.9H392.30" fill="none" stroke="#1c1c1c" stroke-width="1.3"/>
<text x="474.40" y="50.45" class="strip" text-anchor="middle" textLength="43.99" lengthAdjust="spacingAndGlyphs">NR4A3</text>
<path d="M391.60 343.8H556.00" stroke="#333333" stroke-width="1.35" fill="none"/>
<path d="M410.80 343.8v3.1" stroke="#333333" stroke-width="1.2" fill="none"/>
<text x="410.70" y="359.90" class="ax" text-anchor="middle" textLength="19.24" lengthAdjust="spacingAndGlyphs">C1</text>
<path d="M442.30 343.8v3.1" stroke="#333333" stroke-width="1.2" fill="none"/>
<text x="442.20" y="359.90" class="ax" text-anchor="middle" textLength="19.24" lengthAdjust="spacingAndGlyphs">C2</text>
<path d="M473.80 343.8v3.1" stroke="#333333" stroke-width="1.2" fill="none"/>
<text x="473.70" y="359.90" class="ax" text-anchor="middle" textLength="19.24" lengthAdjust="spacingAndGlyphs">C3</text>
<path d="M505.30 343.8v3.1" stroke="#333333" stroke-width="1.2" fill="none"/>
<text x="505.20" y="359.90" class="ax" text-anchor="middle" textLength="19.24" lengthAdjust="spacingAndGlyphs">C4</text>
<path d="M536.80 343.8v3.1" stroke="#333333" stroke-width="1.2" fill="none"/>
<text x="536.70" y="359.90" class="ax" text-anchor="middle" textLength="19.24" lengthAdjust="spacingAndGlyphs">C6</text>
<text x="416.10" y="69.60" class="star" text-anchor="middle" textLength="17.57" lengthAdjust="spacingAndGlyphs">****</text>
<path d="M54.2 56.9V344.47" stroke="#333333" stroke-width="1.35" fill="none"/>
<path d="M54.1 330.50h-3.1" stroke="#333333" stroke-width="1.2" fill="none"/>
<text x="48.50" y="336.35" class="ax" text-anchor="end" textLength="20.92" lengthAdjust="spacingAndGlyphs">0.0</text>
<path d="M54.1 263.00h-3.1" stroke="#333333" stroke-width="1.2" fill="none"/>
<text x="48.50" y="268.85" class="ax" text-anchor="end" textLength="20.92" lengthAdjust="spacingAndGlyphs">2.5</text>
<path d="M54.1 195.50h-3.1" stroke="#333333" stroke-width="1.2" fill="none"/>
<text x="48.50" y="201.35" class="ax" text-anchor="end" textLength="20.92" lengthAdjust="spacingAndGlyphs">5.0</text>
<path d="M54.1 128.00h-3.1" stroke="#333333" stroke-width="1.2" fill="none"/>
<text x="48.50" y="133.85" class="ax" text-anchor="end" textLength="20.92" lengthAdjust="spacingAndGlyphs">7.5</text>
<path d="M54.1 60.50h-3.1" stroke="#333333" stroke-width="1.2" fill="none"/>
<text x="48.50" y="66.35" class="ax" text-anchor="end" textLength="29.29" lengthAdjust="spacingAndGlyphs">10.0</text>
<text transform="translate(12.3 201.3) rotate(-90)" class="ylab" text-anchor="middle" textLength="70.2" lengthAdjust="spacingAndGlyphs">Expression</text>
<text x="572.50" y="158.05" class="legt" textLength="110.02" lengthAdjust="spacingAndGlyphs">Immune_subtype</text>
<rect x="573.45" y="167.55" width="15.8" height="15.6" fill="#F8766D" stroke="#333333" stroke-width="1.0"/>
<rect x="574.9" y="171.60" width="12.5" height="8" fill="#F8766D" stroke="#333333" stroke-width="1.0"/>
<path d="M574.9 175.55h12.5M581.3 168.10V171.60M581.3 179.60V183.10" stroke="#333333" stroke-width="1.0" fill="none"/>
<text x="597.60" y="181.20" class="ax" textLength="19.24" lengthAdjust="spacingAndGlyphs">C1</text>
<rect x="573.45" y="185.20" width="15.8" height="15.6" fill="#A3A500" stroke="#333333" stroke-width="1.0"/>
<rect x="574.9" y="189.25" width="12.5" height="8" fill="#A3A500" stroke="#333333" stroke-width="1.0"/>
<path d="M574.9 193.20h12.5M581.3 185.75V189.25M581.3 197.25V200.75" stroke="#333333" stroke-width="1.0" fill="none"/>
<text x="597.60" y="198.85" class="ax" textLength="19.24" lengthAdjust="spacingAndGlyphs">C2</text>
<rect x="573.45" y="202.85" width="15.8" height="15.6" fill="#00BF7D" stroke="#333333" stroke-width="1.0"/>
<rect x="574.9" y="206.90" width="12.5" height="8" fill="#00BF7D" stroke="#333333" stroke-width="1.0"/>
<path d="M574.9 210.85h12.5M581.3 203.40V206.90M581.3 214.90V218.40" stroke="#333333" stroke-width="1.0" fill="none"/>
<text x="597.60" y="216.50" class="ax" textLength="19.24" lengthAdjust="spacingAndGlyphs">C3</text>
<rect x="573.45" y="220.50" width="15.8" height="15.6" fill="#00B0F6" stroke="#333333" stroke-width="1.0"/>
<rect x="574.9" y="224.55" width="12.5" height="8" fill="#00B0F6" stroke="#333333" stroke-width="1.0"/>
<path d="M574.9 228.50h12.5M581.3 221.05V224.55M581.3 232.55V236.05" stroke="#333333" stroke-width="1.0" fill="none"/>
<text x="597.60" y="234.15" class="ax" textLength="19.24" lengthAdjust="spacingAndGlyphs">C4</text>
<rect x="573.45" y="238.15" width="15.8" height="15.6" fill="#E76BF3" stroke="#333333" stroke-width="1.0"/>
<rect x="574.9" y="242.20" width="12.5" height="8" fill="#E76BF3" stroke="#333333" stroke-width="1.0"/>
<path d="M574.9 246.15h12.5M581.3 238.70V242.20M581.3 250.20V253.70" stroke="#333333" stroke-width="1.0" fill="none"/>
<text x="597.60" y="251.80" class="ax" textLength="19.24" lengthAdjust="spacingAndGlyphs">C6</text>
</g>
<g class="panel">
<text x="2.9" y="411.9" class="tag" style="font-size:15px" textLength="21.8" lengthAdjust="spacingAndGlyphs">(B)</text>
<text x="53.70" y="423.80" class="title" textLength="111.64" lengthAdjust="spacingAndGlyphs">Cancer : KIRC</text>
<rect x="54.10" y="433.35" width="162.40" height="21.05" fill="#fff"/>
<path d="M54.00 455.05V433.35H217.15" fill="none" stroke="#000" stroke-width="1.95"/>
<path d="M216.50 433.35V454.4H54.10" fill="none" stroke="#1c1c1c" stroke-width="1.3"/>
<text x="135.25" y="448.10" class="strip" text-anchor="middle" textLength="41.87" lengthAdjust="spacingAndGlyphs">NR4A1</text>
<path d="M53.40 741.2H217.20" stroke="#333333" stroke-width="1.35" fill="none"/>
<path d="M69.80 741.2v3.1" stroke="#333333" stroke-width="1.2" fill="none"/>
<text x="69.70" y="757.40" class="ax" text-anchor="middle" textLength="19.24" lengthAdjust="spacingAndGlyphs">C1</text>
<path d="M96.15 741.2v3.1" stroke="#333333" stroke-width="1.2" fill="none"/>
<text x="96.05" y="757.40" class="ax" text-anchor="middle" textLength="19.24" lengthAdjust="spacingAndGlyphs">C2</text>
<path d="M122.50 741.2v3.1" stroke="#333333" stroke-width="1.2" fill="none"/>
<text x="122.40" y="757.40" class="ax" text-anchor="middle" textLength="19.24" lengthAdjust="spacingAndGlyphs">C3</text>
<path d="M148.85 741.2v3.1" stroke="#333333" stroke-width="1.2" fill="none"/>
<text x="148.75" y="757.40" class="ax" text-anchor="middle" textLength="19.24" lengthAdjust="spacingAndGlyphs">C4</text>
<path d="M175.20 741.2v3.1" stroke="#333333" stroke-width="1.2" fill="none"/>
<text x="175.10" y="757.40" class="ax" text-anchor="middle" textLength="19.24" lengthAdjust="spacingAndGlyphs">C5</text>
<path d="M201.55 741.2v3.1" stroke="#333333" stroke-width="1.2" fill="none"/>
<text x="201.45" y="757.40" class="ax" text-anchor="middle" textLength="19.24" lengthAdjust="spacingAndGlyphs">C6</text>
<text x="74.70" y="467.50" class="star" text-anchor="middle" textLength="17.57" lengthAdjust="spacingAndGlyphs" clip-path="url(#cb)">****</text>
<rect x="223.70" y="433.35" width="162.45" height="21.05" fill="#fff"/>
<path d="M223.70 455.05V433.35H386.80" fill="none" stroke="#000" stroke-width="1.8"/>
<path d="M386.15 433.35V454.4H223.70" fill="none" stroke="#1c1c1c" stroke-width="1.3"/>
<text x="305.02" y="448.10" class="strip" text-anchor="middle" textLength="43.14" lengthAdjust="spacingAndGlyphs">NR4A2</text>
<path d="M223.00 741.2H386.85" stroke="#333333" stroke-width="1.35" fill="none"/>
<path d="M238.85 741.2v3.1" stroke="#333333" stroke-width="1.2" fill="none"/>
<text x="238.75" y="757.40" class="ax" text-anchor="middle" textLength="19.24" lengthAdjust="spacingAndGlyphs">C1</text>
<path d="M265.20 741.2v3.1" stroke="#333333" stroke-width="1.2" fill="none"/>
<text x="265.10" y="757.40" class="ax" text-anchor="middle" textLength="19.24" lengthAdjust="spacingAndGlyphs">C2</text>
<path d="M291.55 741.2v3.1" stroke="#333333" stroke-width="1.2" fill="none"/>
<text x="291.45" y="757.40" class="ax" text-anchor="middle" textLength="19.24" lengthAdjust="spacingAndGlyphs">C3</text>
<path d="M317.90 741.2v3.1" stroke="#333333" stroke-width="1.2" fill="none"/>
<text x="317.80" y="757.40" class="ax" text-anchor="middle" textLength="19.24" lengthAdjust="spacingAndGlyphs">C4</text>
<path d="M344.25 741.2v3.1" stroke="#333333" stroke-width="1.2" fill="none"/>
<text x="344.15" y="757.40" class="ax" text-anchor="middle" textLength="19.24" lengthAdjust="spacingAndGlyphs">C5</text>
<path d="M370.60 741.2v3.1" stroke="#333333" stroke-width="1.2" fill="none"/>
<text x="370.50" y="757.40" class="ax" text-anchor="middle" textLength="19.24" lengthAdjust="spacingAndGlyphs">C6</text>
<text x="241.10" y="467.50" class="star" text-anchor="middle" textLength="8.78" lengthAdjust="spacingAndGlyphs" clip-path="url(#cb)">**</text>
<rect x="392.30" y="433.35" width="163.00" height="21.05" fill="#fff"/>
<path d="M392.30 455.05V433.35H555.95" fill="none" stroke="#000" stroke-width="1.8"/>
<path d="M555.30 433.35V454.4H392.30" fill="none" stroke="#1c1c1c" stroke-width="1.3"/>
<text x="474.40" y="448.10" class="strip" text-anchor="middle" textLength="43.99" lengthAdjust="spacingAndGlyphs">NR4A3</text>
<path d="M391.60 741.2H556.00" stroke="#333333" stroke-width="1.35" fill="none"/>
<path d="M407.90 741.2v3.1" stroke="#333333" stroke-width="1.2" fill="none"/>
<text x="407.80" y="757.40" class="ax" text-anchor="middle" textLength="19.24" lengthAdjust="spacingAndGlyphs">C1</text>
<path d="M434.25 741.2v3.1" stroke="#333333" stroke-width="1.2" fill="none"/>
<text x="434.15" y="757.40" class="ax" text-anchor="middle" textLength="19.24" lengthAdjust="spacingAndGlyphs">C2</text>
<path d="M460.60 741.2v3.1" stroke="#333333" stroke-width="1.2" fill="none"/>
<text x="460.50" y="757.40" class="ax" text-anchor="middle" textLength="19.24" lengthAdjust="spacingAndGlyphs">C3</text>
<path d="M486.95 741.2v3.1" stroke="#333333" stroke-width="1.2" fill="none"/>
<text x="486.85" y="757.40" class="ax" text-anchor="middle" textLength="19.24" lengthAdjust="spacingAndGlyphs">C4</text>
<path d="M513.30 741.2v3.1" stroke="#333333" stroke-width="1.2" fill="none"/>
<text x="513.20" y="757.40" class="ax" text-anchor="middle" textLength="19.24" lengthAdjust="spacingAndGlyphs">C5</text>
<path d="M539.65 741.2v3.1" stroke="#333333" stroke-width="1.2" fill="none"/>
<text x="539.55" y="757.40" class="ax" text-anchor="middle" textLength="19.24" lengthAdjust="spacingAndGlyphs">C6</text>
<text x="410.10" y="467.50" class="star" text-anchor="middle" textLength="8.78" lengthAdjust="spacingAndGlyphs" clip-path="url(#cb)">**</text>
<path d="M54.2 454.4V741.87" stroke="#333333" stroke-width="1.35" fill="none"/>
<path d="M54.1 731.50h-3.1" stroke="#333333" stroke-width="1.2" fill="none"/>
<text x="48.50" y="737.35" class="ax" text-anchor="end" textLength="20.92" lengthAdjust="spacingAndGlyphs">0.0</text>
<path d="M54.1 669.00h-3.1" stroke="#333333" stroke-width="1.2" fill="none"/>
<text x="48.50" y="674.85" class="ax" text-anchor="end" textLength="20.92" lengthAdjust="spacingAndGlyphs">2.5</text>
<path d="M54.1 606.50h-3.1" stroke="#333333" stroke-width="1.2" fill="none"/>
<text x="48.50" y="612.35" class="ax" text-anchor="end" textLength="20.92" lengthAdjust="spacingAndGlyphs">5.0</text>
<path d="M54.1 544.00h-3.1" stroke="#333333" stroke-width="1.2" fill="none"/>
<text x="48.50" y="549.85" class="ax" text-anchor="end" textLength="20.92" lengthAdjust="spacingAndGlyphs">7.5</text>
<path d="M54.1 481.50h-3.1" stroke="#333333" stroke-width="1.2" fill="none"/>
<text x="48.50" y="487.35" class="ax" text-anchor="end" textLength="29.29" lengthAdjust="spacingAndGlyphs">10.0</text>
<text transform="translate(12.3 598.2) rotate(-90)" class="ylab" text-anchor="middle" textLength="70.2" lengthAdjust="spacingAndGlyphs">Expression</text>
<text x="572.50" y="546.20" class="legt" textLength="110.02" lengthAdjust="spacingAndGlyphs">Immune_subtype</text>
<rect x="573.45" y="556.25" width="15.8" height="15.6" fill="#F8766D" stroke="#333333" stroke-width="1.0"/>
<rect x="574.9" y="560.30" width="12.5" height="8" fill="#F8766D" stroke="#333333" stroke-width="1.0"/>
<path d="M574.9 564.25h12.5M581.3 556.80V560.30M581.3 568.30V571.80" stroke="#333333" stroke-width="1.0" fill="none"/>
<text x="597.60" y="569.90" class="ax" textLength="19.24" lengthAdjust="spacingAndGlyphs">C1</text>
<rect x="573.45" y="573.90" width="15.8" height="15.6" fill="#B79F00" stroke="#333333" stroke-width="1.0"/>
<rect x="574.9" y="577.95" width="12.5" height="8" fill="#B79F00" stroke="#333333" stroke-width="1.0"/>
<path d="M574.9 581.90h12.5M581.3 574.45V577.95M581.3 585.95V589.45" stroke="#333333" stroke-width="1.0" fill="none"/>
<text x="597.60" y="587.55" class="ax" textLength="19.24" lengthAdjust="spacingAndGlyphs">C2</text>
<rect x="573.45" y="591.55" width="15.8" height="15.6" fill="#00BA38" stroke="#333333" stroke-width="1.0"/>
<rect x="574.9" y="595.60" width="12.5" height="8" fill="#00BA38" stroke="#333333" stroke-width="1.0"/>
<path d="M574.9 599.55h12.5M581.3 592.10V595.60M581.3 603.60V607.10" stroke="#333333" stroke-width="1.0" fill="none"/>
<text x="597.60" y="605.20" class="ax" textLength="19.24" lengthAdjust="spacingAndGlyphs">C3</text>
<rect x="573.45" y="609.20" width="15.8" height="15.6" fill="#00BFC4" stroke="#333333" stroke-width="1.0"/>
<rect x="574.9" y="613.25" width="12.5" height="8" fill="#00BFC4" stroke="#333333" stroke-width="1.0"/>
<path d="M574.9 617.20h12.5M581.3 609.75V613.25M581.3 621.25V624.75" stroke="#333333" stroke-width="1.0" fill="none"/>
<text x="597.60" y="622.85" class="ax" textLength="19.24" lengthAdjust="spacingAndGlyphs">C4</text>
<rect x="573.45" y="626.85" width="15.8" height="15.6" fill="#619CFF" stroke="#333333" stroke-width="1.0"/>
<rect x="574.9" y="630.90" width="12.5" height="8" fill="#619CFF" stroke="#333333" stroke-width="1.0"/>
<path d="M574.9 634.85h12.5M581.3 627.40V630.90M581.3 638.90V642.40" stroke="#333333" stroke-width="1.0" fill="none"/>
<text x="597.60" y="640.50" class="ax" textLength="19.24" lengthAdjust="spacingAndGlyphs">C5</text>
<rect x="573.45" y="644.50" width="15.8" height="15.6" fill="#F564E3" stroke="#333333" stroke-width="1.0"/>
<rect x="574.9" y="648.55" width="12.5" height="8" fill="#F564E3" stroke="#333333" stroke-width="1.0"/>
<path d="M574.9 652.50h12.5M581.3 645.05V648.55M581.3 656.55V660.05" stroke="#333333" stroke-width="1.0" fill="none"/>
<text x="597.60" y="658.15" class="ax" textLength="19.24" lengthAdjust="spacingAndGlyphs">C6</text>
</g>
<g class="panel">
<text x="2.9" y="809.9" class="tag" style="font-size:15px" textLength="21.8" lengthAdjust="spacingAndGlyphs">(C)</text>
<text x="53.70" y="820.80" class="title" textLength="115.26" lengthAdjust="spacingAndGlyphs">Cancer : LUAD</text>
<rect x="54.10" y="830.65" width="162.40" height="20.75" fill="#fff"/>
<path d="M54.00 852.05V830.65H217.15" fill="none" stroke="#000" stroke-width="1.95"/>
<path d="M216.50 830.65V851.4H54.10" fill="none" stroke="#1c1c1c" stroke-width="1.3"/>
<text x="135.25" y="845.10" class="strip" text-anchor="middle" textLength="41.87" lengthAdjust="spacingAndGlyphs">NR4A1</text>
<path d="M53.40 1138.2H217.20" stroke="#333333" stroke-width="1.35" fill="none"/>
<path d="M72.70 1138.2v3.1" stroke="#333333" stroke-width="1.2" fill="none"/>
<text x="72.60" y="1154.20" class="ax" text-anchor="middle" textLength="19.24" lengthAdjust="spacingAndGlyphs">C1</text>
<path d="M104.20 1138.2v3.1" stroke="#333333" stroke-width="1.2" fill="none"/>
<text x="104.10" y="1154.20" class="ax" text-anchor="middle" textLength="19.24" lengthAdjust="spacingAndGlyphs">C2</text>
<path d="M135.70 1138.2v3.1" stroke="#333333" stroke-width="1.2" fill="none"/>
<text x="135.60" y="1154.20" class="ax" text-anchor="middle" textLength="19.24" lengthAdjust="spacingAndGlyphs">C3</text>
<path d="M167.20 1138.2v3.1" stroke="#333333" stroke-width="1.2" fill="none"/>
<text x="167.10" y="1154.20" class="ax" text-anchor="middle" textLength="19.24" lengthAdjust="spacingAndGlyphs">C4</text>
<path d="M198.70 1138.2v3.1" stroke="#333333" stroke-width="1.2" fill="none"/>
<text x="198.60" y="1154.20" class="ax" text-anchor="middle" textLength="19.24" lengthAdjust="spacingAndGlyphs">C6</text>
<text x="77.90" y="864.20" class="star" text-anchor="middle" textLength="17.57" lengthAdjust="spacingAndGlyphs">****</text>
<rect x="223.70" y="830.65" width="162.45" height="20.75" fill="#fff"/>
<path d="M223.70 852.05V830.65H386.80" fill="none" stroke="#000" stroke-width="1.8"/>
<path d="M386.15 830.65V851.4H223.70" fill="none" stroke="#1c1c1c" stroke-width="1.3"/>
<text x="305.02" y="845.10" class="strip" text-anchor="middle" textLength="43.14" lengthAdjust="spacingAndGlyphs">NR4A2</text>
<path d="M223.00 1138.2H386.85" stroke="#333333" stroke-width="1.35" fill="none"/>
<path d="M241.75 1138.2v3.1" stroke="#333333" stroke-width="1.2" fill="none"/>
<text x="241.65" y="1154.20" class="ax" text-anchor="middle" textLength="19.24" lengthAdjust="spacingAndGlyphs">C1</text>
<path d="M273.25 1138.2v3.1" stroke="#333333" stroke-width="1.2" fill="none"/>
<text x="273.15" y="1154.20" class="ax" text-anchor="middle" textLength="19.24" lengthAdjust="spacingAndGlyphs">C2</text>
<path d="M304.75 1138.2v3.1" stroke="#333333" stroke-width="1.2" fill="none"/>
<text x="304.65" y="1154.20" class="ax" text-anchor="middle" textLength="19.24" lengthAdjust="spacingAndGlyphs">C3</text>
<path d="M336.25 1138.2v3.1" stroke="#333333" stroke-width="1.2" fill="none"/>
<text x="336.15" y="1154.20" class="ax" text-anchor="middle" textLength="19.24" lengthAdjust="spacingAndGlyphs">C4</text>
<path d="M367.75 1138.2v3.1" stroke="#333333" stroke-width="1.2" fill="none"/>
<text x="367.65" y="1154.20" class="ax" text-anchor="middle" textLength="19.24" lengthAdjust="spacingAndGlyphs">C6</text>
<text x="247.00" y="864.20" class="star" text-anchor="middle" textLength="17.57" lengthAdjust="spacingAndGlyphs">****</text>
<rect x="392.30" y="830.65" width="163.00" height="20.75" fill="#fff"/>
<path d="M392.30 852.05V830.65H555.95" fill="none" stroke="#000" stroke-width="1.8"/>
<path d="M555.30 830.65V851.4H392.30" fill="none" stroke="#1c1c1c" stroke-width="1.3"/>
<text x="474.40" y="845.10" class="strip" text-anchor="middle" textLength="43.99" lengthAdjust="spacingAndGlyphs">NR4A3</text>
<path d="M391.60 1138.2H556.00" stroke="#333333" stroke-width="1.35" fill="none"/>
<path d="M410.80 1138.2v3.1" stroke="#333333" stroke-width="1.2" fill="none"/>
<text x="410.70" y="1154.20" class="ax" text-anchor="middle" textLength="19.24" lengthAdjust="spacingAndGlyphs">C1</text>
<path d="M442.30 1138.2v3.1" stroke="#333333" stroke-width="1.2" fill="none"/>
<text x="442.20" y="1154.20" class="ax" text-anchor="middle" textLength="19.24" lengthAdjust="spacingAndGlyphs">C2</text>
<path d="M473.80 1138.2v3.1" stroke="#333333" stroke-width="1.2" fill="none"/>
<text x="473.70" y="1154.20" class="ax" text-anchor="middle" textLength="19.24" lengthAdjust="spacingAndGlyphs">C3</text>
<path d="M505.30 1138.2v3.1" stroke="#333333" stroke-width="1.2" fill="none"/>
<text x="505.20" y="1154.20" class="ax" text-anchor="middle" textLength="19.24" lengthAdjust="spacingAndGlyphs">C4</text>
<path d="M536.80 1138.2v3.1" stroke="#333333" stroke-width="1.2" fill="none"/>
<text x="536.70" y="1154.20" class="ax" text-anchor="middle" textLength="19.24" lengthAdjust="spacingAndGlyphs">C6</text>
<text x="414.50" y="864.20" class="star" text-anchor="middle" textLength="13.18" lengthAdjust="spacingAndGlyphs">***</text>
<path d="M54.2 851.4V1138.8700000000001" stroke="#333333" stroke-width="1.35" fill="none"/>
<path d="M54.1 1127.40h-3.1" stroke="#333333" stroke-width="1.2" fill="none"/>
<text x="48.50" y="1133.25" class="ax" text-anchor="end" textLength="20.92" lengthAdjust="spacingAndGlyphs">0.0</text>
<path d="M54.1 1061.65h-3.1" stroke="#333333" stroke-width="1.2" fill="none"/>
<text x="48.50" y="1067.50" class="ax" text-anchor="end" textLength="20.92" lengthAdjust="spacingAndGlyphs">2.5</text>
<path d="M54.1 995.90h-3.1" stroke="#333333" stroke-width="1.2" fill="none"/>
<text x="48.50" y="1001.75" class="ax" text-anchor="end" textLength="20.92" lengthAdjust="spacingAndGlyphs">5.0</text>
<path d="M54.1 930.15h-3.1" stroke="#333333" stroke-width="1.2" fill="none"/>
<text x="48.50" y="936.00" class="ax" text-anchor="end" textLength="20.92" lengthAdjust="spacingAndGlyphs">7.5</text>
<path d="M54.1 864.40h-3.1" stroke="#333333" stroke-width="1.2" fill="none"/>
<text x="48.50" y="870.25" class="ax" text-anchor="end" textLength="29.29" lengthAdjust="spacingAndGlyphs">10.0</text>
<text transform="translate(12.3 995.6) rotate(-90)" class="ylab" text-anchor="middle" textLength="70.2" lengthAdjust="spacingAndGlyphs">Expression</text>
<text x="572.50" y="952.70" class="legt" textLength="110.02" lengthAdjust="spacingAndGlyphs">Immune_subtype</text>
<rect x="573.45" y="962.25" width="15.8" height="15.6" fill="#F8766D" stroke="#333333" stroke-width="1.0"/>
<rect x="574.9" y="966.30" width="12.5" height="8" fill="#F8766D" stroke="#333333" stroke-width="1.0"/>
<path d="M574.9 970.25h12.5M581.3 962.80V966.30M581.3 974.30V977.80" stroke="#333333" stroke-width="1.0" fill="none"/>
<text x="597.60" y="975.90" class="ax" textLength="19.24" lengthAdjust="spacingAndGlyphs">C1</text>
<rect x="573.45" y="979.90" width="15.8" height="15.6" fill="#A3A500" stroke="#333333" stroke-width="1.0"/>
<rect x="574.9" y="983.95" width="12.5" height="8" fill="#A3A500" stroke="#333333" stroke-width="1.0"/>
<path d="M574.9 987.90h12.5M581.3 980.45V983.95M581.3 991.95V995.45" stroke="#333333" stroke-width="1.0" fill="none"/>
<text x="597.60" y="993.55" class="ax" textLength="19.24" lengthAdjust="spacingAndGlyphs">C2</text>
<rect x="573.45" y="997.55" width="15.8" height="15.6" fill="#00BF7D" stroke="#333333" stroke-width="1.0"/>
<rect x="574.9" y="1001.60" width="12.5" height="8" fill="#00BF7D" stroke="#333333" stroke-width="1.0"/>
<path d="M574.9 1005.55h12.5M581.3 998.10V1001.60M581.3 1009.60V1013.10" stroke="#333333" stroke-width="1.0" fill="none"/>
<text x="597.60" y="1011.20" class="ax" textLength="19.24" lengthAdjust="spacingAndGlyphs">C3</text>
<rect x="573.45" y="1015.20" width="15.8" height="15.6" fill="#00B0F6" stroke="#333333" stroke-width="1.0"/>
<rect x="574.9" y="1019.25" width="12.5" height="8" fill="#00B0F6" stroke="#333333" stroke-width="1.0"/>
<path d="M574.9 1023.20h12.5M581.3 1015.75V1019.25M581.3 1027.25V1030.75" stroke="#333333" stroke-width="1.0" fill="none"/>
<text x="597.60" y="1028.85" class="ax" textLength="19.24" lengthAdjust="spacingAndGlyphs">C4</text>
<rect x="573.45" y="1032.85" width="15.8" height="15.6" fill="#E76BF3" stroke="#333333" stroke-width="1.0"/>
<rect x="574.9" y="1036.90" width="12.5" height="8" fill="#E76BF3" stroke="#333333" stroke-width="1.0"/>
<path d="M574.9 1040.85h12.5M581.3 1033.40V1036.90M581.3 1044.90V1048.40" stroke="#333333" stroke-width="1.0" fill="none"/>
<text x="597.60" y="1046.50" class="ax" textLength="19.24" lengthAdjust="spacingAndGlyphs">C6</text>
</g>
</svg>
</body></html>
